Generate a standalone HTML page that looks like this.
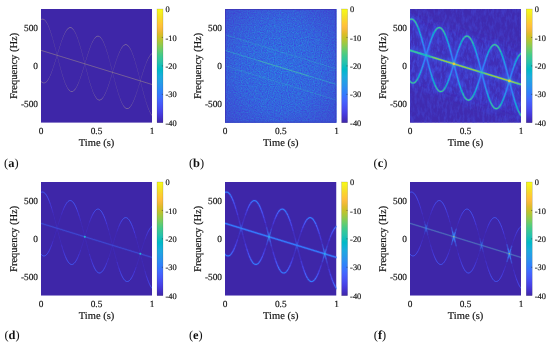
<!DOCTYPE html>
<html lang="en"><head><meta charset="utf-8"><title>Time-frequency representations</title>
<style>
html,body{margin:0;padding:0;background:#fff;}
body{width:550px;height:344px;overflow:hidden;}
svg{display:block;}
text{font-family:"Liberation Serif","Times New Roman",serif;fill:#141414;stroke:#141414;stroke-width:0.18px;text-rendering:geometricPrecision;}
.tk{font-size:9.3px;}
.cbt{font-size:8.4px;}
.ax{font-size:10.5px;}
.sub{font-size:12.4px;fill:#111;stroke:none;}
.sub tspan{font-weight:bold;}
</style></head><body>
<svg width="550" height="344" viewBox="0 0 550 344">
<defs>
<linearGradient id="cb" x1="0" y1="0" x2="0" y2="1"><stop offset="0.0000" stop-color="#f9fb15"/><stop offset="0.0312" stop-color="#f6ef20"/><stop offset="0.0625" stop-color="#f5e327"/><stop offset="0.0938" stop-color="#f9d62d"/><stop offset="0.1250" stop-color="#feca33"/><stop offset="0.1562" stop-color="#febe3c"/><stop offset="0.1875" stop-color="#f1ba37"/><stop offset="0.2188" stop-color="#debc2a"/><stop offset="0.2500" stop-color="#c8c129"/><stop offset="0.2812" stop-color="#afc637"/><stop offset="0.3125" stop-color="#94ca4a"/><stop offset="0.3438" stop-color="#77cc60"/><stop offset="0.3750" stop-color="#5ccc76"/><stop offset="0.4062" stop-color="#44ca8a"/><stop offset="0.4375" stop-color="#34c79c"/><stop offset="0.4688" stop-color="#28c2ab"/><stop offset="0.5000" stop-color="#12beb9"/><stop offset="0.5312" stop-color="#01b9c6"/><stop offset="0.5625" stop-color="#0cb3d3"/><stop offset="0.5938" stop-color="#1aacdd"/><stop offset="0.6250" stop-color="#21a3e3"/><stop offset="0.6562" stop-color="#269ae9"/><stop offset="0.6875" stop-color="#2c90f0"/><stop offset="0.7188" stop-color="#2e85f8"/><stop offset="0.7500" stop-color="#347afd"/><stop offset="0.7812" stop-color="#3f6efe"/><stop offset="0.8125" stop-color="#4562fc"/><stop offset="0.8438" stop-color="#4757f7"/><stop offset="0.8750" stop-color="#484cef"/><stop offset="0.9062" stop-color="#4741e5"/><stop offset="0.9375" stop-color="#4536d5"/><stop offset="0.9688" stop-color="#422ebf"/><stop offset="1.0000" stop-color="#3e26a8"/></linearGradient>
<filter id="b03" x="-20%" y="-20%" width="140%" height="140%"><feGaussianBlur stdDeviation="0.3"/></filter>
<filter id="b05" x="-20%" y="-20%" width="140%" height="140%"><feGaussianBlur stdDeviation="0.5"/></filter>
<filter id="b1" x="-20%" y="-20%" width="140%" height="140%"><feGaussianBlur stdDeviation="1"/></filter>
<filter id="b2" x="-20%" y="-20%" width="140%" height="140%"><feGaussianBlur stdDeviation="2"/></filter>
<filter id="b4" x="-30%" y="-30%" width="160%" height="160%"><feGaussianBlur stdDeviation="4"/></filter>
<filter id="nz" color-interpolation-filters="sRGB" x="0" y="0" width="100%" height="100%"><feTurbulence type="fractalNoise" baseFrequency="0.85" numOctaves="2" seed="3" result="n"/><feColorMatrix in="n" type="matrix" values="-0.10 0 0 0 0.24  0.42 0 0 0 0.22  0 0 0.1 0 0.83  0 0 0 0 1"/></filter>
<filter id="nz2" color-interpolation-filters="sRGB" x="0" y="0" width="100%" height="100%"><feTurbulence type="fractalNoise" baseFrequency="0.4 0.14" numOctaves="3" seed="11" result="n"/><feColorMatrix in="n" type="matrix" values="0 0 0 0 0.27  0 0 0 0 0.34  0 0 0 0 0.92  2.6 0 0 0 -1.0"/></filter>
<radialGradient id="rb" cx="0.5" cy="0.5" r="0.75"><stop offset="0" stop-color="#4438c8" stop-opacity="0"/><stop offset="0.5" stop-color="#4438c8" stop-opacity="0.17"/><stop offset="1" stop-color="#4438c8" stop-opacity="0.68"/></radialGradient>
<linearGradient id="lgc" gradientUnits="userSpaceOnUse" x1="0" y1="0" x2="111" y2="0"><stop offset="0" stop-color="#39c895"/><stop offset="0.08" stop-color="#39c895"/><stop offset="0.13" stop-color="#05b6ce"/><stop offset="0.17" stop-color="#12beb9"/><stop offset="0.22" stop-color="#88cb53"/><stop offset="0.36" stop-color="#9fc942"/><stop offset="0.4" stop-color="#eaba31"/><stop offset="0.44" stop-color="#9fc942"/><stop offset="0.6" stop-color="#94ca4a"/><stop offset="0.645" stop-color="#39c895"/><stop offset="0.69" stop-color="#94ca4a"/><stop offset="0.86" stop-color="#b4c533"/><stop offset="0.9" stop-color="#f8ba3d"/><stop offset="0.94" stop-color="#88cb53"/><stop offset="1" stop-color="#5ccc76"/></linearGradient>
<clipPath id="cp00"><rect x="0" y="0" width="111" height="113.8"/></clipPath>
<clipPath id="cp01"><rect x="0" y="0" width="111.5" height="113.8"/></clipPath>
<clipPath id="cp02"><rect x="0" y="0" width="111" height="113.8"/></clipPath>
<clipPath id="cp10"><rect x="0" y="0" width="111" height="113.7"/></clipPath>
<clipPath id="cp11"><rect x="0" y="0" width="111.5" height="113.7"/></clipPath>
<clipPath id="cp12"><rect x="0" y="0" width="111" height="113.7"/></clipPath>
</defs>
<rect width="550" height="344" fill="#fff"/>
<g transform="translate(41,9)" clip-path="url(#cp00)">
<rect width="111" height="113.8" fill="#3e26a8"/>
<path d="M-1.11,11.03 L-0.64,10.59 L-0.17,10.24 L0.31,9.97 L0.78,9.80 L1.25,9.71 L1.72,9.71 L2.19,9.81 L2.66,9.99 L3.14,10.27 L3.61,10.64 L4.08,11.09 L4.55,11.64 L5.02,12.27 L5.49,12.99 L5.97,13.79 L6.44,14.68 L6.91,15.65 L7.38,16.69 L7.85,17.81 L8.32,19.01 L8.80,20.27 L9.27,21.60 L9.74,23.00 L10.21,24.45 L10.68,25.96 L11.16,27.52 L11.63,29.14 L12.10,30.79 L12.57,32.49 L13.04,34.22 L13.51,35.98 L13.99,37.76 L14.46,39.57 L14.93,41.40 L15.40,43.23 L15.87,45.08 L16.34,46.93 L16.82,48.77 L17.29,50.61 L17.76,52.43 L18.23,54.24 L18.70,56.02 L19.18,57.78 L19.65,59.51 L20.12,61.20 L20.59,62.86 L21.06,64.46 L21.53,66.02 L22.01,67.53 L22.48,68.98 L22.95,70.37 L23.42,71.70 L23.89,72.96 L24.36,74.15 L24.84,75.27 L25.31,76.31 L25.78,77.27 L26.25,78.15 L26.72,78.95 L27.20,79.67 L27.67,80.29 L28.14,80.83 L28.61,81.28 L29.08,81.65 L29.55,81.92 L30.03,82.10 L30.50,82.18 L30.97,82.18 L31.44,82.09 L31.91,81.91 L32.38,81.64 L32.86,81.28 L33.33,80.84 L33.80,80.31 L34.27,79.70 L34.74,79.01 L35.21,78.24 L35.69,77.39 L36.16,76.48 L36.63,75.49 L37.10,74.44 L37.57,73.32 L38.05,72.15 L38.52,70.92 L38.99,69.64 L39.46,68.31 L39.93,66.94 L40.40,65.53 L40.88,64.08 L41.35,62.60 L41.82,61.10 L42.29,59.58 L42.76,58.04 L43.23,56.50 L43.71,54.94 L44.18,53.38 L44.65,51.83 L45.12,50.29 L45.59,48.75 L46.06,47.24 L46.54,45.75 L47.01,44.29 L47.48,42.85 L47.95,41.46 L48.42,40.10 L48.90,38.79 L49.37,37.53 L49.84,36.33 L50.31,35.17 L50.78,34.09 L51.25,33.06 L51.73,32.10 L52.20,31.21 L52.67,30.40 L53.14,29.66 L53.61,29.01 L54.08,28.43 L54.56,27.93 L55.03,27.53 L55.50,27.20 L55.97,26.97 L56.44,26.83 L56.92,26.77 L57.39,26.81 L57.86,26.93 L58.33,27.15 L58.80,27.46 L59.27,27.86 L59.75,28.34 L60.22,28.92 L60.69,29.58 L61.16,30.33 L61.63,31.16 L62.10,32.08 L62.58,33.08 L63.05,34.15 L63.52,35.30 L63.99,36.51 L64.46,37.80 L64.94,39.16 L65.41,40.57 L65.88,42.05 L66.35,43.58 L66.82,45.16 L67.29,46.78 L67.77,48.45 L68.24,50.16 L68.71,51.90 L69.18,53.67 L69.65,55.47 L70.12,57.28 L70.60,59.11 L71.07,60.95 L71.54,62.80 L72.01,64.65 L72.48,66.49 L72.95,68.32 L73.43,70.14 L73.90,71.94 L74.37,73.72 L74.84,75.47 L75.31,77.18 L75.79,78.86 L76.26,80.50 L76.73,82.09 L77.20,83.63 L77.67,85.12 L78.14,86.55 L78.62,87.92 L79.09,89.22 L79.56,90.46 L80.03,91.62 L80.50,92.71 L80.97,93.73 L81.45,94.66 L81.92,95.51 L82.39,96.28 L82.86,96.97 L83.33,97.56 L83.81,98.07 L84.28,98.49 L84.75,98.82 L85.22,99.06 L85.69,99.21 L86.16,99.26 L86.64,99.23 L87.11,99.11 L87.58,98.89 L88.05,98.59 L88.52,98.20 L88.99,97.73 L89.47,97.17 L89.94,96.53 L90.41,95.81 L90.88,95.02 L91.35,94.15 L91.82,93.21 L92.30,92.20 L92.77,91.12 L93.24,89.99 L93.71,88.79 L94.18,87.54 L94.66,86.24 L95.13,84.90 L95.60,83.51 L96.07,82.09 L96.54,80.63 L97.01,79.15 L97.49,77.64 L97.96,76.11 L98.43,74.57 L98.90,73.02 L99.37,71.46 L99.84,69.91 L100.32,68.35 L100.79,66.81 L101.26,65.29 L101.73,63.78 L102.20,62.30 L102.68,60.85 L103.15,59.43 L103.62,58.05 L104.09,56.71 L104.56,55.41 L105.03,54.17 L105.51,52.98 L105.98,51.85 L106.45,50.79 L106.92,49.78 L107.39,48.85 L107.86,47.99 L108.34,47.20 L108.81,46.49 L109.28,45.86 L109.75,45.31 L110.22,44.85 L110.69,44.47 L111.17,44.18 L111.64,43.98 L112.11,43.87 L112.11,44.57 L111.64,44.68 L111.17,44.88 L110.69,45.17 L110.22,45.55 L109.75,46.01 L109.28,46.56 L108.81,47.19 L108.34,47.90 L107.86,48.69 L107.39,49.55 L106.92,50.48 L106.45,51.49 L105.98,52.55 L105.51,53.68 L105.03,54.87 L104.56,56.11 L104.09,57.41 L103.62,58.75 L103.15,60.13 L102.68,61.55 L102.20,63.00 L101.73,64.48 L101.26,65.99 L100.79,67.51 L100.32,69.05 L99.84,70.61 L99.37,72.16 L98.90,73.72 L98.43,75.27 L97.96,76.81 L97.49,78.34 L97.01,79.85 L96.54,81.33 L96.07,82.79 L95.60,84.21 L95.13,85.60 L94.66,86.94 L94.18,88.24 L93.71,89.49 L93.24,90.69 L92.77,91.82 L92.30,92.90 L91.82,93.91 L91.35,94.85 L90.88,95.72 L90.41,96.51 L89.94,97.23 L89.47,97.87 L88.99,98.43 L88.52,98.90 L88.05,99.29 L87.58,99.59 L87.11,99.81 L86.64,99.93 L86.16,99.96 L85.69,99.91 L85.22,99.76 L84.75,99.52 L84.28,99.19 L83.81,98.77 L83.33,98.26 L82.86,97.67 L82.39,96.98 L81.92,96.21 L81.45,95.36 L80.97,94.43 L80.50,93.41 L80.03,92.32 L79.56,91.16 L79.09,89.92 L78.62,88.62 L78.14,87.25 L77.67,85.82 L77.20,84.33 L76.73,82.79 L76.26,81.20 L75.79,79.56 L75.31,77.88 L74.84,76.17 L74.37,74.42 L73.90,72.64 L73.43,70.84 L72.95,69.02 L72.48,67.19 L72.01,65.35 L71.54,63.50 L71.07,61.65 L70.60,59.81 L70.12,57.98 L69.65,56.17 L69.18,54.37 L68.71,52.60 L68.24,50.86 L67.77,49.15 L67.29,47.48 L66.82,45.86 L66.35,44.28 L65.88,42.75 L65.41,41.27 L64.94,39.86 L64.46,38.50 L63.99,37.21 L63.52,36.00 L63.05,34.85 L62.58,33.78 L62.10,32.78 L61.63,31.86 L61.16,31.03 L60.69,30.28 L60.22,29.62 L59.75,29.04 L59.27,28.56 L58.80,28.16 L58.33,27.85 L57.86,27.63 L57.39,27.51 L56.92,27.47 L56.44,27.53 L55.97,27.67 L55.50,27.90 L55.03,28.23 L54.56,28.63 L54.08,29.13 L53.61,29.71 L53.14,30.36 L52.67,31.10 L52.20,31.91 L51.73,32.80 L51.25,33.76 L50.78,34.79 L50.31,35.87 L49.84,37.03 L49.37,38.23 L48.90,39.49 L48.42,40.80 L47.95,42.16 L47.48,43.55 L47.01,44.99 L46.54,46.45 L46.06,47.94 L45.59,49.45 L45.12,50.99 L44.65,52.53 L44.18,54.08 L43.71,55.64 L43.23,57.20 L42.76,58.74 L42.29,60.28 L41.82,61.80 L41.35,63.30 L40.88,64.78 L40.40,66.23 L39.93,67.64 L39.46,69.01 L38.99,70.34 L38.52,71.62 L38.05,72.85 L37.57,74.02 L37.10,75.14 L36.63,76.19 L36.16,77.18 L35.69,78.09 L35.21,78.94 L34.74,79.71 L34.27,80.40 L33.80,81.01 L33.33,81.54 L32.86,81.98 L32.38,82.34 L31.91,82.61 L31.44,82.79 L30.97,82.88 L30.50,82.88 L30.03,82.80 L29.55,82.62 L29.08,82.35 L28.61,81.98 L28.14,81.53 L27.67,80.99 L27.20,80.37 L26.72,79.65 L26.25,78.85 L25.78,77.97 L25.31,77.01 L24.84,75.97 L24.36,74.85 L23.89,73.66 L23.42,72.40 L22.95,71.07 L22.48,69.68 L22.01,68.23 L21.53,66.72 L21.06,65.16 L20.59,63.56 L20.12,61.90 L19.65,60.21 L19.18,58.48 L18.70,56.72 L18.23,54.94 L17.76,53.13 L17.29,51.31 L16.82,49.47 L16.34,47.63 L15.87,45.78 L15.40,43.93 L14.93,42.10 L14.46,40.27 L13.99,38.46 L13.51,36.68 L13.04,34.92 L12.57,33.19 L12.10,31.49 L11.63,29.84 L11.16,28.22 L10.68,26.66 L10.21,25.15 L9.74,23.70 L9.27,22.30 L8.80,20.97 L8.32,19.71 L7.85,18.51 L7.38,17.39 L6.91,16.35 L6.44,15.38 L5.97,14.49 L5.49,13.69 L5.02,12.97 L4.55,12.34 L4.08,11.79 L3.61,11.34 L3.14,10.97 L2.66,10.69 L2.19,10.51 L1.72,10.41 L1.25,10.41 L0.78,10.50 L0.31,10.67 L-0.17,10.94 L-0.64,11.29 L-1.11,11.73Z" fill="#e8d890" fill-opacity="0.42"/>
<path d="M-1.11,70.28 L-0.64,71.01 L-0.17,71.65 L0.31,72.21 L0.78,72.68 L1.25,73.05 L1.72,73.34 L2.19,73.54 L2.66,73.64 L3.14,73.65 L3.61,73.58 L4.08,73.41 L4.55,73.16 L5.02,72.82 L5.49,72.39 L5.97,71.87 L6.44,71.28 L6.91,70.60 L7.38,69.84 L7.85,69.01 L8.32,68.11 L8.80,67.14 L9.27,66.09 L9.74,64.99 L10.21,63.83 L10.68,62.61 L11.16,61.33 L11.63,60.01 L12.10,58.65 L12.57,57.24 L13.04,55.80 L13.51,54.33 L13.99,52.83 L14.46,51.32 L14.93,49.78 L15.40,48.23 L15.87,46.68 L16.34,45.12 L16.82,43.57 L17.29,42.02 L17.76,40.49 L18.23,38.97 L18.70,37.48 L19.18,36.01 L19.65,34.57 L20.12,33.17 L20.59,31.80 L21.06,30.49 L21.53,29.22 L22.01,28.00 L22.48,26.84 L22.95,25.74 L23.42,24.70 L23.89,23.73 L24.36,22.83 L24.84,22.00 L25.31,21.25 L25.78,20.58 L26.25,19.99 L26.72,19.48 L27.20,19.06 L27.67,18.72 L28.14,18.47 L28.61,18.31 L29.08,18.24 L29.55,18.26 L30.03,18.37 L30.50,18.57 L30.97,18.86 L31.44,19.24 L31.91,19.72 L32.38,20.28 L32.86,20.92 L33.33,21.66 L33.80,22.48 L34.27,23.38 L34.74,24.36 L35.21,25.42 L35.69,26.55 L36.16,27.76 L36.63,29.04 L37.10,30.38 L37.57,31.78 L38.05,33.25 L38.52,34.77 L38.99,36.34 L39.46,37.96 L39.93,39.62 L40.40,41.32 L40.88,43.06 L41.35,44.82 L41.82,46.62 L42.29,48.43 L42.76,50.26 L43.23,52.09 L43.71,53.94 L44.18,55.79 L44.65,57.63 L45.12,59.46 L45.59,61.29 L46.06,63.09 L46.54,64.87 L47.01,66.63 L47.48,68.35 L47.95,70.03 L48.42,71.68 L48.90,73.28 L49.37,74.83 L49.84,76.33 L50.31,77.77 L50.78,79.15 L51.25,80.46 L51.73,81.71 L52.20,82.89 L52.67,83.99 L53.14,85.02 L53.61,85.97 L54.08,86.84 L54.56,87.62 L55.03,88.32 L55.50,88.93 L55.97,89.45 L56.44,89.89 L56.92,90.23 L57.39,90.49 L57.86,90.65 L58.33,90.73 L58.80,90.71 L59.27,90.60 L59.75,90.40 L60.22,90.12 L60.69,89.74 L61.16,89.29 L61.63,88.74 L62.10,88.12 L62.58,87.41 L63.05,86.63 L63.52,85.77 L63.99,84.84 L64.46,83.85 L64.94,82.78 L65.41,81.66 L65.88,80.47 L66.35,79.23 L66.82,77.94 L67.29,76.60 L67.77,75.23 L68.24,73.81 L68.71,72.36 L69.18,70.88 L69.65,69.37 L70.12,67.85 L70.60,66.31 L71.07,64.76 L71.54,63.20 L72.01,61.64 L72.48,60.09 L72.95,58.55 L73.43,57.02 L73.90,55.51 L74.37,54.02 L74.84,52.57 L75.31,51.14 L75.79,49.75 L76.26,48.40 L76.73,47.10 L77.20,45.85 L77.67,44.65 L78.14,43.51 L78.62,42.43 L79.09,41.42 L79.56,40.47 L80.03,39.60 L80.50,38.80 L80.97,38.08 L81.45,37.43 L81.92,36.87 L82.39,36.39 L82.86,36.00 L83.33,35.69 L83.81,35.47 L84.28,35.34 L84.75,35.31 L85.22,35.36 L85.69,35.50 L86.16,35.73 L86.64,36.06 L87.11,36.47 L87.58,36.97 L88.05,37.57 L88.52,38.24 L88.99,39.01 L89.47,39.86 L89.94,40.78 L90.41,41.79 L90.88,42.88 L91.35,44.04 L91.82,45.27 L92.30,46.57 L92.77,47.94 L93.24,49.36 L93.71,50.85 L94.18,52.39 L94.66,53.98 L95.13,55.61 L95.60,57.29 L96.07,59.00 L96.54,60.75 L97.01,62.52 L97.49,64.32 L97.96,66.14 L98.43,67.97 L98.90,69.82 L99.37,71.66 L99.84,73.51 L100.32,75.35 L100.79,77.18 L101.26,78.99 L101.73,80.79 L102.20,82.56 L102.68,84.31 L103.15,86.02 L103.62,87.69 L104.09,89.32 L104.56,90.90 L105.03,92.43 L105.51,93.91 L105.98,95.33 L106.45,96.69 L106.92,97.98 L107.39,99.21 L107.86,100.36 L108.34,101.43 L108.81,102.43 L109.28,103.35 L109.75,104.19 L110.22,104.95 L110.69,105.61 L111.17,106.20 L111.64,106.69 L112.11,107.09 L112.11,107.79 L111.64,107.39 L111.17,106.90 L110.69,106.31 L110.22,105.65 L109.75,104.89 L109.28,104.05 L108.81,103.13 L108.34,102.13 L107.86,101.06 L107.39,99.91 L106.92,98.68 L106.45,97.39 L105.98,96.03 L105.51,94.61 L105.03,93.13 L104.56,91.60 L104.09,90.02 L103.62,88.39 L103.15,86.72 L102.68,85.01 L102.20,83.26 L101.73,81.49 L101.26,79.69 L100.79,77.88 L100.32,76.05 L99.84,74.21 L99.37,72.36 L98.90,70.52 L98.43,68.67 L97.96,66.84 L97.49,65.02 L97.01,63.22 L96.54,61.45 L96.07,59.70 L95.60,57.99 L95.13,56.31 L94.66,54.68 L94.18,53.09 L93.71,51.55 L93.24,50.06 L92.77,48.64 L92.30,47.27 L91.82,45.97 L91.35,44.74 L90.88,43.58 L90.41,42.49 L89.94,41.48 L89.47,40.56 L88.99,39.71 L88.52,38.94 L88.05,38.27 L87.58,37.67 L87.11,37.17 L86.64,36.76 L86.16,36.43 L85.69,36.20 L85.22,36.06 L84.75,36.01 L84.28,36.04 L83.81,36.17 L83.33,36.39 L82.86,36.70 L82.39,37.09 L81.92,37.57 L81.45,38.13 L80.97,38.78 L80.50,39.50 L80.03,40.30 L79.56,41.17 L79.09,42.12 L78.62,43.13 L78.14,44.21 L77.67,45.35 L77.20,46.55 L76.73,47.80 L76.26,49.10 L75.79,50.45 L75.31,51.84 L74.84,53.27 L74.37,54.72 L73.90,56.21 L73.43,57.72 L72.95,59.25 L72.48,60.79 L72.01,62.34 L71.54,63.90 L71.07,65.46 L70.60,67.01 L70.12,68.55 L69.65,70.07 L69.18,71.58 L68.71,73.06 L68.24,74.51 L67.77,75.93 L67.29,77.30 L66.82,78.64 L66.35,79.93 L65.88,81.17 L65.41,82.36 L64.94,83.48 L64.46,84.55 L63.99,85.54 L63.52,86.47 L63.05,87.33 L62.58,88.11 L62.10,88.82 L61.63,89.44 L61.16,89.99 L60.69,90.44 L60.22,90.82 L59.75,91.10 L59.27,91.30 L58.80,91.41 L58.33,91.43 L57.86,91.35 L57.39,91.19 L56.92,90.93 L56.44,90.59 L55.97,90.15 L55.50,89.63 L55.03,89.02 L54.56,88.32 L54.08,87.54 L53.61,86.67 L53.14,85.72 L52.67,84.69 L52.20,83.59 L51.73,82.41 L51.25,81.16 L50.78,79.85 L50.31,78.47 L49.84,77.03 L49.37,75.53 L48.90,73.98 L48.42,72.38 L47.95,70.73 L47.48,69.05 L47.01,67.33 L46.54,65.57 L46.06,63.79 L45.59,61.99 L45.12,60.16 L44.65,58.33 L44.18,56.49 L43.71,54.64 L43.23,52.79 L42.76,50.96 L42.29,49.13 L41.82,47.32 L41.35,45.52 L40.88,43.76 L40.40,42.02 L39.93,40.32 L39.46,38.66 L38.99,37.04 L38.52,35.47 L38.05,33.95 L37.57,32.48 L37.10,31.08 L36.63,29.74 L36.16,28.46 L35.69,27.25 L35.21,26.12 L34.74,25.06 L34.27,24.08 L33.80,23.18 L33.33,22.36 L32.86,21.62 L32.38,20.98 L31.91,20.42 L31.44,19.94 L30.97,19.56 L30.50,19.27 L30.03,19.07 L29.55,18.96 L29.08,18.94 L28.61,19.01 L28.14,19.17 L27.67,19.42 L27.20,19.76 L26.72,20.18 L26.25,20.69 L25.78,21.28 L25.31,21.95 L24.84,22.70 L24.36,23.53 L23.89,24.43 L23.42,25.40 L22.95,26.44 L22.48,27.54 L22.01,28.70 L21.53,29.92 L21.06,31.19 L20.59,32.50 L20.12,33.87 L19.65,35.27 L19.18,36.71 L18.70,38.18 L18.23,39.67 L17.76,41.19 L17.29,42.72 L16.82,44.27 L16.34,45.82 L15.87,47.38 L15.40,48.93 L14.93,50.48 L14.46,52.02 L13.99,53.53 L13.51,55.03 L13.04,56.50 L12.57,57.94 L12.10,59.35 L11.63,60.71 L11.16,62.03 L10.68,63.31 L10.21,64.53 L9.74,65.69 L9.27,66.79 L8.80,67.84 L8.32,68.81 L7.85,69.71 L7.38,70.54 L6.91,71.30 L6.44,71.98 L5.97,72.57 L5.49,73.09 L5.02,73.52 L4.55,73.86 L4.08,74.11 L3.61,74.28 L3.14,74.35 L2.66,74.34 L2.19,74.24 L1.72,74.04 L1.25,73.75 L0.78,73.38 L0.31,72.91 L-0.17,72.35 L-0.64,71.71 L-1.11,70.98Z" fill="#e8d890" fill-opacity="0.42"/>
<path d="M-1.11,41.01 L-0.64,41.15 L-0.17,41.30 L0.31,41.44 L0.78,41.59 L1.25,41.73 L1.72,41.88 L2.19,42.02 L2.66,42.17 L3.14,42.31 L3.61,42.46 L4.08,42.60 L4.55,42.75 L5.02,42.89 L5.49,43.04 L5.97,43.18 L6.44,43.33 L6.91,43.47 L7.38,43.62 L7.85,43.76 L8.32,43.91 L8.80,44.05 L9.27,44.20 L9.74,44.34 L10.21,44.49 L10.68,44.63 L11.16,44.78 L11.63,44.92 L12.10,45.07 L12.57,45.21 L13.04,45.36 L13.51,45.50 L13.99,45.65 L14.46,45.79 L14.93,45.94 L15.40,46.08 L15.87,46.23 L16.34,46.37 L16.82,46.52 L17.29,46.66 L17.76,46.81 L18.23,46.95 L18.70,47.10 L19.18,47.25 L19.65,47.39 L20.12,47.54 L20.59,47.68 L21.06,47.83 L21.53,47.97 L22.01,48.12 L22.48,48.26 L22.95,48.41 L23.42,48.55 L23.89,48.70 L24.36,48.84 L24.84,48.99 L25.31,49.13 L25.78,49.28 L26.25,49.42 L26.72,49.57 L27.20,49.71 L27.67,49.86 L28.14,50.00 L28.61,50.15 L29.08,50.29 L29.55,50.44 L30.03,50.58 L30.50,50.73 L30.97,50.87 L31.44,51.02 L31.91,51.16 L32.38,51.31 L32.86,51.45 L33.33,51.60 L33.80,51.74 L34.27,51.89 L34.74,52.03 L35.21,52.18 L35.69,52.32 L36.16,52.47 L36.63,52.61 L37.10,52.76 L37.57,52.90 L38.05,53.05 L38.52,53.19 L38.99,53.34 L39.46,53.48 L39.93,53.63 L40.40,53.77 L40.88,53.92 L41.35,54.06 L41.82,54.21 L42.29,54.35 L42.76,54.50 L43.23,54.64 L43.71,54.79 L44.18,54.94 L44.65,55.08 L45.12,55.23 L45.59,55.37 L46.06,55.52 L46.54,55.66 L47.01,55.81 L47.48,55.95 L47.95,56.10 L48.42,56.24 L48.90,56.39 L49.37,56.53 L49.84,56.68 L50.31,56.82 L50.78,56.97 L51.25,57.11 L51.73,57.26 L52.20,57.40 L52.67,57.55 L53.14,57.69 L53.61,57.84 L54.08,57.98 L54.56,58.13 L55.03,58.27 L55.50,58.42 L55.97,58.56 L56.44,58.71 L56.92,58.85 L57.39,59.00 L57.86,59.14 L58.33,59.29 L58.80,59.43 L59.27,59.58 L59.75,59.72 L60.22,59.87 L60.69,60.01 L61.16,60.16 L61.63,60.30 L62.10,60.45 L62.58,60.59 L63.05,60.74 L63.52,60.88 L63.99,61.03 L64.46,61.17 L64.94,61.32 L65.41,61.46 L65.88,61.61 L66.35,61.75 L66.82,61.90 L67.29,62.04 L67.77,62.19 L68.24,62.33 L68.71,62.48 L69.18,62.63 L69.65,62.77 L70.12,62.92 L70.60,63.06 L71.07,63.21 L71.54,63.35 L72.01,63.50 L72.48,63.64 L72.95,63.79 L73.43,63.93 L73.90,64.08 L74.37,64.22 L74.84,64.37 L75.31,64.51 L75.79,64.66 L76.26,64.80 L76.73,64.95 L77.20,65.09 L77.67,65.24 L78.14,65.38 L78.62,65.53 L79.09,65.67 L79.56,65.82 L80.03,65.96 L80.50,66.11 L80.97,66.25 L81.45,66.40 L81.92,66.54 L82.39,66.69 L82.86,66.83 L83.33,66.98 L83.81,67.12 L84.28,67.27 L84.75,67.41 L85.22,67.56 L85.69,67.70 L86.16,67.85 L86.64,67.99 L87.11,68.14 L87.58,68.28 L88.05,68.43 L88.52,68.57 L88.99,68.72 L89.47,68.86 L89.94,69.01 L90.41,69.15 L90.88,69.30 L91.35,69.44 L91.82,69.59 L92.30,69.73 L92.77,69.88 L93.24,70.02 L93.71,70.17 L94.18,70.32 L94.66,70.46 L95.13,70.61 L95.60,70.75 L96.07,70.90 L96.54,71.04 L97.01,71.19 L97.49,71.33 L97.96,71.48 L98.43,71.62 L98.90,71.77 L99.37,71.91 L99.84,72.06 L100.32,72.20 L100.79,72.35 L101.26,72.49 L101.73,72.64 L102.20,72.78 L102.68,72.93 L103.15,73.07 L103.62,73.22 L104.09,73.36 L104.56,73.51 L105.03,73.65 L105.51,73.80 L105.98,73.94 L106.45,74.09 L106.92,74.23 L107.39,74.38 L107.86,74.52 L108.34,74.67 L108.81,74.81 L109.28,74.96 L109.75,75.10 L110.22,75.25 L110.69,75.39 L111.17,75.54 L111.64,75.68 L112.11,75.83" fill="none" stroke="#d8c880" stroke-opacity="0.56" stroke-width="0.7"/>
</g>
<rect x="157" y="9" width="6" height="113.8" fill="url(#cb)" stroke="#333" stroke-opacity="0.45" stroke-width="0.35"/>
<path d="M163,37.45 h-1.2" stroke="#333" stroke-width="0.5"/>
<path d="M163,65.90 h-1.2" stroke="#333" stroke-width="0.5"/>
<path d="M163,94.35 h-1.2" stroke="#333" stroke-width="0.5"/>
<text class="cbt" x="165.5" y="12.10">0</text>
<text class="cbt" x="165.5" y="40.55">-10</text>
<text class="cbt" x="165.5" y="69.00">-20</text>
<text class="cbt" x="165.5" y="97.45">-30</text>
<text class="cbt" x="165.5" y="125.90">-40</text>
<text class="tk" text-anchor="end" x="38" y="31.37">500</text>
<text class="tk" text-anchor="end" x="38" y="69.30">0</text>
<text class="tk" text-anchor="end" x="38" y="107.23">-500</text>
<text class="tk" text-anchor="middle" x="41.00" y="134.30">0</text>
<text class="tk" text-anchor="middle" x="96.50" y="134.30">0.5</text>
<text class="tk" text-anchor="middle" x="152.00" y="134.30">1</text>
<text class="ax" text-anchor="middle" x="96.50" y="146.00">Time (s)</text>
<text class="ax" text-anchor="middle" transform="translate(16.80,65.90) rotate(-90)">Frequency (Hz)</text>
<text class="sub" x="4.1" y="166.6">(<tspan>a</tspan>)</text>
<g transform="translate(225,9)" clip-path="url(#cp01)">
<rect width="111.5" height="113.8" fill="#2f74e4"/>
<rect width="111.5" height="113.8" filter="url(#nz)"/>
<rect width="111.5" height="113.8" fill="url(#rb)"/>
<path d="M-1.11,41.01 L27.32,49.71 L55.75,58.42 L84.18,67.12 L112.61,75.83" fill="none" stroke="#34c0c8" stroke-opacity="0.6" stroke-width="0.8"/>
<path d="M-1.11,25.45 L27.32,34.16 L55.75,42.86 L84.18,51.57 L112.61,60.28" fill="none" stroke="#34c0c8" stroke-opacity="0.36" stroke-width="0.8"/>
<path d="M-1.11,56.56 L27.32,65.26 L55.75,73.97 L84.18,82.68 L112.61,91.38" fill="none" stroke="#34c0c8" stroke-opacity="0.36" stroke-width="0.8"/>
<path d="M33.45,51.59 L45.99,55.43 L58.54,59.27 L71.08,63.11 L83.62,66.95" fill="none" stroke="#68d088" stroke-opacity="0.38" stroke-width="0.8"/>
<rect x="0.5" y="0.5" width="110.5" height="112.8" fill="none" stroke="#3e26a8" stroke-width="1" stroke-opacity="0.55"/>
</g>
<rect x="341.6" y="9" width="6" height="113.8" fill="url(#cb)" stroke="#333" stroke-opacity="0.45" stroke-width="0.35"/>
<path d="M347.6,37.45 h-1.2" stroke="#333" stroke-width="0.5"/>
<path d="M347.6,65.90 h-1.2" stroke="#333" stroke-width="0.5"/>
<path d="M347.6,94.35 h-1.2" stroke="#333" stroke-width="0.5"/>
<text class="cbt" x="350.1" y="12.10">0</text>
<text class="cbt" x="350.1" y="40.55">-10</text>
<text class="cbt" x="350.1" y="69.00">-20</text>
<text class="cbt" x="350.1" y="97.45">-30</text>
<text class="cbt" x="350.1" y="125.90">-40</text>
<text class="tk" text-anchor="end" x="222" y="31.37">500</text>
<text class="tk" text-anchor="end" x="222" y="69.30">0</text>
<text class="tk" text-anchor="end" x="222" y="107.23">-500</text>
<text class="tk" text-anchor="middle" x="225.00" y="134.30">0</text>
<text class="tk" text-anchor="middle" x="280.75" y="134.30">0.5</text>
<text class="tk" text-anchor="middle" x="336.50" y="134.30">1</text>
<text class="ax" text-anchor="middle" x="280.75" y="146.00">Time (s)</text>
<text class="ax" text-anchor="middle" transform="translate(200.80,65.90) rotate(-90)">Frequency (Hz)</text>
<text class="sub" x="188.9" y="166.6">(<tspan>b</tspan>)</text>
<g transform="translate(410,9)" clip-path="url(#cp02)">
<rect width="111" height="113.8" fill="#402eb6"/>
<rect width="111" height="113.8" filter="url(#nz2)" opacity="0.6"/>
<path d="M-11.10,2.28 L122.10,43.24 L122.10,-20 L-11.10,-20Z" fill="#3e26a8" fill-opacity="0.4" filter="url(#b4)"/>
<path d="M-11.10,73.59 L122.10,114.56 L122.10,133.80 L-11.10,133.80 Z" fill="#3e26a8" fill-opacity="0.4" filter="url(#b4)"/>
<path d="M-1.11,11.38 L-0.64,10.94 L-0.17,10.59 L0.31,10.32 L0.78,10.15 L1.25,10.06 L1.72,10.06 L2.19,10.16 L2.66,10.34 L3.14,10.62 L3.61,10.99 L4.08,11.44 L4.55,11.99 L5.02,12.62 L5.49,13.34 L5.97,14.14 L6.44,15.03 L6.91,16.00 L7.38,17.04 L7.85,18.16 L8.32,19.36 L8.80,20.62 L9.27,21.95 L9.74,23.35 L10.21,24.80 L10.68,26.31 L11.16,27.87 L11.63,29.49 L12.10,31.14 L12.57,32.84 L13.04,34.57 L13.51,36.33 L13.99,38.11 L14.46,39.92 L14.93,41.75 L15.40,43.58 L15.87,45.43 L16.34,47.28 L16.82,49.12 L17.29,50.96 L17.76,52.78 L18.23,54.59 L18.70,56.37 L19.18,58.13 L19.65,59.86 L20.12,61.55 L20.59,63.21 L21.06,64.81 L21.53,66.37 L22.01,67.88 L22.48,69.33 L22.95,70.72 L23.42,72.05 L23.89,73.31 L24.36,74.50 L24.84,75.62 L25.31,76.66 L25.78,77.62 L26.25,78.50 L26.72,79.30 L27.20,80.02 L27.67,80.64 L28.14,81.18 L28.61,81.63 L29.08,82.00 L29.55,82.27 L30.03,82.45 L30.50,82.53 L30.97,82.53 L31.44,82.44 L31.91,82.26 L32.38,81.99 L32.86,81.63 L33.33,81.19 L33.80,80.66 L34.27,80.05 L34.74,79.36 L35.21,78.59 L35.69,77.74 L36.16,76.83 L36.63,75.84 L37.10,74.79 L37.57,73.67 L38.05,72.50 L38.52,71.27 L38.99,69.99 L39.46,68.66 L39.93,67.29 L40.40,65.88 L40.88,64.43 L41.35,62.95 L41.82,61.45 L42.29,59.93 L42.76,58.39 L43.23,56.85 L43.71,55.29 L44.18,53.73 L44.65,52.18 L45.12,50.64 L45.59,49.10 L46.06,47.59 L46.54,46.10 L47.01,44.64 L47.48,43.20 L47.95,41.81 L48.42,40.45 L48.90,39.14 L49.37,37.88 L49.84,36.68 L50.31,35.52 L50.78,34.44 L51.25,33.41 L51.73,32.45 L52.20,31.56 L52.67,30.75 L53.14,30.01 L53.61,29.36 L54.08,28.78 L54.56,28.28 L55.03,27.88 L55.50,27.55 L55.97,27.32 L56.44,27.18 L56.92,27.12 L57.39,27.16 L57.86,27.28 L58.33,27.50 L58.80,27.81 L59.27,28.21 L59.75,28.69 L60.22,29.27 L60.69,29.93 L61.16,30.68 L61.63,31.51 L62.10,32.43 L62.58,33.43 L63.05,34.50 L63.52,35.65 L63.99,36.86 L64.46,38.15 L64.94,39.51 L65.41,40.92 L65.88,42.40 L66.35,43.93 L66.82,45.51 L67.29,47.13 L67.77,48.80 L68.24,50.51 L68.71,52.25 L69.18,54.02 L69.65,55.82 L70.12,57.63 L70.60,59.46 L71.07,61.30 L71.54,63.15 L72.01,65.00 L72.48,66.84 L72.95,68.67 L73.43,70.49 L73.90,72.29 L74.37,74.07 L74.84,75.82 L75.31,77.53 L75.79,79.21 L76.26,80.85 L76.73,82.44 L77.20,83.98 L77.67,85.47 L78.14,86.90 L78.62,88.27 L79.09,89.57 L79.56,90.81 L80.03,91.97 L80.50,93.06 L80.97,94.08 L81.45,95.01 L81.92,95.86 L82.39,96.63 L82.86,97.32 L83.33,97.91 L83.81,98.42 L84.28,98.84 L84.75,99.17 L85.22,99.41 L85.69,99.56 L86.16,99.61 L86.64,99.58 L87.11,99.46 L87.58,99.24 L88.05,98.94 L88.52,98.55 L88.99,98.08 L89.47,97.52 L89.94,96.88 L90.41,96.16 L90.88,95.37 L91.35,94.50 L91.82,93.56 L92.30,92.55 L92.77,91.47 L93.24,90.34 L93.71,89.14 L94.18,87.89 L94.66,86.59 L95.13,85.25 L95.60,83.86 L96.07,82.44 L96.54,80.98 L97.01,79.50 L97.49,77.99 L97.96,76.46 L98.43,74.92 L98.90,73.37 L99.37,71.81 L99.84,70.26 L100.32,68.70 L100.79,67.16 L101.26,65.64 L101.73,64.13 L102.20,62.65 L102.68,61.20 L103.15,59.78 L103.62,58.40 L104.09,57.06 L104.56,55.76 L105.03,54.52 L105.51,53.33 L105.98,52.20 L106.45,51.14 L106.92,50.13 L107.39,49.20 L107.86,48.34 L108.34,47.55 L108.81,46.84 L109.28,46.21 L109.75,45.66 L110.22,45.20 L110.69,44.82 L111.17,44.53 L111.64,44.33 L112.11,44.22" fill="none" stroke="#3c58ec" stroke-opacity="0.33" stroke-width="6" filter="url(#b2)"/>
<path d="M-1.11,70.63 L-0.64,71.36 L-0.17,72.00 L0.31,72.56 L0.78,73.03 L1.25,73.40 L1.72,73.69 L2.19,73.89 L2.66,73.99 L3.14,74.00 L3.61,73.93 L4.08,73.76 L4.55,73.51 L5.02,73.17 L5.49,72.74 L5.97,72.22 L6.44,71.63 L6.91,70.95 L7.38,70.19 L7.85,69.36 L8.32,68.46 L8.80,67.49 L9.27,66.44 L9.74,65.34 L10.21,64.18 L10.68,62.96 L11.16,61.68 L11.63,60.36 L12.10,59.00 L12.57,57.59 L13.04,56.15 L13.51,54.68 L13.99,53.18 L14.46,51.67 L14.93,50.13 L15.40,48.58 L15.87,47.03 L16.34,45.47 L16.82,43.92 L17.29,42.37 L17.76,40.84 L18.23,39.32 L18.70,37.83 L19.18,36.36 L19.65,34.92 L20.12,33.52 L20.59,32.15 L21.06,30.84 L21.53,29.57 L22.01,28.35 L22.48,27.19 L22.95,26.09 L23.42,25.05 L23.89,24.08 L24.36,23.18 L24.84,22.35 L25.31,21.60 L25.78,20.93 L26.25,20.34 L26.72,19.83 L27.20,19.41 L27.67,19.07 L28.14,18.82 L28.61,18.66 L29.08,18.59 L29.55,18.61 L30.03,18.72 L30.50,18.92 L30.97,19.21 L31.44,19.59 L31.91,20.07 L32.38,20.63 L32.86,21.27 L33.33,22.01 L33.80,22.83 L34.27,23.73 L34.74,24.71 L35.21,25.77 L35.69,26.90 L36.16,28.11 L36.63,29.39 L37.10,30.73 L37.57,32.13 L38.05,33.60 L38.52,35.12 L38.99,36.69 L39.46,38.31 L39.93,39.97 L40.40,41.67 L40.88,43.41 L41.35,45.17 L41.82,46.97 L42.29,48.78 L42.76,50.61 L43.23,52.44 L43.71,54.29 L44.18,56.14 L44.65,57.98 L45.12,59.81 L45.59,61.64 L46.06,63.44 L46.54,65.22 L47.01,66.98 L47.48,68.70 L47.95,70.38 L48.42,72.03 L48.90,73.63 L49.37,75.18 L49.84,76.68 L50.31,78.12 L50.78,79.50 L51.25,80.81 L51.73,82.06 L52.20,83.24 L52.67,84.34 L53.14,85.37 L53.61,86.32 L54.08,87.19 L54.56,87.97 L55.03,88.67 L55.50,89.28 L55.97,89.80 L56.44,90.24 L56.92,90.58 L57.39,90.84 L57.86,91.00 L58.33,91.08 L58.80,91.06 L59.27,90.95 L59.75,90.75 L60.22,90.47 L60.69,90.09 L61.16,89.64 L61.63,89.09 L62.10,88.47 L62.58,87.76 L63.05,86.98 L63.52,86.12 L63.99,85.19 L64.46,84.20 L64.94,83.13 L65.41,82.01 L65.88,80.82 L66.35,79.58 L66.82,78.29 L67.29,76.95 L67.77,75.58 L68.24,74.16 L68.71,72.71 L69.18,71.23 L69.65,69.72 L70.12,68.20 L70.60,66.66 L71.07,65.11 L71.54,63.55 L72.01,61.99 L72.48,60.44 L72.95,58.90 L73.43,57.37 L73.90,55.86 L74.37,54.37 L74.84,52.92 L75.31,51.49 L75.79,50.10 L76.26,48.75 L76.73,47.45 L77.20,46.20 L77.67,45.00 L78.14,43.86 L78.62,42.78 L79.09,41.77 L79.56,40.82 L80.03,39.95 L80.50,39.15 L80.97,38.43 L81.45,37.78 L81.92,37.22 L82.39,36.74 L82.86,36.35 L83.33,36.04 L83.81,35.82 L84.28,35.69 L84.75,35.66 L85.22,35.71 L85.69,35.85 L86.16,36.08 L86.64,36.41 L87.11,36.82 L87.58,37.32 L88.05,37.92 L88.52,38.59 L88.99,39.36 L89.47,40.21 L89.94,41.13 L90.41,42.14 L90.88,43.23 L91.35,44.39 L91.82,45.62 L92.30,46.92 L92.77,48.29 L93.24,49.71 L93.71,51.20 L94.18,52.74 L94.66,54.33 L95.13,55.96 L95.60,57.64 L96.07,59.35 L96.54,61.10 L97.01,62.87 L97.49,64.67 L97.96,66.49 L98.43,68.32 L98.90,70.17 L99.37,72.01 L99.84,73.86 L100.32,75.70 L100.79,77.53 L101.26,79.34 L101.73,81.14 L102.20,82.91 L102.68,84.66 L103.15,86.37 L103.62,88.04 L104.09,89.67 L104.56,91.25 L105.03,92.78 L105.51,94.26 L105.98,95.68 L106.45,97.04 L106.92,98.33 L107.39,99.56 L107.86,100.71 L108.34,101.78 L108.81,102.78 L109.28,103.70 L109.75,104.54 L110.22,105.30 L110.69,105.96 L111.17,106.55 L111.64,107.04 L112.11,107.44" fill="none" stroke="#3c58ec" stroke-opacity="0.33" stroke-width="6" filter="url(#b2)"/>
<path d="M-1.11,41.01 L-0.64,41.15 L-0.17,41.30 L0.31,41.44 L0.78,41.59 L1.25,41.73 L1.72,41.88 L2.19,42.02 L2.66,42.17 L3.14,42.31 L3.61,42.46 L4.08,42.60 L4.55,42.75 L5.02,42.89 L5.49,43.04 L5.97,43.18 L6.44,43.33 L6.91,43.47 L7.38,43.62 L7.85,43.76 L8.32,43.91 L8.80,44.05 L9.27,44.20 L9.74,44.34 L10.21,44.49 L10.68,44.63 L11.16,44.78 L11.63,44.92 L12.10,45.07 L12.57,45.21 L13.04,45.36 L13.51,45.50 L13.99,45.65 L14.46,45.79 L14.93,45.94 L15.40,46.08 L15.87,46.23 L16.34,46.37 L16.82,46.52 L17.29,46.66 L17.76,46.81 L18.23,46.95 L18.70,47.10 L19.18,47.25 L19.65,47.39 L20.12,47.54 L20.59,47.68 L21.06,47.83 L21.53,47.97 L22.01,48.12 L22.48,48.26 L22.95,48.41 L23.42,48.55 L23.89,48.70 L24.36,48.84 L24.84,48.99 L25.31,49.13 L25.78,49.28 L26.25,49.42 L26.72,49.57 L27.20,49.71 L27.67,49.86 L28.14,50.00 L28.61,50.15 L29.08,50.29 L29.55,50.44 L30.03,50.58 L30.50,50.73 L30.97,50.87 L31.44,51.02 L31.91,51.16 L32.38,51.31 L32.86,51.45 L33.33,51.60 L33.80,51.74 L34.27,51.89 L34.74,52.03 L35.21,52.18 L35.69,52.32 L36.16,52.47 L36.63,52.61 L37.10,52.76 L37.57,52.90 L38.05,53.05 L38.52,53.19 L38.99,53.34 L39.46,53.48 L39.93,53.63 L40.40,53.77 L40.88,53.92 L41.35,54.06 L41.82,54.21 L42.29,54.35 L42.76,54.50 L43.23,54.64 L43.71,54.79 L44.18,54.94 L44.65,55.08 L45.12,55.23 L45.59,55.37 L46.06,55.52 L46.54,55.66 L47.01,55.81 L47.48,55.95 L47.95,56.10 L48.42,56.24 L48.90,56.39 L49.37,56.53 L49.84,56.68 L50.31,56.82 L50.78,56.97 L51.25,57.11 L51.73,57.26 L52.20,57.40 L52.67,57.55 L53.14,57.69 L53.61,57.84 L54.08,57.98 L54.56,58.13 L55.03,58.27 L55.50,58.42 L55.97,58.56 L56.44,58.71 L56.92,58.85 L57.39,59.00 L57.86,59.14 L58.33,59.29 L58.80,59.43 L59.27,59.58 L59.75,59.72 L60.22,59.87 L60.69,60.01 L61.16,60.16 L61.63,60.30 L62.10,60.45 L62.58,60.59 L63.05,60.74 L63.52,60.88 L63.99,61.03 L64.46,61.17 L64.94,61.32 L65.41,61.46 L65.88,61.61 L66.35,61.75 L66.82,61.90 L67.29,62.04 L67.77,62.19 L68.24,62.33 L68.71,62.48 L69.18,62.63 L69.65,62.77 L70.12,62.92 L70.60,63.06 L71.07,63.21 L71.54,63.35 L72.01,63.50 L72.48,63.64 L72.95,63.79 L73.43,63.93 L73.90,64.08 L74.37,64.22 L74.84,64.37 L75.31,64.51 L75.79,64.66 L76.26,64.80 L76.73,64.95 L77.20,65.09 L77.67,65.24 L78.14,65.38 L78.62,65.53 L79.09,65.67 L79.56,65.82 L80.03,65.96 L80.50,66.11 L80.97,66.25 L81.45,66.40 L81.92,66.54 L82.39,66.69 L82.86,66.83 L83.33,66.98 L83.81,67.12 L84.28,67.27 L84.75,67.41 L85.22,67.56 L85.69,67.70 L86.16,67.85 L86.64,67.99 L87.11,68.14 L87.58,68.28 L88.05,68.43 L88.52,68.57 L88.99,68.72 L89.47,68.86 L89.94,69.01 L90.41,69.15 L90.88,69.30 L91.35,69.44 L91.82,69.59 L92.30,69.73 L92.77,69.88 L93.24,70.02 L93.71,70.17 L94.18,70.32 L94.66,70.46 L95.13,70.61 L95.60,70.75 L96.07,70.90 L96.54,71.04 L97.01,71.19 L97.49,71.33 L97.96,71.48 L98.43,71.62 L98.90,71.77 L99.37,71.91 L99.84,72.06 L100.32,72.20 L100.79,72.35 L101.26,72.49 L101.73,72.64 L102.20,72.78 L102.68,72.93 L103.15,73.07 L103.62,73.22 L104.09,73.36 L104.56,73.51 L105.03,73.65 L105.51,73.80 L105.98,73.94 L106.45,74.09 L106.92,74.23 L107.39,74.38 L107.86,74.52 L108.34,74.67 L108.81,74.81 L109.28,74.96 L109.75,75.10 L110.22,75.25 L110.69,75.39 L111.17,75.54 L111.64,75.68 L112.11,75.83" fill="none" stroke="#3c64f0" stroke-opacity="0.4" stroke-width="6" filter="url(#b2)"/>
<path d="M13.75,37.22 L14.10,38.56 L14.46,39.92 L14.81,41.29 L15.17,42.66 L15.52,44.04 L15.87,45.43 L16.23,46.81 L16.58,48.20 L16.93,49.58 L17.29,50.96 L17.64,52.33 L18.00,53.69 L18.35,55.04 L18.70,56.37 M41.70,61.83 L42.06,60.69 L42.41,59.55 L42.76,58.39 L43.12,57.23 L43.47,56.07 L43.82,54.90 L44.18,53.73 L44.53,52.57 L44.89,51.41 L45.24,50.25 L45.59,49.10 L45.95,47.97 L46.30,46.84 M69.30,54.47 L69.65,55.82 L70.01,57.18 L70.36,58.55 L70.71,59.92 L71.07,61.30 L71.42,62.69 L71.78,64.07 L72.13,65.46 L72.48,66.84 L72.84,68.21 L73.19,69.58 L73.54,70.94 L73.90,72.29 L74.25,73.63 M97.25,78.75 L97.60,77.61 L97.96,76.46 L98.31,75.31 L98.67,74.14 L99.02,72.98 L99.37,71.81 L99.73,70.64 L100.08,69.48 L100.43,68.32 L100.79,67.16 L101.14,66.02 L101.50,64.88 L101.85,63.76" fill="none" stroke="#4562fc" stroke-width="2.4" stroke-opacity="0.5" filter="url(#b05)"/>
<path d="M12.33,31.98 L12.69,33.26 L13.04,34.57 L13.40,35.88 L13.75,37.22 M18.70,56.37 L19.06,57.70 L19.41,59.00 L19.76,60.29 L20.12,61.55 M39.93,67.29 L40.29,66.23 L40.64,65.16 L40.99,64.06 L41.35,62.95 L41.70,61.83 M46.30,46.84 L46.65,45.73 L47.01,44.64 L47.36,43.56 L47.72,42.50 L48.07,41.47 M67.88,49.23 L68.24,50.51 L68.59,51.82 L68.94,53.14 L69.30,54.47 M74.25,73.63 L74.61,74.95 L74.96,76.25 L75.31,77.53 L75.67,78.80 M95.48,84.21 L95.83,83.16 L96.19,82.08 L96.54,80.98 L96.90,79.87 L97.25,78.75 M101.85,63.76 L102.20,62.65 L102.56,61.56 L102.91,60.48 L103.26,59.43 L103.62,58.40" fill="none" stroke="#4269fe" stroke-width="2.4" stroke-opacity="0.5" filter="url(#b05)"/>
<path d="M10.92,27.09 L11.27,28.27 L11.63,29.49 L11.98,30.72 L12.33,31.98 M20.12,61.55 L20.47,62.80 L20.83,64.02 L21.18,65.21 L21.53,66.37 M38.52,71.27 L38.87,70.31 L39.22,69.33 L39.58,68.32 L39.93,67.29 M48.07,41.47 L48.42,40.45 L48.78,39.47 L49.13,38.51 L49.49,37.58 M66.47,44.32 L66.82,45.51 L67.18,46.72 L67.53,47.96 L67.88,49.23 M75.67,78.80 L76.02,80.04 L76.37,81.25 L76.73,82.44 L77.08,83.60 M94.07,88.21 L94.42,87.25 L94.77,86.26 L95.13,85.25 L95.48,84.21 M103.62,58.40 L103.97,57.39 L104.33,56.40 L104.68,55.45 L105.03,54.52" fill="none" stroke="#3c72ff" stroke-width="2.4" stroke-opacity="0.5" filter="url(#b05)"/>
<path d="M9.50,22.64 L9.86,23.70 L10.21,24.80 L10.57,25.93 L10.92,27.09 M21.53,66.37 L21.89,67.51 L22.24,68.61 L22.60,69.69 L22.95,70.72 M37.46,73.96 L37.81,73.09 L38.16,72.20 L38.52,71.27 M49.49,37.58 L49.84,36.68 L50.19,35.81 L50.55,34.97 L50.90,34.17 M65.05,39.86 L65.41,40.92 L65.76,42.02 L66.11,43.16 L66.47,44.32 M77.08,83.60 L77.44,84.73 L77.79,85.83 L78.14,86.90 L78.50,87.93 M92.65,91.75 L93.00,90.91 L93.36,90.04 L93.71,89.14 L94.07,88.21 M105.03,54.52 L105.39,53.62 L105.74,52.76 L106.10,51.93" fill="none" stroke="#347afd" stroke-width="2.4" stroke-opacity="0.5" filter="url(#b05)"/>
<path d="M8.09,18.75 L8.44,19.67 L8.80,20.62 L9.15,21.61 L9.50,22.64 M22.95,70.72 L23.30,71.73 L23.66,72.69 L24.01,73.62 L24.36,74.50 M35.69,77.74 L36.04,77.06 L36.39,76.34 L36.75,75.58 L37.10,74.79 L37.46,73.96 M50.90,34.17 L51.25,33.41 L51.61,32.68 L51.96,32.00 L52.32,31.35 M63.64,35.94 L63.99,36.86 L64.35,37.82 L64.70,38.82 L65.05,39.86 M78.50,87.93 L78.85,88.93 L79.21,89.89 L79.56,90.81 L79.91,91.69 M91.24,94.72 L91.59,94.04 L91.94,93.31 L92.30,92.55 L92.65,91.75 M106.10,51.93 L106.45,51.14 L106.80,50.38 L107.16,49.66 L107.51,48.98 L107.86,48.34" fill="none" stroke="#2f82fa" stroke-width="2.4" stroke-opacity="0.5" filter="url(#b05)"/>
<path d="M6.32,14.80 L6.67,15.50 L7.03,16.25 L7.38,17.04 L7.74,17.87 L8.09,18.75 M24.36,74.50 L24.72,75.35 L25.07,76.15 L25.43,76.91 L25.78,77.62 L26.13,78.29 M33.92,80.51 L34.27,80.05 L34.63,79.54 L34.98,78.98 L35.33,78.38 L35.69,77.74 M52.32,31.35 L52.67,30.75 L53.02,30.19 L53.38,29.67 L53.73,29.20 L54.08,28.78 M61.87,31.96 L62.22,32.67 L62.58,33.43 L62.93,34.22 L63.28,35.06 L63.64,35.94 M79.91,91.69 L80.27,92.53 L80.62,93.33 L80.97,94.08 L81.33,94.79 L81.68,95.45 M89.47,97.52 L89.82,97.05 L90.17,96.53 L90.53,95.97 L90.88,95.37 L91.24,94.72 M107.86,48.34 L108.22,47.74 L108.57,47.19 L108.93,46.68 L109.28,46.21 L109.63,45.79" fill="none" stroke="#2d89f5" stroke-width="2.4" stroke-opacity="0.5" filter="url(#b05)"/>
<path d="M-1.11,11.38 L-0.76,11.04 L-0.40,10.75 L-0.05,10.51 L0.31,10.32 L0.66,10.18 L1.01,10.09 L1.37,10.05 L1.72,10.06 L2.07,10.13 L2.43,10.24 L2.78,10.40 L3.14,10.62 L3.49,10.89 L3.84,11.20 L4.20,11.57 L4.55,11.99 L4.90,12.45 L5.26,12.97 L5.61,13.53 L5.97,14.14 L6.32,14.80 M26.13,78.29 L26.49,78.91 L26.84,79.49 L27.20,80.02 L27.55,80.49 L27.90,80.92 L28.26,81.30 L28.61,81.63 L28.96,81.91 L29.32,82.14 L29.67,82.32 L30.03,82.45 L30.38,82.52 L30.73,82.55 L31.09,82.52 L31.44,82.44 L31.79,82.31 L32.15,82.14 L32.50,81.91 L32.86,81.63 L33.21,81.31 L33.56,80.93 L33.92,80.51 M54.08,28.78 L54.44,28.40 L54.79,28.07 L55.15,27.79 L55.50,27.55 L55.85,27.37 L56.21,27.24 L56.56,27.15 L56.92,27.12 L57.27,27.14 L57.62,27.21 L57.98,27.33 L58.33,27.50 L58.68,27.72 L59.04,28.00 L59.39,28.32 L59.75,28.69 L60.10,29.12 L60.45,29.59 L60.81,30.11 L61.16,30.68 L61.51,31.30 L61.87,31.96 M81.68,95.45 L82.04,96.07 L82.39,96.63 L82.74,97.15 L83.10,97.63 L83.45,98.05 L83.81,98.42 L84.16,98.75 L84.51,99.02 L84.87,99.24 L85.22,99.41 L85.57,99.53 L85.93,99.60 L86.28,99.61 L86.64,99.58 L86.99,99.50 L87.34,99.36 L87.70,99.18 L88.05,98.94 L88.40,98.66 L88.76,98.33 L89.11,97.95 L89.47,97.52 M109.63,45.79 L109.99,45.42 L110.34,45.10 L110.69,44.82 L111.05,44.60 L111.40,44.42 L111.76,44.29 L112.11,44.22" fill="none" stroke="#2b90ef" stroke-width="2.4" stroke-opacity="0.5" filter="url(#b05)"/>
<path d="M13.04,34.57 L13.40,35.88 L13.75,37.22 L14.10,38.56 L14.46,39.92 L14.81,41.29 L15.17,42.66 L15.52,44.04 L15.87,45.43 L16.23,46.81 L16.58,48.20 L16.93,49.58 L17.29,50.96 L17.64,52.33 L18.00,53.69 L18.35,55.04 L18.70,56.37 L19.06,57.70 L19.41,59.00 M40.99,64.06 L41.35,62.95 L41.70,61.83 L42.06,60.69 L42.41,59.55 L42.76,58.39 L43.12,57.23 L43.47,56.07 L43.82,54.90 L44.18,53.73 L44.53,52.57 L44.89,51.41 L45.24,50.25 L45.59,49.10 L45.95,47.97 L46.30,46.84 L46.65,45.73 L47.01,44.64 M68.59,51.82 L68.94,53.14 L69.30,54.47 L69.65,55.82 L70.01,57.18 L70.36,58.55 L70.71,59.92 L71.07,61.30 L71.42,62.69 L71.78,64.07 L72.13,65.46 L72.48,66.84 L72.84,68.21 L73.19,69.58 L73.54,70.94 L73.90,72.29 L74.25,73.63 L74.61,74.95 L74.96,76.25 M96.54,80.98 L96.90,79.87 L97.25,78.75 L97.60,77.61 L97.96,76.46 L98.31,75.31 L98.67,74.14 L99.02,72.98 L99.37,71.81 L99.73,70.64 L100.08,69.48 L100.43,68.32 L100.79,67.16 L101.14,66.02 L101.50,64.88 L101.85,63.76 L102.20,62.65 L102.56,61.56" fill="none" stroke="#2d87f6" stroke-width="1.15"/>
<path d="M11.63,29.49 L11.98,30.72 L12.33,31.98 L12.69,33.26 L13.04,34.57 M19.41,59.00 L19.76,60.29 L20.12,61.55 L20.47,62.80 L20.83,64.02 M39.58,68.32 L39.93,67.29 L40.29,66.23 L40.64,65.16 L40.99,64.06 M47.01,44.64 L47.36,43.56 L47.72,42.50 L48.07,41.47 L48.42,40.45 L48.78,39.47 M67.18,46.72 L67.53,47.96 L67.88,49.23 L68.24,50.51 L68.59,51.82 M74.96,76.25 L75.31,77.53 L75.67,78.80 L76.02,80.04 L76.37,81.25 M94.77,86.26 L95.13,85.25 L95.48,84.21 L95.83,83.16 L96.19,82.08 L96.54,80.98 M102.56,61.56 L102.91,60.48 L103.26,59.43 L103.62,58.40 L103.97,57.39" fill="none" stroke="#2798ea" stroke-width="1.15"/>
<path d="M10.21,24.80 L10.57,25.93 L10.92,27.09 L11.27,28.27 L11.63,29.49 M20.83,64.02 L21.18,65.21 L21.53,66.37 L21.89,67.51 L22.24,68.61 M38.16,72.20 L38.52,71.27 L38.87,70.31 L39.22,69.33 L39.58,68.32 M48.78,39.47 L49.13,38.51 L49.49,37.58 L49.84,36.68 M65.76,42.02 L66.11,43.16 L66.47,44.32 L66.82,45.51 L67.18,46.72 M76.37,81.25 L76.73,82.44 L77.08,83.60 L77.44,84.73 L77.79,85.83 M93.71,89.14 L94.07,88.21 L94.42,87.25 L94.77,86.26 M103.97,57.39 L104.33,56.40 L104.68,55.45 L105.03,54.52 L105.39,53.62" fill="none" stroke="#1ea7e1" stroke-width="1.15"/>
<path d="M9.15,21.61 L9.50,22.64 L9.86,23.70 L10.21,24.80 M22.24,68.61 L22.60,69.69 L22.95,70.72 L23.30,71.73 L23.66,72.69 M36.75,75.58 L37.10,74.79 L37.46,73.96 L37.81,73.09 L38.16,72.20 M49.84,36.68 L50.19,35.81 L50.55,34.97 L50.90,34.17 L51.25,33.41 M64.35,37.82 L64.70,38.82 L65.05,39.86 L65.41,40.92 L65.76,42.02 M77.79,85.83 L78.14,86.90 L78.50,87.93 L78.85,88.93 L79.21,89.89 M92.30,92.55 L92.65,91.75 L93.00,90.91 L93.36,90.04 L93.71,89.14 M105.39,53.62 L105.74,52.76 L106.10,51.93 L106.45,51.14 L106.80,50.38" fill="none" stroke="#0cb3d3" stroke-width="1.15"/>
<path d="M7.74,17.87 L8.09,18.75 L8.44,19.67 L8.80,20.62 L9.15,21.61 M23.66,72.69 L24.01,73.62 L24.36,74.50 L24.72,75.35 L25.07,76.15 M35.33,78.38 L35.69,77.74 L36.04,77.06 L36.39,76.34 L36.75,75.58 M51.25,33.41 L51.61,32.68 L51.96,32.00 L52.32,31.35 L52.67,30.75 M63.28,35.06 L63.64,35.94 L63.99,36.86 L64.35,37.82 M79.21,89.89 L79.56,90.81 L79.91,91.69 L80.27,92.53 M90.88,95.37 L91.24,94.72 L91.59,94.04 L91.94,93.31 L92.30,92.55 M106.80,50.38 L107.16,49.66 L107.51,48.98 L107.86,48.34 L108.22,47.74" fill="none" stroke="#08bcbe" stroke-width="1.15"/>
<path d="M5.97,14.14 L6.32,14.80 L6.67,15.50 L7.03,16.25 L7.38,17.04 L7.74,17.87 M25.07,76.15 L25.43,76.91 L25.78,77.62 L26.13,78.29 L26.49,78.91 M33.92,80.51 L34.27,80.05 L34.63,79.54 L34.98,78.98 L35.33,78.38 M52.67,30.75 L53.02,30.19 L53.38,29.67 L53.73,29.20 L54.08,28.78 L54.44,28.40 M61.51,31.30 L61.87,31.96 L62.22,32.67 L62.58,33.43 L62.93,34.22 L63.28,35.06 M80.27,92.53 L80.62,93.33 L80.97,94.08 L81.33,94.79 L81.68,95.45 L82.04,96.07 M89.11,97.95 L89.47,97.52 L89.82,97.05 L90.17,96.53 L90.53,95.97 L90.88,95.37 M108.22,47.74 L108.57,47.19 L108.93,46.68 L109.28,46.21 L109.63,45.79" fill="none" stroke="#2bc3a8" stroke-width="1.15"/>
<path d="M-1.11,11.38 L-0.76,11.04 L-0.40,10.75 L-0.05,10.51 L0.31,10.32 L0.66,10.18 L1.01,10.09 L1.37,10.05 L1.72,10.06 L2.07,10.13 L2.43,10.24 L2.78,10.40 L3.14,10.62 L3.49,10.89 L3.84,11.20 L4.20,11.57 L4.55,11.99 L4.90,12.45 L5.26,12.97 L5.61,13.53 L5.97,14.14 M26.49,78.91 L26.84,79.49 L27.20,80.02 L27.55,80.49 L27.90,80.92 L28.26,81.30 L28.61,81.63 L28.96,81.91 L29.32,82.14 L29.67,82.32 L30.03,82.45 L30.38,82.52 L30.73,82.55 L31.09,82.52 L31.44,82.44 L31.79,82.31 L32.15,82.14 L32.50,81.91 L32.86,81.63 L33.21,81.31 L33.56,80.93 L33.92,80.51 M54.44,28.40 L54.79,28.07 L55.15,27.79 L55.50,27.55 L55.85,27.37 L56.21,27.24 L56.56,27.15 L56.92,27.12 L57.27,27.14 L57.62,27.21 L57.98,27.33 L58.33,27.50 L58.68,27.72 L59.04,28.00 L59.39,28.32 L59.75,28.69 L60.10,29.12 L60.45,29.59 L60.81,30.11 L61.16,30.68 L61.51,31.30 M82.04,96.07 L82.39,96.63 L82.74,97.15 L83.10,97.63 L83.45,98.05 L83.81,98.42 L84.16,98.75 L84.51,99.02 L84.87,99.24 L85.22,99.41 L85.57,99.53 L85.93,99.60 L86.28,99.61 L86.64,99.58 L86.99,99.50 L87.34,99.36 L87.70,99.18 L88.05,98.94 L88.40,98.66 L88.76,98.33 L89.11,97.95 M109.63,45.79 L109.99,45.42 L110.34,45.10 L110.69,44.82 L111.05,44.60 L111.40,44.42 L111.76,44.29 L112.11,44.22" fill="none" stroke="#3fca8e" stroke-width="1.15"/>
<path d="M13.75,53.94 L14.10,52.81 L14.46,51.67 L14.81,50.52 L15.17,49.36 L15.52,48.20 L15.87,47.03 L16.23,45.86 L16.58,44.70 L16.93,43.53 L17.29,42.37 L17.64,41.22 L18.00,40.08 L18.35,38.95 L18.70,37.83 M41.70,46.52 L42.06,47.87 L42.41,49.23 L42.76,50.61 L43.12,51.98 L43.47,53.37 L43.82,54.75 L44.18,56.14 L44.53,57.52 L44.89,58.90 L45.24,60.27 L45.59,61.64 L45.95,62.99 L46.30,64.33 M69.30,70.85 L69.65,69.72 L70.01,68.58 L70.36,67.43 L70.71,66.27 L71.07,65.11 L71.42,63.94 L71.78,62.77 L72.13,61.61 L72.48,60.44 L72.84,59.28 L73.19,58.13 L73.54,56.99 L73.90,55.86 L74.25,54.74 M97.25,63.77 L97.60,65.13 L97.96,66.49 L98.31,67.86 L98.67,69.24 L99.02,70.63 L99.37,72.01 L99.73,73.40 L100.08,74.78 L100.43,76.16 L100.79,77.53 L101.14,78.89 L101.50,80.25 L101.85,81.59" fill="none" stroke="#4562fc" stroke-width="2.4" stroke-opacity="0.5" filter="url(#b05)"/>
<path d="M12.33,58.30 L12.69,57.24 L13.04,56.15 L13.40,55.05 L13.75,53.94 M18.70,37.83 L19.06,36.72 L19.41,35.63 L19.76,34.57 L20.12,33.52 M39.93,39.97 L40.29,41.24 L40.64,42.54 L40.99,43.85 L41.35,45.17 L41.70,46.52 M46.30,64.33 L46.65,65.66 L47.01,66.98 L47.36,68.27 L47.72,69.54 L48.07,70.80 M67.88,75.22 L68.24,74.16 L68.59,73.07 L68.94,71.97 L69.30,70.85 M74.25,54.74 L74.61,53.64 L74.96,52.56 L75.31,51.49 L75.67,50.44 M95.48,57.22 L95.83,58.49 L96.19,59.79 L96.54,61.10 L96.90,62.43 L97.25,63.77 M101.85,81.59 L102.20,82.91 L102.56,84.22 L102.91,85.52 L103.26,86.79 L103.62,88.04" fill="none" stroke="#4269fe" stroke-width="2.4" stroke-opacity="0.5" filter="url(#b05)"/>
<path d="M10.92,62.33 L11.27,61.36 L11.63,60.36 L11.98,59.34 L12.33,58.30 M20.12,33.52 L20.47,32.49 L20.83,31.49 L21.18,30.51 L21.53,29.57 M38.52,35.12 L38.87,36.29 L39.22,37.49 L39.58,38.72 L39.93,39.97 M48.07,70.80 L48.42,72.03 L48.78,73.23 L49.13,74.41 L49.49,75.56 M66.47,79.26 L66.82,78.29 L67.18,77.29 L67.53,76.27 L67.88,75.22 M75.67,50.44 L76.02,49.42 L76.37,48.42 L76.73,47.45 L77.08,46.51 M94.07,52.35 L94.42,53.53 L94.77,54.73 L95.13,55.96 L95.48,57.22 M103.62,88.04 L103.97,89.27 L104.33,90.47 L104.68,91.64 L105.03,92.78" fill="none" stroke="#3c72ff" stroke-width="2.4" stroke-opacity="0.5" filter="url(#b05)"/>
<path d="M9.50,65.90 L9.86,65.05 L10.21,64.18 L10.57,63.27 L10.92,62.33 M21.53,29.57 L21.89,28.65 L22.24,27.76 L22.60,26.91 L22.95,26.09 M37.46,31.78 L37.81,32.86 L38.16,33.97 L38.52,35.12 M49.49,75.56 L49.84,76.68 L50.19,77.76 L50.55,78.82 L50.90,79.83 M65.05,82.86 L65.41,82.01 L65.76,81.12 L66.11,80.21 L66.47,79.26 M77.08,46.51 L77.44,45.60 L77.79,44.71 L78.14,43.86 L78.50,43.05 M92.65,47.94 L93.00,48.99 L93.36,50.08 L93.71,51.20 L94.07,52.35 M105.03,92.78 L105.39,93.90 L105.74,94.98 L106.10,96.03" fill="none" stroke="#347afd" stroke-width="2.4" stroke-opacity="0.5" filter="url(#b05)"/>
<path d="M8.09,68.92 L8.44,68.22 L8.80,67.49 L9.15,66.71 L9.50,65.90 M22.95,26.09 L23.30,25.30 L23.66,24.56 L24.01,23.85 L24.36,23.18 M35.69,26.90 L36.04,27.80 L36.39,28.74 L36.75,29.72 L37.10,30.73 L37.46,31.78 M50.90,79.83 L51.25,80.81 L51.61,81.76 L51.96,82.66 L52.32,83.52 M63.64,85.90 L63.99,85.19 L64.35,84.45 L64.70,83.67 L65.05,82.86 M78.50,43.05 L78.85,42.27 L79.21,41.53 L79.56,40.82 L79.91,40.16 M91.24,44.09 L91.59,45.00 L91.94,45.94 L92.30,46.92 L92.65,47.94 M106.10,96.03 L106.45,97.04 L106.80,98.02 L107.16,98.95 L107.51,99.85 L107.86,100.71" fill="none" stroke="#2f82fa" stroke-width="2.4" stroke-opacity="0.5" filter="url(#b05)"/>
<path d="M6.32,71.78 L6.67,71.30 L7.03,70.77 L7.38,70.19 L7.74,69.58 L8.09,68.92 M24.36,23.18 L24.72,22.55 L25.07,21.97 L25.43,21.43 L25.78,20.93 L26.13,20.48 M33.92,23.04 L34.27,23.73 L34.63,24.46 L34.98,25.23 L35.33,26.04 L35.69,26.90 M52.32,83.52 L52.67,84.34 L53.02,85.12 L53.38,85.85 L53.73,86.54 L54.08,87.19 M61.87,88.79 L62.22,88.30 L62.58,87.76 L62.93,87.18 L63.28,86.56 L63.64,85.90 M79.91,40.16 L80.27,39.54 L80.62,38.96 L80.97,38.43 L81.33,37.94 L81.68,37.49 M89.47,40.21 L89.82,40.90 L90.17,41.63 L90.53,42.41 L90.88,43.23 L91.24,44.09 M107.86,100.71 L108.22,101.52 L108.57,102.29 L108.93,103.02 L109.28,103.70 L109.63,104.34" fill="none" stroke="#2d89f5" stroke-width="2.4" stroke-opacity="0.5" filter="url(#b05)"/>
<path d="M-1.11,70.63 L-0.76,71.19 L-0.40,71.69 L-0.05,72.15 L0.31,72.56 L0.66,72.92 L1.01,73.23 L1.37,73.48 L1.72,73.69 L2.07,73.84 L2.43,73.95 L2.78,74.00 L3.14,74.00 L3.49,73.96 L3.84,73.86 L4.20,73.71 L4.55,73.51 L4.90,73.26 L5.26,72.96 L5.61,72.62 L5.97,72.22 L6.32,71.78 M26.13,20.48 L26.49,20.07 L26.84,19.72 L27.20,19.41 L27.55,19.15 L27.90,18.93 L28.26,18.77 L28.61,18.66 L28.96,18.60 L29.32,18.59 L29.67,18.63 L30.03,18.72 L30.38,18.86 L30.73,19.05 L31.09,19.30 L31.44,19.59 L31.79,19.94 L32.15,20.34 L32.50,20.78 L32.86,21.27 L33.21,21.82 L33.56,22.41 L33.92,23.04 M54.08,87.19 L54.44,87.78 L54.79,88.33 L55.15,88.83 L55.50,89.28 L55.85,89.68 L56.21,90.03 L56.56,90.33 L56.92,90.58 L57.27,90.78 L57.62,90.93 L57.98,91.03 L58.33,91.08 L58.68,91.07 L59.04,91.02 L59.39,90.91 L59.75,90.75 L60.10,90.55 L60.45,90.29 L60.81,89.99 L61.16,89.64 L61.51,89.24 L61.87,88.79 M81.68,37.49 L82.04,37.09 L82.39,36.74 L82.74,36.44 L83.10,36.18 L83.45,35.98 L83.81,35.82 L84.16,35.72 L84.51,35.66 L84.87,35.66 L85.22,35.71 L85.57,35.81 L85.93,35.95 L86.28,36.16 L86.64,36.41 L86.99,36.71 L87.34,37.06 L87.70,37.46 L88.05,37.92 L88.40,38.42 L88.76,38.97 L89.11,39.56 L89.47,40.21 M109.63,104.34 L109.99,104.93 L110.34,105.47 L110.69,105.96 L111.05,106.41 L111.40,106.80 L111.76,107.15 L112.11,107.44" fill="none" stroke="#2b90ef" stroke-width="2.4" stroke-opacity="0.5" filter="url(#b05)"/>
<path d="M13.04,56.15 L13.40,55.05 L13.75,53.94 L14.10,52.81 L14.46,51.67 L14.81,50.52 L15.17,49.36 L15.52,48.20 L15.87,47.03 L16.23,45.86 L16.58,44.70 L16.93,43.53 L17.29,42.37 L17.64,41.22 L18.00,40.08 L18.35,38.95 L18.70,37.83 L19.06,36.72 L19.41,35.63 M40.99,43.85 L41.35,45.17 L41.70,46.52 L42.06,47.87 L42.41,49.23 L42.76,50.61 L43.12,51.98 L43.47,53.37 L43.82,54.75 L44.18,56.14 L44.53,57.52 L44.89,58.90 L45.24,60.27 L45.59,61.64 L45.95,62.99 L46.30,64.33 L46.65,65.66 L47.01,66.98 M68.59,73.07 L68.94,71.97 L69.30,70.85 L69.65,69.72 L70.01,68.58 L70.36,67.43 L70.71,66.27 L71.07,65.11 L71.42,63.94 L71.78,62.77 L72.13,61.61 L72.48,60.44 L72.84,59.28 L73.19,58.13 L73.54,56.99 L73.90,55.86 L74.25,54.74 L74.61,53.64 L74.96,52.56 M96.54,61.10 L96.90,62.43 L97.25,63.77 L97.60,65.13 L97.96,66.49 L98.31,67.86 L98.67,69.24 L99.02,70.63 L99.37,72.01 L99.73,73.40 L100.08,74.78 L100.43,76.16 L100.79,77.53 L101.14,78.89 L101.50,80.25 L101.85,81.59 L102.20,82.91 L102.56,84.22" fill="none" stroke="#2d87f6" stroke-width="1.15"/>
<path d="M11.63,60.36 L11.98,59.34 L12.33,58.30 L12.69,57.24 L13.04,56.15 M19.41,35.63 L19.76,34.57 L20.12,33.52 L20.47,32.49 L20.83,31.49 M39.58,38.72 L39.93,39.97 L40.29,41.24 L40.64,42.54 L40.99,43.85 M47.01,66.98 L47.36,68.27 L47.72,69.54 L48.07,70.80 L48.42,72.03 L48.78,73.23 M67.18,77.29 L67.53,76.27 L67.88,75.22 L68.24,74.16 L68.59,73.07 M74.96,52.56 L75.31,51.49 L75.67,50.44 L76.02,49.42 L76.37,48.42 M94.77,54.73 L95.13,55.96 L95.48,57.22 L95.83,58.49 L96.19,59.79 L96.54,61.10 M102.56,84.22 L102.91,85.52 L103.26,86.79 L103.62,88.04 L103.97,89.27" fill="none" stroke="#2798ea" stroke-width="1.15"/>
<path d="M10.21,64.18 L10.57,63.27 L10.92,62.33 L11.27,61.36 L11.63,60.36 M20.83,31.49 L21.18,30.51 L21.53,29.57 L21.89,28.65 L22.24,27.76 M38.16,33.97 L38.52,35.12 L38.87,36.29 L39.22,37.49 L39.58,38.72 M48.78,73.23 L49.13,74.41 L49.49,75.56 L49.84,76.68 M65.76,81.12 L66.11,80.21 L66.47,79.26 L66.82,78.29 L67.18,77.29 M76.37,48.42 L76.73,47.45 L77.08,46.51 L77.44,45.60 L77.79,44.71 M93.71,51.20 L94.07,52.35 L94.42,53.53 L94.77,54.73 M103.97,89.27 L104.33,90.47 L104.68,91.64 L105.03,92.78 L105.39,93.90" fill="none" stroke="#1ea7e1" stroke-width="1.15"/>
<path d="M9.15,66.71 L9.50,65.90 L9.86,65.05 L10.21,64.18 M22.24,27.76 L22.60,26.91 L22.95,26.09 L23.30,25.30 L23.66,24.56 M36.75,29.72 L37.10,30.73 L37.46,31.78 L37.81,32.86 L38.16,33.97 M49.84,76.68 L50.19,77.76 L50.55,78.82 L50.90,79.83 L51.25,80.81 M64.35,84.45 L64.70,83.67 L65.05,82.86 L65.41,82.01 L65.76,81.12 M77.79,44.71 L78.14,43.86 L78.50,43.05 L78.85,42.27 L79.21,41.53 M92.30,46.92 L92.65,47.94 L93.00,48.99 L93.36,50.08 L93.71,51.20 M105.39,93.90 L105.74,94.98 L106.10,96.03 L106.45,97.04 L106.80,98.02" fill="none" stroke="#0cb3d3" stroke-width="1.15"/>
<path d="M7.74,69.58 L8.09,68.92 L8.44,68.22 L8.80,67.49 L9.15,66.71 M23.66,24.56 L24.01,23.85 L24.36,23.18 L24.72,22.55 L25.07,21.97 M35.33,26.04 L35.69,26.90 L36.04,27.80 L36.39,28.74 L36.75,29.72 M51.25,80.81 L51.61,81.76 L51.96,82.66 L52.32,83.52 L52.67,84.34 M63.28,86.56 L63.64,85.90 L63.99,85.19 L64.35,84.45 M79.21,41.53 L79.56,40.82 L79.91,40.16 L80.27,39.54 M90.88,43.23 L91.24,44.09 L91.59,45.00 L91.94,45.94 L92.30,46.92 M106.80,98.02 L107.16,98.95 L107.51,99.85 L107.86,100.71 L108.22,101.52" fill="none" stroke="#08bcbe" stroke-width="1.15"/>
<path d="M5.97,72.22 L6.32,71.78 L6.67,71.30 L7.03,70.77 L7.38,70.19 L7.74,69.58 M25.07,21.97 L25.43,21.43 L25.78,20.93 L26.13,20.48 L26.49,20.07 M33.92,23.04 L34.27,23.73 L34.63,24.46 L34.98,25.23 L35.33,26.04 M52.67,84.34 L53.02,85.12 L53.38,85.85 L53.73,86.54 L54.08,87.19 L54.44,87.78 M61.51,89.24 L61.87,88.79 L62.22,88.30 L62.58,87.76 L62.93,87.18 L63.28,86.56 M80.27,39.54 L80.62,38.96 L80.97,38.43 L81.33,37.94 L81.68,37.49 L82.04,37.09 M89.11,39.56 L89.47,40.21 L89.82,40.90 L90.17,41.63 L90.53,42.41 L90.88,43.23 M108.22,101.52 L108.57,102.29 L108.93,103.02 L109.28,103.70 L109.63,104.34" fill="none" stroke="#2bc3a8" stroke-width="1.15"/>
<path d="M-1.11,70.63 L-0.76,71.19 L-0.40,71.69 L-0.05,72.15 L0.31,72.56 L0.66,72.92 L1.01,73.23 L1.37,73.48 L1.72,73.69 L2.07,73.84 L2.43,73.95 L2.78,74.00 L3.14,74.00 L3.49,73.96 L3.84,73.86 L4.20,73.71 L4.55,73.51 L4.90,73.26 L5.26,72.96 L5.61,72.62 L5.97,72.22 M26.49,20.07 L26.84,19.72 L27.20,19.41 L27.55,19.15 L27.90,18.93 L28.26,18.77 L28.61,18.66 L28.96,18.60 L29.32,18.59 L29.67,18.63 L30.03,18.72 L30.38,18.86 L30.73,19.05 L31.09,19.30 L31.44,19.59 L31.79,19.94 L32.15,20.34 L32.50,20.78 L32.86,21.27 L33.21,21.82 L33.56,22.41 L33.92,23.04 M54.44,87.78 L54.79,88.33 L55.15,88.83 L55.50,89.28 L55.85,89.68 L56.21,90.03 L56.56,90.33 L56.92,90.58 L57.27,90.78 L57.62,90.93 L57.98,91.03 L58.33,91.08 L58.68,91.07 L59.04,91.02 L59.39,90.91 L59.75,90.75 L60.10,90.55 L60.45,90.29 L60.81,89.99 L61.16,89.64 L61.51,89.24 M82.04,37.09 L82.39,36.74 L82.74,36.44 L83.10,36.18 L83.45,35.98 L83.81,35.82 L84.16,35.72 L84.51,35.66 L84.87,35.66 L85.22,35.71 L85.57,35.81 L85.93,35.95 L86.28,36.16 L86.64,36.41 L86.99,36.71 L87.34,37.06 L87.70,37.46 L88.05,37.92 L88.40,38.42 L88.76,38.97 L89.11,39.56 M109.63,104.34 L109.99,104.93 L110.34,105.47 L110.69,105.96 L111.05,106.41 L111.40,106.80 L111.76,107.15 L112.11,107.44" fill="none" stroke="#3fca8e" stroke-width="1.15"/>
<path d="M-1.11,41.01 L-0.64,41.15 L-0.17,41.30 L0.31,41.44 L0.78,41.59 L1.25,41.73 L1.72,41.88 L2.19,42.02 L2.66,42.17 L3.14,42.31 L3.61,42.46 L4.08,42.60 L4.55,42.75 L5.02,42.89 L5.49,43.04 L5.97,43.18 L6.44,43.33 L6.91,43.47 L7.38,43.62 L7.85,43.76 L8.32,43.91 L8.80,44.05 L9.27,44.20 L9.74,44.34 L10.21,44.49 L10.68,44.63 L11.16,44.78 L11.63,44.92 L12.10,45.07 L12.57,45.21 L13.04,45.36 L13.51,45.50 L13.99,45.65 L14.46,45.79 L14.93,45.94 L15.40,46.08 L15.87,46.23 L16.34,46.37 L16.82,46.52 L17.29,46.66 L17.76,46.81 L18.23,46.95 L18.70,47.10 L19.18,47.25 L19.65,47.39 L20.12,47.54 L20.59,47.68 L21.06,47.83 L21.53,47.97 L22.01,48.12 L22.48,48.26 L22.95,48.41 L23.42,48.55 L23.89,48.70 L24.36,48.84 L24.84,48.99 L25.31,49.13 L25.78,49.28 L26.25,49.42 L26.72,49.57 L27.20,49.71 L27.67,49.86 L28.14,50.00 L28.61,50.15 L29.08,50.29 L29.55,50.44 L30.03,50.58 L30.50,50.73 L30.97,50.87 L31.44,51.02 L31.91,51.16 L32.38,51.31 L32.86,51.45 L33.33,51.60 L33.80,51.74 L34.27,51.89 L34.74,52.03 L35.21,52.18 L35.69,52.32 L36.16,52.47 L36.63,52.61 L37.10,52.76 L37.57,52.90 L38.05,53.05 L38.52,53.19 L38.99,53.34 L39.46,53.48 L39.93,53.63 L40.40,53.77 L40.88,53.92 L41.35,54.06 L41.82,54.21 L42.29,54.35 L42.76,54.50 L43.23,54.64 L43.71,54.79 L44.18,54.94 L44.65,55.08 L45.12,55.23 L45.59,55.37 L46.06,55.52 L46.54,55.66 L47.01,55.81 L47.48,55.95 L47.95,56.10 L48.42,56.24 L48.90,56.39 L49.37,56.53 L49.84,56.68 L50.31,56.82 L50.78,56.97 L51.25,57.11 L51.73,57.26 L52.20,57.40 L52.67,57.55 L53.14,57.69 L53.61,57.84 L54.08,57.98 L54.56,58.13 L55.03,58.27 L55.50,58.42 L55.97,58.56 L56.44,58.71 L56.92,58.85 L57.39,59.00 L57.86,59.14 L58.33,59.29 L58.80,59.43 L59.27,59.58 L59.75,59.72 L60.22,59.87 L60.69,60.01 L61.16,60.16 L61.63,60.30 L62.10,60.45 L62.58,60.59 L63.05,60.74 L63.52,60.88 L63.99,61.03 L64.46,61.17 L64.94,61.32 L65.41,61.46 L65.88,61.61 L66.35,61.75 L66.82,61.90 L67.29,62.04 L67.77,62.19 L68.24,62.33 L68.71,62.48 L69.18,62.63 L69.65,62.77 L70.12,62.92 L70.60,63.06 L71.07,63.21 L71.54,63.35 L72.01,63.50 L72.48,63.64 L72.95,63.79 L73.43,63.93 L73.90,64.08 L74.37,64.22 L74.84,64.37 L75.31,64.51 L75.79,64.66 L76.26,64.80 L76.73,64.95 L77.20,65.09 L77.67,65.24 L78.14,65.38 L78.62,65.53 L79.09,65.67 L79.56,65.82 L80.03,65.96 L80.50,66.11 L80.97,66.25 L81.45,66.40 L81.92,66.54 L82.39,66.69 L82.86,66.83 L83.33,66.98 L83.81,67.12 L84.28,67.27 L84.75,67.41 L85.22,67.56 L85.69,67.70 L86.16,67.85 L86.64,67.99 L87.11,68.14 L87.58,68.28 L88.05,68.43 L88.52,68.57 L88.99,68.72 L89.47,68.86 L89.94,69.01 L90.41,69.15 L90.88,69.30 L91.35,69.44 L91.82,69.59 L92.30,69.73 L92.77,69.88 L93.24,70.02 L93.71,70.17 L94.18,70.32 L94.66,70.46 L95.13,70.61 L95.60,70.75 L96.07,70.90 L96.54,71.04 L97.01,71.19 L97.49,71.33 L97.96,71.48 L98.43,71.62 L98.90,71.77 L99.37,71.91 L99.84,72.06 L100.32,72.20 L100.79,72.35 L101.26,72.49 L101.73,72.64 L102.20,72.78 L102.68,72.93 L103.15,73.07 L103.62,73.22 L104.09,73.36 L104.56,73.51 L105.03,73.65 L105.51,73.80 L105.98,73.94 L106.45,74.09 L106.92,74.23 L107.39,74.38 L107.86,74.52 L108.34,74.67 L108.81,74.81 L109.28,74.96 L109.75,75.10 L110.22,75.25 L110.69,75.39 L111.17,75.54 L111.64,75.68 L112.11,75.83" fill="none" stroke="#28b0d0" stroke-opacity="0.7" stroke-width="2.4" filter="url(#b05)"/>
<path d="M-1.11,41.01 L-0.64,41.15 L-0.17,41.30 L0.31,41.44 L0.78,41.59 L1.25,41.73 L1.72,41.88 L2.19,42.02 L2.66,42.17 L3.14,42.31 L3.61,42.46 L4.08,42.60 L4.55,42.75 L5.02,42.89 L5.49,43.04 L5.97,43.18 L6.44,43.33 L6.91,43.47 L7.38,43.62 L7.85,43.76 L8.32,43.91 L8.80,44.05 L9.27,44.20 L9.74,44.34 L10.21,44.49 L10.68,44.63 L11.16,44.78 L11.63,44.92 L12.10,45.07 L12.57,45.21 L13.04,45.36 L13.51,45.50 L13.99,45.65 L14.46,45.79 L14.93,45.94 L15.40,46.08 L15.87,46.23 L16.34,46.37 L16.82,46.52 L17.29,46.66 L17.76,46.81 L18.23,46.95 L18.70,47.10 L19.18,47.25 L19.65,47.39 L20.12,47.54 L20.59,47.68 L21.06,47.83 L21.53,47.97 L22.01,48.12 L22.48,48.26 L22.95,48.41 L23.42,48.55 L23.89,48.70 L24.36,48.84 L24.84,48.99 L25.31,49.13 L25.78,49.28 L26.25,49.42 L26.72,49.57 L27.20,49.71 L27.67,49.86 L28.14,50.00 L28.61,50.15 L29.08,50.29 L29.55,50.44 L30.03,50.58 L30.50,50.73 L30.97,50.87 L31.44,51.02 L31.91,51.16 L32.38,51.31 L32.86,51.45 L33.33,51.60 L33.80,51.74 L34.27,51.89 L34.74,52.03 L35.21,52.18 L35.69,52.32 L36.16,52.47 L36.63,52.61 L37.10,52.76 L37.57,52.90 L38.05,53.05 L38.52,53.19 L38.99,53.34 L39.46,53.48 L39.93,53.63 L40.40,53.77 L40.88,53.92 L41.35,54.06 L41.82,54.21 L42.29,54.35 L42.76,54.50 L43.23,54.64 L43.71,54.79 L44.18,54.94 L44.65,55.08 L45.12,55.23 L45.59,55.37 L46.06,55.52 L46.54,55.66 L47.01,55.81 L47.48,55.95 L47.95,56.10 L48.42,56.24 L48.90,56.39 L49.37,56.53 L49.84,56.68 L50.31,56.82 L50.78,56.97 L51.25,57.11 L51.73,57.26 L52.20,57.40 L52.67,57.55 L53.14,57.69 L53.61,57.84 L54.08,57.98 L54.56,58.13 L55.03,58.27 L55.50,58.42 L55.97,58.56 L56.44,58.71 L56.92,58.85 L57.39,59.00 L57.86,59.14 L58.33,59.29 L58.80,59.43 L59.27,59.58 L59.75,59.72 L60.22,59.87 L60.69,60.01 L61.16,60.16 L61.63,60.30 L62.10,60.45 L62.58,60.59 L63.05,60.74 L63.52,60.88 L63.99,61.03 L64.46,61.17 L64.94,61.32 L65.41,61.46 L65.88,61.61 L66.35,61.75 L66.82,61.90 L67.29,62.04 L67.77,62.19 L68.24,62.33 L68.71,62.48 L69.18,62.63 L69.65,62.77 L70.12,62.92 L70.60,63.06 L71.07,63.21 L71.54,63.35 L72.01,63.50 L72.48,63.64 L72.95,63.79 L73.43,63.93 L73.90,64.08 L74.37,64.22 L74.84,64.37 L75.31,64.51 L75.79,64.66 L76.26,64.80 L76.73,64.95 L77.20,65.09 L77.67,65.24 L78.14,65.38 L78.62,65.53 L79.09,65.67 L79.56,65.82 L80.03,65.96 L80.50,66.11 L80.97,66.25 L81.45,66.40 L81.92,66.54 L82.39,66.69 L82.86,66.83 L83.33,66.98 L83.81,67.12 L84.28,67.27 L84.75,67.41 L85.22,67.56 L85.69,67.70 L86.16,67.85 L86.64,67.99 L87.11,68.14 L87.58,68.28 L88.05,68.43 L88.52,68.57 L88.99,68.72 L89.47,68.86 L89.94,69.01 L90.41,69.15 L90.88,69.30 L91.35,69.44 L91.82,69.59 L92.30,69.73 L92.77,69.88 L93.24,70.02 L93.71,70.17 L94.18,70.32 L94.66,70.46 L95.13,70.61 L95.60,70.75 L96.07,70.90 L96.54,71.04 L97.01,71.19 L97.49,71.33 L97.96,71.48 L98.43,71.62 L98.90,71.77 L99.37,71.91 L99.84,72.06 L100.32,72.20 L100.79,72.35 L101.26,72.49 L101.73,72.64 L102.20,72.78 L102.68,72.93 L103.15,73.07 L103.62,73.22 L104.09,73.36 L104.56,73.51 L105.03,73.65 L105.51,73.80 L105.98,73.94 L106.45,74.09 L106.92,74.23 L107.39,74.38 L107.86,74.52 L108.34,74.67 L108.81,74.81 L109.28,74.96 L109.75,75.10 L110.22,75.25 L110.69,75.39 L111.17,75.54 L111.64,75.68 L112.11,75.83" fill="none" stroke="url(#lgc)" stroke-width="1.3"/>
<circle cx="16.09" cy="46.30" r="2" fill="#30a8d8" filter="url(#b1)" opacity="0.4"/>
<circle cx="16.09" cy="46.30" r="0.8" fill="#60cc80" filter="url(#b05)" opacity="0.5"/>
<circle cx="43.84" cy="54.83" r="2.6" fill="#40c8a0" filter="url(#b1)" opacity="0.55"/>
<circle cx="43.84" cy="54.83" r="1.35" fill="#f2c838" filter="url(#b05)" opacity="0.95"/>
<circle cx="71.59" cy="63.37" r="2" fill="#30a8d8" filter="url(#b1)" opacity="0.4"/>
<circle cx="71.59" cy="63.37" r="0.8" fill="#60cc80" filter="url(#b05)" opacity="0.5"/>
<circle cx="99.34" cy="71.90" r="2.6" fill="#40c8a0" filter="url(#b1)" opacity="0.55"/>
<circle cx="99.34" cy="71.90" r="1.35" fill="#f2c838" filter="url(#b05)" opacity="0.95"/>
</g>
<rect x="526.2" y="9" width="6" height="113.8" fill="url(#cb)" stroke="#333" stroke-opacity="0.45" stroke-width="0.35"/>
<path d="M532.2,37.45 h-1.2" stroke="#333" stroke-width="0.5"/>
<path d="M532.2,65.90 h-1.2" stroke="#333" stroke-width="0.5"/>
<path d="M532.2,94.35 h-1.2" stroke="#333" stroke-width="0.5"/>
<text class="cbt" x="534.7" y="12.10">0</text>
<text class="cbt" x="534.7" y="40.55">-10</text>
<text class="cbt" x="534.7" y="69.00">-20</text>
<text class="cbt" x="534.7" y="97.45">-30</text>
<text class="cbt" x="534.7" y="125.90">-40</text>
<text class="tk" text-anchor="end" x="407" y="31.37">500</text>
<text class="tk" text-anchor="end" x="407" y="69.30">0</text>
<text class="tk" text-anchor="end" x="407" y="107.23">-500</text>
<text class="tk" text-anchor="middle" x="410.00" y="134.30">0</text>
<text class="tk" text-anchor="middle" x="465.50" y="134.30">0.5</text>
<text class="tk" text-anchor="middle" x="521.00" y="134.30">1</text>
<text class="ax" text-anchor="middle" x="465.50" y="146.00">Time (s)</text>
<text class="ax" text-anchor="middle" transform="translate(385.80,65.90) rotate(-90)">Frequency (Hz)</text>
<text class="sub" x="373.5" y="166.6">(<tspan>c</tspan>)</text>
<g transform="translate(41,182)" clip-path="url(#cp10)">
<rect width="111" height="113.7" fill="#3e26a8"/>
<path d="M11.98,30.70 L12.33,31.95 L12.69,33.24 L13.04,34.53 L13.40,35.85 L13.75,37.18 L14.10,38.53 L14.46,39.89 L14.81,41.25 L15.17,42.63 L15.52,44.01 L15.87,45.39 L16.23,46.77 L16.58,48.16 L16.93,49.54 L17.29,50.91 L17.64,52.28 L18.00,53.64 L18.35,54.99 L18.70,56.32 L19.06,57.64 L19.41,58.95 L19.76,60.23 L20.12,61.50 L20.47,62.74 M39.58,68.26 L39.93,67.23 L40.29,66.17 L40.64,65.10 L40.99,64.01 L41.35,62.90 L41.70,61.78 L42.06,60.64 L42.41,59.50 L42.76,58.34 L43.12,57.18 L43.47,56.02 L43.82,54.85 L44.18,53.69 L44.53,52.52 L44.89,51.36 L45.24,50.21 L45.59,49.06 L45.95,47.93 L46.30,46.80 L46.65,45.69 L47.01,44.60 L47.36,43.52 L47.72,42.46 L48.07,41.43 L48.42,40.42 M67.53,47.92 L67.88,49.18 L68.24,50.47 L68.59,51.77 L68.94,53.09 L69.30,54.42 L69.65,55.77 L70.01,57.13 L70.36,58.50 L70.71,59.87 L71.07,61.25 L71.42,62.63 L71.78,64.02 L72.13,65.40 L72.48,66.78 L72.84,68.15 L73.19,69.52 L73.54,70.88 L73.90,72.23 L74.25,73.56 L74.61,74.88 L74.96,76.18 L75.31,77.46 L75.67,78.73 L76.02,79.97 M95.13,85.17 L95.48,84.14 L95.83,83.08 L96.19,82.01 L96.54,80.91 L96.90,79.80 L97.25,78.68 L97.60,77.54 L97.96,76.39 L98.31,75.24 L98.67,74.08 L99.02,72.91 L99.37,71.75 L99.73,70.58 L100.08,69.42 L100.43,68.26 L100.79,67.11 L101.14,65.96 L101.50,64.83 L101.85,63.70 L102.20,62.59 L102.56,61.50 L102.91,60.43 L103.26,59.38 L103.62,58.34 L103.97,57.34" fill="none" stroke="#402bb7" stroke-width="1"/>
<path d="M10.57,25.91 L10.92,27.06 L11.27,28.25 L11.63,29.46 L11.98,30.70 M20.47,62.74 L20.83,63.96 L21.18,65.15 L21.53,66.32 L21.89,67.45 L22.24,68.55 M38.16,72.13 L38.52,71.21 L38.87,70.25 L39.22,69.27 L39.58,68.26 M48.42,40.42 L48.78,39.43 L49.13,38.47 L49.49,37.54 L49.84,36.64 M65.76,41.99 L66.11,43.12 L66.47,44.28 L66.82,45.47 L67.18,46.68 L67.53,47.92 M76.02,79.97 L76.37,81.18 L76.73,82.37 L77.08,83.53 L77.44,84.66 L77.79,85.76 M93.71,89.06 L94.07,88.13 L94.42,87.17 L94.77,86.19 L95.13,85.17 M103.97,57.34 L104.33,56.35 L104.68,55.40 L105.03,54.47 L105.39,53.58" fill="none" stroke="#4432cb" stroke-width="1"/>
<path d="M9.15,21.59 L9.50,22.62 L9.86,23.68 L10.21,24.78 L10.57,25.91 M22.24,68.55 L22.60,69.63 L22.95,70.66 L23.30,71.66 M36.75,75.52 L37.10,74.72 L37.46,73.89 L37.81,73.03 L38.16,72.13 M49.84,36.64 L50.19,35.78 L50.55,34.94 L50.90,34.14 L51.25,33.38 M64.70,38.79 L65.05,39.82 L65.41,40.89 L65.76,41.99 M77.79,85.76 L78.14,86.82 L78.50,87.86 L78.85,88.85 M92.30,92.47 L92.65,91.67 L93.00,90.83 L93.36,89.96 L93.71,89.06 M105.39,53.58 L105.74,52.71 L106.10,51.88 L106.45,51.09 L106.80,50.33" fill="none" stroke="#463adc" stroke-width="1"/>
<path d="M8.09,18.73 L8.44,19.65 L8.80,20.60 L9.15,21.59 M23.30,71.66 L23.66,72.63 L24.01,73.55 L24.36,74.44 L24.72,75.28 M35.69,77.68 L36.04,77.00 L36.39,76.28 L36.75,75.52 M51.25,33.38 L51.61,32.66 L51.96,31.97 L52.32,31.33 M63.64,35.91 L63.99,36.83 L64.35,37.79 L64.70,38.79 M78.85,88.85 L79.21,89.81 L79.56,90.73 L79.91,91.61 M91.24,94.64 L91.59,93.95 L91.94,93.23 L92.30,92.47 M106.80,50.33 L107.16,49.61 L107.51,48.94 L107.86,48.30" fill="none" stroke="#4744e8" stroke-width="1"/>
<path d="M6.67,15.49 L7.03,16.23 L7.38,17.03 L7.74,17.86 L8.09,18.73 M24.72,75.28 L25.07,76.08 L25.43,76.84 L25.78,77.55 M34.63,79.47 L34.98,78.91 L35.33,78.32 L35.69,77.68 M52.32,31.33 L52.67,30.72 L53.02,30.16 L53.38,29.65 M62.22,32.64 L62.58,33.40 L62.93,34.19 L63.28,35.03 L63.64,35.91 M79.91,91.61 L80.27,92.45 L80.62,93.24 L80.97,94.00 L81.33,94.70 M90.17,96.45 L90.53,95.89 L90.88,95.29 L91.24,94.64 M107.86,48.30 L108.22,47.70 L108.57,47.15 L108.93,46.64" fill="none" stroke="#484ef1" stroke-width="1"/>
<path d="M-1.11,11.37 L-0.76,11.03 M5.26,12.96 L5.61,13.52 L5.97,14.13 L6.32,14.79 L6.67,15.49 M25.78,77.55 L26.13,78.22 L26.49,78.84 L26.84,79.42 L27.20,79.95 M33.21,81.23 L33.56,80.86 L33.92,80.44 L34.27,79.98 L34.63,79.47 M53.38,29.65 L53.73,29.18 L54.08,28.75 L54.44,28.38 L54.79,28.05 M60.81,30.09 L61.16,30.65 L61.51,31.27 L61.87,31.93 L62.22,32.64 M81.33,94.70 L81.68,95.37 L82.04,95.98 L82.39,96.55 L82.74,97.07 M88.76,98.24 L89.11,97.86 L89.47,97.44 L89.82,96.97 L90.17,96.45 M108.93,46.64 L109.28,46.17 L109.63,45.75 L109.99,45.38 L110.34,45.06" fill="none" stroke="#4758f8" stroke-width="1"/>
<path d="M-0.76,11.03 L-0.40,10.74 L-0.05,10.50 L0.31,10.31 L0.66,10.17 L1.01,10.08 L1.37,10.04 L1.72,10.05 L2.07,10.12 L2.43,10.23 L2.78,10.39 L3.14,10.61 L3.49,10.88 L3.84,11.19 L4.20,11.56 L4.55,11.98 L4.90,12.44 L5.26,12.96 M27.20,79.95 L27.55,80.42 L27.90,80.85 L28.26,81.23 L28.61,81.56 L28.96,81.84 L29.32,82.07 L29.67,82.25 L30.03,82.37 L30.38,82.45 L30.73,82.47 L31.09,82.45 L31.44,82.37 L31.79,82.24 L32.15,82.06 L32.50,81.84 L32.86,81.56 L33.21,81.23 M54.79,28.05 L55.15,27.76 L55.50,27.53 L55.85,27.35 L56.21,27.21 L56.56,27.13 L56.92,27.10 L57.27,27.12 L57.62,27.18 L57.98,27.30 L58.33,27.48 L58.68,27.70 L59.04,27.97 L59.39,28.29 L59.75,28.67 L60.10,29.09 L60.45,29.56 L60.81,30.09 M82.74,97.07 L83.10,97.54 L83.45,97.96 L83.81,98.34 L84.16,98.66 L84.51,98.93 L84.87,99.15 L85.22,99.32 L85.57,99.44 L85.93,99.51 L86.28,99.53 L86.64,99.49 L86.99,99.41 L87.34,99.27 L87.70,99.09 L88.05,98.86 L88.40,98.57 L88.76,98.24 M110.34,45.06 L110.69,44.78 L111.05,44.56 L111.40,44.38 L111.76,44.25 L112.11,44.18" fill="none" stroke="#4562fc" stroke-width="1"/>
<path d="M11.98,59.29 L12.33,58.25 L12.69,57.19 L13.04,56.10 L13.40,55.00 L13.75,53.89 L14.10,52.76 L14.46,51.62 L14.81,50.47 L15.17,49.32 L15.52,48.15 L15.87,46.99 L16.23,45.82 L16.58,44.66 L16.93,43.49 L17.29,42.34 L17.64,41.18 L18.00,40.04 L18.35,38.91 L18.70,37.79 L19.06,36.69 L19.41,35.60 L19.76,34.53 L20.12,33.49 L20.47,32.46 M39.58,38.69 L39.93,39.94 L40.29,41.21 L40.64,42.50 L40.99,43.81 L41.35,45.14 L41.70,46.48 L42.06,47.83 L42.41,49.19 L42.76,50.56 L43.12,51.94 L43.47,53.32 L43.82,54.70 L44.18,56.09 L44.53,57.47 L44.89,58.85 L45.24,60.22 L45.59,61.58 L45.95,62.94 L46.30,64.28 L46.65,65.60 L47.01,66.92 L47.36,68.21 L47.72,69.48 L48.07,70.74 L48.42,71.96 M67.53,76.20 L67.88,75.16 L68.24,74.09 L68.59,73.01 L68.94,71.91 L69.30,70.79 L69.65,69.66 L70.01,68.52 L70.36,67.37 L70.71,66.21 L71.07,65.05 L71.42,63.88 L71.78,62.72 L72.13,61.55 L72.48,60.39 L72.84,59.23 L73.19,58.08 L73.54,56.94 L73.90,55.81 L74.25,54.70 L74.61,53.59 L74.96,52.51 L75.31,51.44 L75.67,50.40 L76.02,49.38 M95.13,55.91 L95.48,57.16 L95.83,58.44 L96.19,59.73 L96.54,61.05 L96.90,62.37 L97.25,63.72 L97.60,65.07 L97.96,66.43 L98.31,67.80 L98.67,69.18 L99.02,70.56 L99.37,71.95 L99.73,73.33 L100.08,74.71 L100.43,76.09 L100.79,77.46 L101.14,78.82 L101.50,80.18 L101.85,81.52 L102.20,82.84 L102.56,84.15 L102.91,85.44 L103.26,86.71 L103.62,87.96 L103.97,89.19" fill="none" stroke="#402bb7" stroke-width="1"/>
<path d="M10.57,63.21 L10.92,62.27 L11.27,61.30 L11.63,60.31 L11.98,59.29 M20.47,32.46 L20.83,31.46 L21.18,30.49 L21.53,29.54 L21.89,28.62 L22.24,27.74 M38.16,33.94 L38.52,35.09 L38.87,36.26 L39.22,37.46 L39.58,38.69 M48.42,71.96 L48.78,73.17 L49.13,74.34 L49.49,75.49 L49.84,76.61 M65.76,81.05 L66.11,80.14 L66.47,79.19 L66.82,78.22 L67.18,77.23 L67.53,76.20 M76.02,49.38 L76.37,48.38 L76.73,47.41 L77.08,46.47 L77.44,45.55 L77.79,44.67 M93.71,51.15 L94.07,52.30 L94.42,53.48 L94.77,54.68 L95.13,55.91 M103.97,89.19 L104.33,90.39 L104.68,91.56 L105.03,92.70 L105.39,93.82" fill="none" stroke="#4432cb" stroke-width="1"/>
<path d="M9.15,66.65 L9.50,65.84 L9.86,65.00 L10.21,64.12 L10.57,63.21 M22.24,27.74 L22.60,26.88 L22.95,26.06 L23.30,25.28 M36.75,29.69 L37.10,30.70 L37.46,31.75 L37.81,32.83 L38.16,33.94 M49.84,76.61 L50.19,77.69 L50.55,78.75 L50.90,79.76 L51.25,80.74 M64.70,83.60 L65.05,82.78 L65.41,81.93 L65.76,81.05 M77.79,44.67 L78.14,43.82 L78.50,43.01 L78.85,42.23 M92.30,46.88 L92.65,47.90 L93.00,48.95 L93.36,50.04 L93.71,51.15 M105.39,93.82 L105.74,94.90 L106.10,95.94 L106.45,96.95 L106.80,97.93" fill="none" stroke="#463adc" stroke-width="1"/>
<path d="M8.09,68.86 L8.44,68.16 L8.80,67.43 L9.15,66.65 M23.30,25.28 L23.66,24.54 L24.01,23.83 L24.36,23.16 L24.72,22.53 M35.69,26.88 L36.04,27.78 L36.39,28.71 L36.75,29.69 M51.25,80.74 L51.61,81.68 L51.96,82.59 L52.32,83.45 M63.64,85.82 L63.99,85.12 L64.35,84.38 L64.70,83.60 M78.85,42.23 L79.21,41.49 L79.56,40.79 L79.91,40.13 M91.24,44.05 L91.59,44.96 L91.94,45.90 L92.30,46.88 M106.80,97.93 L107.16,98.87 L107.51,99.76 L107.86,100.62" fill="none" stroke="#4744e8" stroke-width="1"/>
<path d="M6.67,71.24 L7.03,70.71 L7.38,70.13 L7.74,69.52 L8.09,68.86 M24.72,22.53 L25.07,21.95 L25.43,21.41 L25.78,20.91 M34.63,24.43 L34.98,25.21 L35.33,26.02 L35.69,26.88 M52.32,83.45 L52.67,84.27 L53.02,85.05 L53.38,85.78 M62.22,88.22 L62.58,87.69 L62.93,87.11 L63.28,86.48 L63.64,85.82 M79.91,40.13 L80.27,39.51 L80.62,38.93 L80.97,38.39 L81.33,37.90 M90.17,41.59 L90.53,42.37 L90.88,43.19 L91.24,44.05 M107.86,100.62 L108.22,101.43 L108.57,102.20 L108.93,102.93" fill="none" stroke="#484ef1" stroke-width="1"/>
<path d="M-1.11,70.57 L-0.76,71.12 M5.26,72.90 L5.61,72.55 L5.97,72.16 L6.32,71.72 L6.67,71.24 M25.78,20.91 L26.13,20.46 L26.49,20.06 L26.84,19.70 L27.20,19.39 M33.21,21.80 L33.56,22.39 L33.92,23.02 L34.27,23.71 L34.63,24.43 M53.38,85.78 L53.73,86.47 L54.08,87.11 L54.44,87.70 L54.79,88.25 M60.81,89.91 L61.16,89.56 L61.51,89.16 L61.87,88.71 L62.22,88.22 M81.33,37.90 L81.68,37.46 L82.04,37.06 L82.39,36.71 L82.74,36.41 M88.76,38.93 L89.11,39.53 L89.47,40.17 L89.82,40.86 L90.17,41.59 M108.93,102.93 L109.28,103.61 L109.63,104.25 L109.99,104.84 L110.34,105.38" fill="none" stroke="#4758f8" stroke-width="1"/>
<path d="M-0.76,71.12 L-0.40,71.63 L-0.05,72.09 L0.31,72.50 L0.66,72.85 L1.01,73.16 L1.37,73.42 L1.72,73.62 L2.07,73.78 L2.43,73.88 L2.78,73.94 L3.14,73.94 L3.49,73.89 L3.84,73.79 L4.20,73.64 L4.55,73.44 L4.90,73.19 L5.26,72.90 M27.20,19.39 L27.55,19.13 L27.90,18.92 L28.26,18.76 L28.61,18.64 L28.96,18.58 L29.32,18.57 L29.67,18.61 L30.03,18.70 L30.38,18.84 L30.73,19.04 L31.09,19.28 L31.44,19.58 L31.79,19.92 L32.15,20.32 L32.50,20.76 L32.86,21.26 L33.21,21.80 M54.79,88.25 L55.15,88.75 L55.50,89.20 L55.85,89.60 L56.21,89.95 L56.56,90.25 L56.92,90.50 L57.27,90.70 L57.62,90.85 L57.98,90.95 L58.33,91.00 L58.68,90.99 L59.04,90.94 L59.39,90.83 L59.75,90.67 L60.10,90.47 L60.45,90.21 L60.81,89.91 M82.74,36.41 L83.10,36.15 L83.45,35.95 L83.81,35.79 L84.16,35.69 L84.51,35.63 L84.87,35.63 L85.22,35.68 L85.57,35.77 L85.93,35.92 L86.28,36.12 L86.64,36.37 L86.99,36.68 L87.34,37.03 L87.70,37.43 L88.05,37.88 L88.40,38.38 L88.76,38.93 M110.34,105.38 L110.69,105.87 L111.05,106.31 L111.40,106.71 L111.76,107.05 L112.11,107.35" fill="none" stroke="#4562fc" stroke-width="1"/>
<path d="M-1.11,40.97 L-0.64,41.11 L-0.17,41.26 L0.31,41.40 L0.78,41.55 L1.25,41.69 L1.72,41.84 L2.19,41.98 L2.66,42.13 L3.14,42.27 L3.61,42.42 L4.08,42.56 L4.55,42.71 L5.02,42.85 L5.49,43.00 L5.97,43.14 L6.44,43.29 L6.91,43.43 L7.38,43.58 L7.85,43.72 L8.32,43.87 L8.80,44.01 L9.27,44.16 L9.74,44.30 L10.21,44.45 L10.68,44.59 L11.16,44.74 L11.63,44.88 L12.10,45.03 L12.57,45.17 L13.04,45.32 L13.51,45.46 L13.99,45.61 L14.46,45.75 L14.93,45.90 L15.40,46.04 L15.87,46.19 L16.34,46.33 L16.82,46.48 L17.29,46.62 L17.76,46.77 L18.23,46.91 L18.70,47.06 L19.18,47.20 L19.65,47.35 L20.12,47.49 L20.59,47.64 L21.06,47.78 L21.53,47.93 L22.01,48.07 L22.48,48.22 L22.95,48.36 L23.42,48.51 L23.89,48.65 L24.36,48.80 L24.84,48.94 L25.31,49.09 L25.78,49.23 L26.25,49.38 L26.72,49.52 L27.20,49.67 L27.67,49.81 L28.14,49.96 L28.61,50.10 L29.08,50.25 L29.55,50.39 L30.03,50.54 L30.50,50.68 L30.97,50.83 L31.44,50.97 L31.91,51.12 L32.38,51.26 L32.86,51.41 L33.33,51.55 L33.80,51.70 L34.27,51.84 L34.74,51.99 L35.21,52.13 L35.69,52.28 L36.16,52.42 L36.63,52.57 L37.10,52.71 L37.57,52.86 L38.05,53.00 L38.52,53.15 L38.99,53.29 L39.46,53.44 L39.93,53.58 L40.40,53.73 L40.88,53.87 L41.35,54.02 L41.82,54.16 L42.29,54.31 L42.76,54.45 L43.23,54.60 L43.71,54.74 L44.18,54.89 L44.65,55.03 L45.12,55.18 L45.59,55.32 L46.06,55.47 L46.54,55.61 L47.01,55.76 L47.48,55.90 L47.95,56.05 L48.42,56.19 L48.90,56.34 L49.37,56.48 L49.84,56.63 L50.31,56.77 L50.78,56.92 L51.25,57.06 L51.73,57.21 L52.20,57.35 L52.67,57.50 L53.14,57.64 L53.61,57.79 L54.08,57.93 L54.56,58.08 L55.03,58.22 L55.50,58.37 L55.97,58.51 L56.44,58.66 L56.92,58.80 L57.39,58.95 L57.86,59.09 L58.33,59.24 L58.80,59.38 L59.27,59.53 L59.75,59.67 L60.22,59.82 L60.69,59.96 L61.16,60.11 L61.63,60.25 L62.10,60.40 L62.58,60.54 L63.05,60.69 L63.52,60.83 L63.99,60.98 L64.46,61.12 L64.94,61.27 L65.41,61.41 L65.88,61.56 L66.35,61.70 L66.82,61.85 L67.29,61.99 L67.77,62.14 L68.24,62.28 L68.71,62.43 L69.18,62.57 L69.65,62.72 L70.12,62.86 L70.60,63.00 L71.07,63.15 L71.54,63.29 L72.01,63.44 L72.48,63.58 L72.95,63.73 L73.43,63.87 L73.90,64.02 L74.37,64.16 L74.84,64.31 L75.31,64.45 L75.79,64.60 L76.26,64.74 L76.73,64.89 L77.20,65.03 L77.67,65.18 L78.14,65.32 L78.62,65.47 L79.09,65.61 L79.56,65.76 L80.03,65.90 L80.50,66.05 L80.97,66.19 L81.45,66.34 L81.92,66.48 L82.39,66.63 L82.86,66.77 L83.33,66.92 L83.81,67.06 L84.28,67.21 L84.75,67.35 L85.22,67.50 L85.69,67.64 L86.16,67.79 L86.64,67.93 L87.11,68.08 L87.58,68.22 L88.05,68.37 L88.52,68.51 L88.99,68.66 L89.47,68.80 L89.94,68.95 L90.41,69.09 L90.88,69.24 L91.35,69.38 L91.82,69.53 L92.30,69.67 L92.77,69.82 L93.24,69.96 L93.71,70.11 L94.18,70.25 L94.66,70.40 L95.13,70.54 L95.60,70.69 L96.07,70.83 L96.54,70.98 L97.01,71.12 L97.49,71.27 L97.96,71.41 L98.43,71.56 L98.90,71.70 L99.37,71.85 L99.84,71.99 L100.32,72.14 L100.79,72.28 L101.26,72.43 L101.73,72.57 L102.20,72.72 L102.68,72.86 L103.15,73.01 L103.62,73.15 L104.09,73.30 L104.56,73.44 L105.03,73.59 L105.51,73.73 L105.98,73.88 L106.45,74.02 L106.92,74.17 L107.39,74.31 L107.86,74.46 L108.34,74.60 L108.81,74.75 L109.28,74.89 L109.75,75.04 L110.22,75.18 L110.69,75.33 L111.17,75.47 L111.64,75.62 L112.11,75.76" fill="none" stroke="#3c68ec" stroke-opacity="0.16" stroke-width="2.2" filter="url(#b05)"/>
<path d="M-1.11,40.97 L-0.64,41.11 L-0.17,41.26 L0.31,41.40 L0.78,41.55 L1.25,41.69 L1.72,41.84 L2.19,41.98 L2.66,42.13 L3.14,42.27 L3.61,42.42 L4.08,42.56 L4.55,42.71 L5.02,42.85 L5.49,43.00 L5.97,43.14 L6.44,43.29 L6.91,43.43 L7.38,43.58 L7.85,43.72 L8.32,43.87 L8.80,44.01 L9.27,44.16 L9.74,44.30 L10.21,44.45 L10.68,44.59 L11.16,44.74 L11.63,44.88 L12.10,45.03 L12.57,45.17 L13.04,45.32 L13.51,45.46 L13.99,45.61 L14.46,45.75 L14.93,45.90 L15.40,46.04 L15.87,46.19 L16.34,46.33 L16.82,46.48 L17.29,46.62 L17.76,46.77 L18.23,46.91 L18.70,47.06 L19.18,47.20 L19.65,47.35 L20.12,47.49 L20.59,47.64 L21.06,47.78 L21.53,47.93 L22.01,48.07 L22.48,48.22 L22.95,48.36 L23.42,48.51 L23.89,48.65 L24.36,48.80 L24.84,48.94 L25.31,49.09 L25.78,49.23 L26.25,49.38 L26.72,49.52 L27.20,49.67 L27.67,49.81 L28.14,49.96 L28.61,50.10 L29.08,50.25 L29.55,50.39 L30.03,50.54 L30.50,50.68 L30.97,50.83 L31.44,50.97 L31.91,51.12 L32.38,51.26 L32.86,51.41 L33.33,51.55 L33.80,51.70 L34.27,51.84 L34.74,51.99 L35.21,52.13 L35.69,52.28 L36.16,52.42 L36.63,52.57 L37.10,52.71 L37.57,52.86 L38.05,53.00 L38.52,53.15 L38.99,53.29 L39.46,53.44 L39.93,53.58 L40.40,53.73 L40.88,53.87 L41.35,54.02 L41.82,54.16 L42.29,54.31 L42.76,54.45 L43.23,54.60 L43.71,54.74 L44.18,54.89 L44.65,55.03 L45.12,55.18 L45.59,55.32 L46.06,55.47 L46.54,55.61 L47.01,55.76 L47.48,55.90 L47.95,56.05 L48.42,56.19 L48.90,56.34 L49.37,56.48 L49.84,56.63 L50.31,56.77 L50.78,56.92 L51.25,57.06 L51.73,57.21 L52.20,57.35 L52.67,57.50 L53.14,57.64 L53.61,57.79 L54.08,57.93 L54.56,58.08 L55.03,58.22 L55.50,58.37 L55.97,58.51 L56.44,58.66 L56.92,58.80 L57.39,58.95 L57.86,59.09 L58.33,59.24 L58.80,59.38 L59.27,59.53 L59.75,59.67 L60.22,59.82 L60.69,59.96 L61.16,60.11 L61.63,60.25 L62.10,60.40 L62.58,60.54 L63.05,60.69 L63.52,60.83 L63.99,60.98 L64.46,61.12 L64.94,61.27 L65.41,61.41 L65.88,61.56 L66.35,61.70 L66.82,61.85 L67.29,61.99 L67.77,62.14 L68.24,62.28 L68.71,62.43 L69.18,62.57 L69.65,62.72 L70.12,62.86 L70.60,63.00 L71.07,63.15 L71.54,63.29 L72.01,63.44 L72.48,63.58 L72.95,63.73 L73.43,63.87 L73.90,64.02 L74.37,64.16 L74.84,64.31 L75.31,64.45 L75.79,64.60 L76.26,64.74 L76.73,64.89 L77.20,65.03 L77.67,65.18 L78.14,65.32 L78.62,65.47 L79.09,65.61 L79.56,65.76 L80.03,65.90 L80.50,66.05 L80.97,66.19 L81.45,66.34 L81.92,66.48 L82.39,66.63 L82.86,66.77 L83.33,66.92 L83.81,67.06 L84.28,67.21 L84.75,67.35 L85.22,67.50 L85.69,67.64 L86.16,67.79 L86.64,67.93 L87.11,68.08 L87.58,68.22 L88.05,68.37 L88.52,68.51 L88.99,68.66 L89.47,68.80 L89.94,68.95 L90.41,69.09 L90.88,69.24 L91.35,69.38 L91.82,69.53 L92.30,69.67 L92.77,69.82 L93.24,69.96 L93.71,70.11 L94.18,70.25 L94.66,70.40 L95.13,70.54 L95.60,70.69 L96.07,70.83 L96.54,70.98 L97.01,71.12 L97.49,71.27 L97.96,71.41 L98.43,71.56 L98.90,71.70 L99.37,71.85 L99.84,71.99 L100.32,72.14 L100.79,72.28 L101.26,72.43 L101.73,72.57 L102.20,72.72 L102.68,72.86 L103.15,73.01 L103.62,73.15 L104.09,73.30 L104.56,73.44 L105.03,73.59 L105.51,73.73 L105.98,73.88 L106.45,74.02 L106.92,74.17 L107.39,74.31 L107.86,74.46 L108.34,74.60 L108.81,74.75 L109.28,74.89 L109.75,75.04 L110.22,75.18 L110.69,75.33 L111.17,75.47 L111.64,75.62 L112.11,75.76" fill="none" stroke="#4367fd" stroke-opacity="0.62" stroke-width="0.8"/>
<circle cx="43.84" cy="54.78" r="1" fill="#24b8d0" filter="url(#b03)"/>
<circle cx="99.34" cy="71.84" r="1" fill="#24b8d0" filter="url(#b03)"/>
</g>
<rect x="157" y="182" width="6" height="113.7" fill="url(#cb)" stroke="#333" stroke-opacity="0.45" stroke-width="0.35"/>
<path d="M163,210.43 h-1.2" stroke="#333" stroke-width="0.5"/>
<path d="M163,238.85 h-1.2" stroke="#333" stroke-width="0.5"/>
<path d="M163,267.27 h-1.2" stroke="#333" stroke-width="0.5"/>
<text class="cbt" x="165.5" y="185.10">0</text>
<text class="cbt" x="165.5" y="213.53">-10</text>
<text class="cbt" x="165.5" y="241.95">-20</text>
<text class="cbt" x="165.5" y="270.38">-30</text>
<text class="cbt" x="165.5" y="298.80">-40</text>
<text class="tk" text-anchor="end" x="38" y="204.35">500</text>
<text class="tk" text-anchor="end" x="38" y="242.25">0</text>
<text class="tk" text-anchor="end" x="38" y="280.15">-500</text>
<text class="tk" text-anchor="middle" x="41.00" y="307.20">0</text>
<text class="tk" text-anchor="middle" x="96.50" y="307.20">0.5</text>
<text class="tk" text-anchor="middle" x="152.00" y="307.20">1</text>
<text class="ax" text-anchor="middle" x="96.50" y="318.90">Time (s)</text>
<text class="ax" text-anchor="middle" transform="translate(16.80,238.85) rotate(-90)">Frequency (Hz)</text>
<text class="sub" x="4.4" y="339.4">(<tspan>d</tspan>)</text>
<g transform="translate(225,182)" clip-path="url(#cp11)">
<rect width="111.5" height="113.7" fill="#3e26a8"/>
<path d="M12.75,33.24 L13.10,34.53 L13.46,35.85 L13.81,37.18 L14.17,38.53 L14.52,39.89 L14.88,41.25 L15.23,42.63 L15.59,44.01 L15.94,45.39 L16.30,46.77 L16.66,48.16 L17.01,49.54 L17.37,50.91 L17.72,52.28 L18.08,53.64 L18.43,54.99 L18.79,56.32 L19.14,57.64 L19.50,58.95 L19.85,60.23 L20.21,61.50 M40.47,66.17 L40.82,65.10 L41.18,64.01 L41.53,62.90 L41.89,61.78 L42.24,60.64 L42.60,59.50 L42.96,58.34 L43.31,57.18 L43.67,56.02 L44.02,54.85 L44.38,53.69 L44.73,52.52 L45.09,51.36 L45.44,50.21 L45.80,49.06 L46.15,47.93 L46.51,46.80 L46.86,45.69 L47.22,44.60 L47.58,43.52 L47.93,42.46 M68.19,49.18 L68.54,50.47 L68.90,51.77 L69.26,53.09 L69.61,54.42 L69.97,55.77 L70.32,57.13 L70.68,58.50 L71.03,59.87 L71.39,61.25 L71.74,62.63 L72.10,64.02 L72.45,65.40 L72.81,66.78 L73.16,68.15 L73.52,69.52 L73.88,70.88 L74.23,72.23 L74.59,73.56 L74.94,74.88 L75.30,76.18 L75.65,77.46 L76.01,78.73 M96.27,83.08 L96.62,82.01 L96.98,80.91 L97.33,79.80 L97.69,78.68 L98.04,77.54 L98.40,76.39 L98.75,75.24 L99.11,74.08 L99.46,72.91 L99.82,71.75 L100.18,70.58 L100.53,69.42 L100.89,68.26 L101.24,67.11 L101.60,65.96 L101.95,64.83 L102.31,63.70 L102.66,62.59 L103.02,61.50 L103.37,60.43 L103.73,59.38" fill="none" stroke="#412cb9" stroke-width="2.88" stroke-opacity="0.16" filter="url(#b05)"/>
<path d="M10.97,27.06 L11.32,28.25 L11.68,29.46 L12.04,30.70 L12.39,31.95 L12.75,33.24 M20.21,61.50 L20.56,62.74 L20.92,63.96 L21.28,65.15 L21.63,66.32 M39.05,70.25 L39.40,69.27 L39.76,68.26 L40.11,67.23 L40.47,66.17 M47.93,42.46 L48.29,41.43 L48.64,40.42 L49.00,39.43 L49.35,38.47 L49.71,37.54 M66.77,44.28 L67.12,45.47 L67.48,46.68 L67.83,47.92 L68.19,49.18 M76.01,78.73 L76.36,79.97 L76.72,81.18 L77.07,82.37 L77.43,83.53 M94.49,88.13 L94.84,87.17 L95.20,86.19 L95.56,85.17 L95.91,84.14 L96.27,83.08 M103.73,59.38 L104.09,58.34 L104.44,57.34 L104.80,56.35 L105.15,55.40" fill="none" stroke="#4331c7" stroke-width="2.88" stroke-opacity="0.16" filter="url(#b05)"/>
<path d="M9.55,22.62 L9.90,23.68 L10.26,24.78 L10.61,25.91 L10.97,27.06 M21.63,66.32 L21.99,67.45 L22.34,68.55 L22.70,69.63 L23.05,70.66 M37.62,73.89 L37.98,73.03 L38.34,72.13 L38.69,71.21 L39.05,70.25 M49.71,37.54 L50.06,36.64 L50.42,35.78 L50.77,34.94 M65.35,39.82 L65.70,40.89 L66.06,41.99 L66.41,43.12 L66.77,44.28 M77.43,83.53 L77.79,84.66 L78.14,85.76 L78.50,86.82 L78.85,87.86 M93.42,90.83 L93.78,89.96 L94.13,89.06 L94.49,88.13 M105.15,55.40 L105.51,54.47 L105.86,53.58 L106.22,52.71 L106.57,51.88" fill="none" stroke="#4536d4" stroke-width="2.88" stroke-opacity="0.16" filter="url(#b05)"/>
<path d="M8.48,19.65 L8.84,20.60 L9.19,21.59 L9.55,22.62 M23.05,70.66 L23.41,71.66 L23.76,72.63 L24.12,73.55 M36.20,77.00 L36.56,76.28 L36.91,75.52 L37.27,74.72 L37.62,73.89 M50.77,34.94 L51.13,34.14 L51.49,33.38 L51.84,32.66 L52.20,31.97 M64.28,36.83 L64.64,37.79 L64.99,38.79 L65.35,39.82 M78.85,87.86 L79.21,88.85 L79.56,89.81 L79.92,90.73 M92.00,93.95 L92.36,93.23 L92.71,92.47 L93.07,91.67 L93.42,90.83 M106.57,51.88 L106.93,51.09 L107.28,50.33 L107.64,49.61 L107.99,48.94" fill="none" stroke="#463cdf" stroke-width="2.88" stroke-opacity="0.16" filter="url(#b05)"/>
<path d="M7.06,16.23 L7.41,17.03 L7.77,17.86 L8.13,18.73 L8.48,19.65 M24.12,73.55 L24.47,74.44 L24.83,75.28 L25.19,76.08 L25.54,76.84 M35.14,78.91 L35.49,78.32 L35.85,77.68 L36.20,77.00 M52.20,31.97 L52.55,31.33 L52.91,30.72 L53.26,30.16 M62.86,33.40 L63.21,34.19 L63.57,35.03 L63.92,35.91 L64.28,36.83 M79.92,90.73 L80.27,91.61 L80.63,92.45 L80.98,93.24 L81.34,94.00 M90.94,95.89 L91.29,95.29 L91.65,94.64 L92.00,93.95 M107.99,48.94 L108.35,48.30 L108.71,47.70 L109.06,47.15" fill="none" stroke="#4743e7" stroke-width="2.88" stroke-opacity="0.16" filter="url(#b05)"/>
<path d="M-1.11,11.37 L-0.76,11.03 M5.64,13.52 L5.99,14.13 L6.35,14.79 L6.70,15.49 L7.06,16.23 M25.54,76.84 L25.90,77.55 L26.25,78.22 L26.61,78.84 L26.96,79.42 M33.71,80.86 L34.07,80.44 L34.43,79.98 L34.78,79.47 L35.14,78.91 M53.26,30.16 L53.62,29.65 L53.97,29.18 L54.33,28.75 L54.68,28.38 L55.04,28.05 M61.44,30.65 L61.79,31.27 L62.15,31.93 L62.50,32.64 L62.86,33.40 M81.34,94.00 L81.69,94.70 L82.05,95.37 L82.41,95.98 L82.76,96.55 M89.16,98.24 L89.51,97.86 L89.87,97.44 L90.22,96.97 L90.58,96.45 L90.94,95.89 M109.06,47.15 L109.42,46.64 L109.77,46.17 L110.13,45.75 L110.48,45.38" fill="none" stroke="#484aee" stroke-width="2.88" stroke-opacity="0.16" filter="url(#b05)"/>
<path d="M-0.76,11.03 L-0.40,10.74 L-0.05,10.50 L0.31,10.31 L0.66,10.17 L1.02,10.08 L1.37,10.04 L1.73,10.05 L2.08,10.12 L2.44,10.23 L2.79,10.39 L3.15,10.61 L3.51,10.88 L3.86,11.19 L4.22,11.56 L4.57,11.98 L4.93,12.44 L5.28,12.96 L5.64,13.52 M26.96,79.42 L27.32,79.95 L27.67,80.42 L28.03,80.85 L28.38,81.23 L28.74,81.56 L29.09,81.84 L29.45,82.07 L29.81,82.25 L30.16,82.37 L30.52,82.45 L30.87,82.47 L31.23,82.45 L31.58,82.37 L31.94,82.24 L32.29,82.06 L32.65,81.84 L33.00,81.56 L33.36,81.23 L33.71,80.86 M55.04,28.05 L55.39,27.76 L55.75,27.53 L56.11,27.35 L56.46,27.21 L56.82,27.13 L57.17,27.10 L57.53,27.12 L57.88,27.18 L58.24,27.30 L58.59,27.48 L58.95,27.70 L59.30,27.97 L59.66,28.29 L60.01,28.67 L60.37,29.09 L60.73,29.56 L61.08,30.09 L61.44,30.65 M82.76,96.55 L83.12,97.07 L83.47,97.54 L83.83,97.96 L84.18,98.34 L84.54,98.66 L84.89,98.93 L85.25,99.15 L85.60,99.32 L85.96,99.44 L86.31,99.51 L86.67,99.53 L87.03,99.49 L87.38,99.41 L87.74,99.27 L88.09,99.09 L88.45,98.86 L88.80,98.57 L89.16,98.24 M110.48,45.38 L110.84,45.06 L111.19,44.78 L111.55,44.56 L111.90,44.38 L112.26,44.25 L112.61,44.18" fill="none" stroke="#4851f4" stroke-width="2.88" stroke-opacity="0.16" filter="url(#b05)"/>
<path d="M12.75,33.24 L13.10,34.53 L13.46,35.85 L13.81,37.18 L14.17,38.53 L14.52,39.89 L14.88,41.25 L15.23,42.63 L15.59,44.01 L15.94,45.39 L16.30,46.77 L16.66,48.16 L17.01,49.54 L17.37,50.91 L17.72,52.28 L18.08,53.64 L18.43,54.99 L18.79,56.32 L19.14,57.64 L19.50,58.95 L19.85,60.23 L20.21,61.50 M40.47,66.17 L40.82,65.10 L41.18,64.01 L41.53,62.90 L41.89,61.78 L42.24,60.64 L42.60,59.50 L42.96,58.34 L43.31,57.18 L43.67,56.02 L44.02,54.85 L44.38,53.69 L44.73,52.52 L45.09,51.36 L45.44,50.21 L45.80,49.06 L46.15,47.93 L46.51,46.80 L46.86,45.69 L47.22,44.60 L47.58,43.52 L47.93,42.46 M68.19,49.18 L68.54,50.47 L68.90,51.77 L69.26,53.09 L69.61,54.42 L69.97,55.77 L70.32,57.13 L70.68,58.50 L71.03,59.87 L71.39,61.25 L71.74,62.63 L72.10,64.02 L72.45,65.40 L72.81,66.78 L73.16,68.15 L73.52,69.52 L73.88,70.88 L74.23,72.23 L74.59,73.56 L74.94,74.88 L75.30,76.18 L75.65,77.46 L76.01,78.73 M96.27,83.08 L96.62,82.01 L96.98,80.91 L97.33,79.80 L97.69,78.68 L98.04,77.54 L98.40,76.39 L98.75,75.24 L99.11,74.08 L99.46,72.91 L99.82,71.75 L100.18,70.58 L100.53,69.42 L100.89,68.26 L101.24,67.11 L101.60,65.96 L101.95,64.83 L102.31,63.70 L102.66,62.59 L103.02,61.50 L103.37,60.43 L103.73,59.38" fill="none" stroke="#422fc1" stroke-width="1.2"/>
<path d="M10.97,27.06 L11.32,28.25 L11.68,29.46 L12.04,30.70 L12.39,31.95 L12.75,33.24 M20.21,61.50 L20.56,62.74 L20.92,63.96 L21.28,65.15 L21.63,66.32 M39.05,70.25 L39.40,69.27 L39.76,68.26 L40.11,67.23 L40.47,66.17 M47.93,42.46 L48.29,41.43 L48.64,40.42 L49.00,39.43 L49.35,38.47 L49.71,37.54 M66.77,44.28 L67.12,45.47 L67.48,46.68 L67.83,47.92 L68.19,49.18 M76.01,78.73 L76.36,79.97 L76.72,81.18 L77.07,82.37 L77.43,83.53 M94.49,88.13 L94.84,87.17 L95.20,86.19 L95.56,85.17 L95.91,84.14 L96.27,83.08 M103.73,59.38 L104.09,58.34 L104.44,57.34 L104.80,56.35 L105.15,55.40" fill="none" stroke="#4539d9" stroke-width="1.2"/>
<path d="M9.55,22.62 L9.90,23.68 L10.26,24.78 L10.61,25.91 L10.97,27.06 M21.63,66.32 L21.99,67.45 L22.34,68.55 L22.70,69.63 L23.05,70.66 M37.62,73.89 L37.98,73.03 L38.34,72.13 L38.69,71.21 L39.05,70.25 M49.71,37.54 L50.06,36.64 L50.42,35.78 L50.77,34.94 M65.35,39.82 L65.70,40.89 L66.06,41.99 L66.41,43.12 L66.77,44.28 M77.43,83.53 L77.79,84.66 L78.14,85.76 L78.50,86.82 L78.85,87.86 M93.42,90.83 L93.78,89.96 L94.13,89.06 L94.49,88.13 M105.15,55.40 L105.51,54.47 L105.86,53.58 L106.22,52.71 L106.57,51.88" fill="none" stroke="#4745e9" stroke-width="1.2"/>
<path d="M8.48,19.65 L8.84,20.60 L9.19,21.59 L9.55,22.62 M23.05,70.66 L23.41,71.66 L23.76,72.63 L24.12,73.55 M36.20,77.00 L36.56,76.28 L36.91,75.52 L37.27,74.72 L37.62,73.89 M50.77,34.94 L51.13,34.14 L51.49,33.38 L51.84,32.66 L52.20,31.97 M64.28,36.83 L64.64,37.79 L64.99,38.79 L65.35,39.82 M78.85,87.86 L79.21,88.85 L79.56,89.81 L79.92,90.73 M92.00,93.95 L92.36,93.23 L92.71,92.47 L93.07,91.67 L93.42,90.83 M106.57,51.88 L106.93,51.09 L107.28,50.33 L107.64,49.61 L107.99,48.94" fill="none" stroke="#4852f4" stroke-width="1.2"/>
<path d="M7.06,16.23 L7.41,17.03 L7.77,17.86 L8.13,18.73 L8.48,19.65 M24.12,73.55 L24.47,74.44 L24.83,75.28 L25.19,76.08 L25.54,76.84 M35.14,78.91 L35.49,78.32 L35.85,77.68 L36.20,77.00 M52.20,31.97 L52.55,31.33 L52.91,30.72 L53.26,30.16 M62.86,33.40 L63.21,34.19 L63.57,35.03 L63.92,35.91 L64.28,36.83 M79.92,90.73 L80.27,91.61 L80.63,92.45 L80.98,93.24 L81.34,94.00 M90.94,95.89 L91.29,95.29 L91.65,94.64 L92.00,93.95 M107.99,48.94 L108.35,48.30 L108.71,47.70 L109.06,47.15" fill="none" stroke="#465ffb" stroke-width="1.2"/>
<path d="M-1.11,11.37 L-0.76,11.03 M5.64,13.52 L5.99,14.13 L6.35,14.79 L6.70,15.49 L7.06,16.23 M25.54,76.84 L25.90,77.55 L26.25,78.22 L26.61,78.84 L26.96,79.42 M33.71,80.86 L34.07,80.44 L34.43,79.98 L34.78,79.47 L35.14,78.91 M53.26,30.16 L53.62,29.65 L53.97,29.18 L54.33,28.75 L54.68,28.38 L55.04,28.05 M61.44,30.65 L61.79,31.27 L62.15,31.93 L62.50,32.64 L62.86,33.40 M81.34,94.00 L81.69,94.70 L82.05,95.37 L82.41,95.98 L82.76,96.55 M89.16,98.24 L89.51,97.86 L89.87,97.44 L90.22,96.97 L90.58,96.45 L90.94,95.89 M109.06,47.15 L109.42,46.64 L109.77,46.17 L110.13,45.75 L110.48,45.38" fill="none" stroke="#406dfe" stroke-width="1.2"/>
<path d="M-0.76,11.03 L-0.40,10.74 L-0.05,10.50 L0.31,10.31 L0.66,10.17 L1.02,10.08 L1.37,10.04 L1.73,10.05 L2.08,10.12 L2.44,10.23 L2.79,10.39 L3.15,10.61 L3.51,10.88 L3.86,11.19 L4.22,11.56 L4.57,11.98 L4.93,12.44 L5.28,12.96 L5.64,13.52 M26.96,79.42 L27.32,79.95 L27.67,80.42 L28.03,80.85 L28.38,81.23 L28.74,81.56 L29.09,81.84 L29.45,82.07 L29.81,82.25 L30.16,82.37 L30.52,82.45 L30.87,82.47 L31.23,82.45 L31.58,82.37 L31.94,82.24 L32.29,82.06 L32.65,81.84 L33.00,81.56 L33.36,81.23 L33.71,80.86 M55.04,28.05 L55.39,27.76 L55.75,27.53 L56.11,27.35 L56.46,27.21 L56.82,27.13 L57.17,27.10 L57.53,27.12 L57.88,27.18 L58.24,27.30 L58.59,27.48 L58.95,27.70 L59.30,27.97 L59.66,28.29 L60.01,28.67 L60.37,29.09 L60.73,29.56 L61.08,30.09 L61.44,30.65 M82.76,96.55 L83.12,97.07 L83.47,97.54 L83.83,97.96 L84.18,98.34 L84.54,98.66 L84.89,98.93 L85.25,99.15 L85.60,99.32 L85.96,99.44 L86.31,99.51 L86.67,99.53 L87.03,99.49 L87.38,99.41 L87.74,99.27 L88.09,99.09 L88.45,98.86 L88.80,98.57 L89.16,98.24 M110.48,45.38 L110.84,45.06 L111.19,44.78 L111.55,44.56 L111.90,44.38 L112.26,44.25 L112.61,44.18" fill="none" stroke="#337bfd" stroke-width="1.2"/>
<path d="M12.75,57.19 L13.10,56.10 L13.46,55.00 L13.81,53.89 L14.17,52.76 L14.52,51.62 L14.88,50.47 L15.23,49.32 L15.59,48.15 L15.94,46.99 L16.30,45.82 L16.66,44.66 L17.01,43.49 L17.37,42.34 L17.72,41.18 L18.08,40.04 L18.43,38.91 L18.79,37.79 L19.14,36.69 L19.50,35.60 L19.85,34.53 L20.21,33.49 M40.47,41.21 L40.82,42.50 L41.18,43.81 L41.53,45.14 L41.89,46.48 L42.24,47.83 L42.60,49.19 L42.96,50.56 L43.31,51.94 L43.67,53.32 L44.02,54.70 L44.38,56.09 L44.73,57.47 L45.09,58.85 L45.44,60.22 L45.80,61.58 L46.15,62.94 L46.51,64.28 L46.86,65.60 L47.22,66.92 L47.58,68.21 L47.93,69.48 M68.19,75.16 L68.54,74.09 L68.90,73.01 L69.26,71.91 L69.61,70.79 L69.97,69.66 L70.32,68.52 L70.68,67.37 L71.03,66.21 L71.39,65.05 L71.74,63.88 L72.10,62.72 L72.45,61.55 L72.81,60.39 L73.16,59.23 L73.52,58.08 L73.88,56.94 L74.23,55.81 L74.59,54.70 L74.94,53.59 L75.30,52.51 L75.65,51.44 L76.01,50.40 M96.27,58.44 L96.62,59.73 L96.98,61.05 L97.33,62.37 L97.69,63.72 L98.04,65.07 L98.40,66.43 L98.75,67.80 L99.11,69.18 L99.46,70.56 L99.82,71.95 L100.18,73.33 L100.53,74.71 L100.89,76.09 L101.24,77.46 L101.60,78.82 L101.95,80.18 L102.31,81.52 L102.66,82.84 L103.02,84.15 L103.37,85.44 L103.73,86.71" fill="none" stroke="#412cb9" stroke-width="2.88" stroke-opacity="0.16" filter="url(#b05)"/>
<path d="M10.97,62.27 L11.32,61.30 L11.68,60.31 L12.04,59.29 L12.39,58.25 L12.75,57.19 M20.21,33.49 L20.56,32.46 L20.92,31.46 L21.28,30.49 L21.63,29.54 M39.05,36.26 L39.40,37.46 L39.76,38.69 L40.11,39.94 L40.47,41.21 M47.93,69.48 L48.29,70.74 L48.64,71.96 L49.00,73.17 L49.35,74.34 L49.71,75.49 M66.77,79.19 L67.12,78.22 L67.48,77.23 L67.83,76.20 L68.19,75.16 M76.01,50.40 L76.36,49.38 L76.72,48.38 L77.07,47.41 L77.43,46.47 M94.49,52.30 L94.84,53.48 L95.20,54.68 L95.56,55.91 L95.91,57.16 L96.27,58.44 M103.73,86.71 L104.09,87.96 L104.44,89.19 L104.80,90.39 L105.15,91.56" fill="none" stroke="#4331c7" stroke-width="2.88" stroke-opacity="0.16" filter="url(#b05)"/>
<path d="M9.55,65.84 L9.90,65.00 L10.26,64.12 L10.61,63.21 L10.97,62.27 M21.63,29.54 L21.99,28.62 L22.34,27.74 L22.70,26.88 L23.05,26.06 M37.62,31.75 L37.98,32.83 L38.34,33.94 L38.69,35.09 L39.05,36.26 M49.71,75.49 L50.06,76.61 L50.42,77.69 L50.77,78.75 M65.35,82.78 L65.70,81.93 L66.06,81.05 L66.41,80.14 L66.77,79.19 M77.43,46.47 L77.79,45.55 L78.14,44.67 L78.50,43.82 L78.85,43.01 M93.42,48.95 L93.78,50.04 L94.13,51.15 L94.49,52.30 M105.15,91.56 L105.51,92.70 L105.86,93.82 L106.22,94.90 L106.57,95.94" fill="none" stroke="#4536d4" stroke-width="2.88" stroke-opacity="0.16" filter="url(#b05)"/>
<path d="M8.48,68.16 L8.84,67.43 L9.19,66.65 L9.55,65.84 M23.05,26.06 L23.41,25.28 L23.76,24.54 L24.12,23.83 M36.20,27.78 L36.56,28.71 L36.91,29.69 L37.27,30.70 L37.62,31.75 M50.77,78.75 L51.13,79.76 L51.49,80.74 L51.84,81.68 L52.20,82.59 M64.28,85.12 L64.64,84.38 L64.99,83.60 L65.35,82.78 M78.85,43.01 L79.21,42.23 L79.56,41.49 L79.92,40.79 M92.00,44.96 L92.36,45.90 L92.71,46.88 L93.07,47.90 L93.42,48.95 M106.57,95.94 L106.93,96.95 L107.28,97.93 L107.64,98.87 L107.99,99.76" fill="none" stroke="#463cdf" stroke-width="2.88" stroke-opacity="0.16" filter="url(#b05)"/>
<path d="M7.06,70.71 L7.41,70.13 L7.77,69.52 L8.13,68.86 L8.48,68.16 M24.12,23.83 L24.47,23.16 L24.83,22.53 L25.19,21.95 L25.54,21.41 M35.14,25.21 L35.49,26.02 L35.85,26.88 L36.20,27.78 M52.20,82.59 L52.55,83.45 L52.91,84.27 L53.26,85.05 M62.86,87.69 L63.21,87.11 L63.57,86.48 L63.92,85.82 L64.28,85.12 M79.92,40.79 L80.27,40.13 L80.63,39.51 L80.98,38.93 L81.34,38.39 M90.94,42.37 L91.29,43.19 L91.65,44.05 L92.00,44.96 M107.99,99.76 L108.35,100.62 L108.71,101.43 L109.06,102.20" fill="none" stroke="#4743e7" stroke-width="2.88" stroke-opacity="0.16" filter="url(#b05)"/>
<path d="M-1.11,70.57 L-0.76,71.12 M5.64,72.55 L5.99,72.16 L6.35,71.72 L6.70,71.24 L7.06,70.71 M25.54,21.41 L25.90,20.91 L26.25,20.46 L26.61,20.06 L26.96,19.70 M33.71,22.39 L34.07,23.02 L34.43,23.71 L34.78,24.43 L35.14,25.21 M53.26,85.05 L53.62,85.78 L53.97,86.47 L54.33,87.11 L54.68,87.70 L55.04,88.25 M61.44,89.56 L61.79,89.16 L62.15,88.71 L62.50,88.22 L62.86,87.69 M81.34,38.39 L81.69,37.90 L82.05,37.46 L82.41,37.06 L82.76,36.71 M89.16,38.93 L89.51,39.53 L89.87,40.17 L90.22,40.86 L90.58,41.59 L90.94,42.37 M109.06,102.20 L109.42,102.93 L109.77,103.61 L110.13,104.25 L110.48,104.84" fill="none" stroke="#484aee" stroke-width="2.88" stroke-opacity="0.16" filter="url(#b05)"/>
<path d="M-0.76,71.12 L-0.40,71.63 L-0.05,72.09 L0.31,72.50 L0.66,72.85 L1.02,73.16 L1.37,73.42 L1.73,73.62 L2.08,73.78 L2.44,73.88 L2.79,73.94 L3.15,73.94 L3.51,73.89 L3.86,73.79 L4.22,73.64 L4.57,73.44 L4.93,73.19 L5.28,72.90 L5.64,72.55 M26.96,19.70 L27.32,19.39 L27.67,19.13 L28.03,18.92 L28.38,18.76 L28.74,18.64 L29.09,18.58 L29.45,18.57 L29.81,18.61 L30.16,18.70 L30.52,18.84 L30.87,19.04 L31.23,19.28 L31.58,19.58 L31.94,19.92 L32.29,20.32 L32.65,20.76 L33.00,21.26 L33.36,21.80 L33.71,22.39 M55.04,88.25 L55.39,88.75 L55.75,89.20 L56.11,89.60 L56.46,89.95 L56.82,90.25 L57.17,90.50 L57.53,90.70 L57.88,90.85 L58.24,90.95 L58.59,91.00 L58.95,90.99 L59.30,90.94 L59.66,90.83 L60.01,90.67 L60.37,90.47 L60.73,90.21 L61.08,89.91 L61.44,89.56 M82.76,36.71 L83.12,36.41 L83.47,36.15 L83.83,35.95 L84.18,35.79 L84.54,35.69 L84.89,35.63 L85.25,35.63 L85.60,35.68 L85.96,35.77 L86.31,35.92 L86.67,36.12 L87.03,36.37 L87.38,36.68 L87.74,37.03 L88.09,37.43 L88.45,37.88 L88.80,38.38 L89.16,38.93 M110.48,104.84 L110.84,105.38 L111.19,105.87 L111.55,106.31 L111.90,106.71 L112.26,107.05 L112.61,107.35" fill="none" stroke="#4851f4" stroke-width="2.88" stroke-opacity="0.16" filter="url(#b05)"/>
<path d="M12.75,57.19 L13.10,56.10 L13.46,55.00 L13.81,53.89 L14.17,52.76 L14.52,51.62 L14.88,50.47 L15.23,49.32 L15.59,48.15 L15.94,46.99 L16.30,45.82 L16.66,44.66 L17.01,43.49 L17.37,42.34 L17.72,41.18 L18.08,40.04 L18.43,38.91 L18.79,37.79 L19.14,36.69 L19.50,35.60 L19.85,34.53 L20.21,33.49 M40.47,41.21 L40.82,42.50 L41.18,43.81 L41.53,45.14 L41.89,46.48 L42.24,47.83 L42.60,49.19 L42.96,50.56 L43.31,51.94 L43.67,53.32 L44.02,54.70 L44.38,56.09 L44.73,57.47 L45.09,58.85 L45.44,60.22 L45.80,61.58 L46.15,62.94 L46.51,64.28 L46.86,65.60 L47.22,66.92 L47.58,68.21 L47.93,69.48 M68.19,75.16 L68.54,74.09 L68.90,73.01 L69.26,71.91 L69.61,70.79 L69.97,69.66 L70.32,68.52 L70.68,67.37 L71.03,66.21 L71.39,65.05 L71.74,63.88 L72.10,62.72 L72.45,61.55 L72.81,60.39 L73.16,59.23 L73.52,58.08 L73.88,56.94 L74.23,55.81 L74.59,54.70 L74.94,53.59 L75.30,52.51 L75.65,51.44 L76.01,50.40 M96.27,58.44 L96.62,59.73 L96.98,61.05 L97.33,62.37 L97.69,63.72 L98.04,65.07 L98.40,66.43 L98.75,67.80 L99.11,69.18 L99.46,70.56 L99.82,71.95 L100.18,73.33 L100.53,74.71 L100.89,76.09 L101.24,77.46 L101.60,78.82 L101.95,80.18 L102.31,81.52 L102.66,82.84 L103.02,84.15 L103.37,85.44 L103.73,86.71" fill="none" stroke="#422fc1" stroke-width="1.2"/>
<path d="M10.97,62.27 L11.32,61.30 L11.68,60.31 L12.04,59.29 L12.39,58.25 L12.75,57.19 M20.21,33.49 L20.56,32.46 L20.92,31.46 L21.28,30.49 L21.63,29.54 M39.05,36.26 L39.40,37.46 L39.76,38.69 L40.11,39.94 L40.47,41.21 M47.93,69.48 L48.29,70.74 L48.64,71.96 L49.00,73.17 L49.35,74.34 L49.71,75.49 M66.77,79.19 L67.12,78.22 L67.48,77.23 L67.83,76.20 L68.19,75.16 M76.01,50.40 L76.36,49.38 L76.72,48.38 L77.07,47.41 L77.43,46.47 M94.49,52.30 L94.84,53.48 L95.20,54.68 L95.56,55.91 L95.91,57.16 L96.27,58.44 M103.73,86.71 L104.09,87.96 L104.44,89.19 L104.80,90.39 L105.15,91.56" fill="none" stroke="#4539d9" stroke-width="1.2"/>
<path d="M9.55,65.84 L9.90,65.00 L10.26,64.12 L10.61,63.21 L10.97,62.27 M21.63,29.54 L21.99,28.62 L22.34,27.74 L22.70,26.88 L23.05,26.06 M37.62,31.75 L37.98,32.83 L38.34,33.94 L38.69,35.09 L39.05,36.26 M49.71,75.49 L50.06,76.61 L50.42,77.69 L50.77,78.75 M65.35,82.78 L65.70,81.93 L66.06,81.05 L66.41,80.14 L66.77,79.19 M77.43,46.47 L77.79,45.55 L78.14,44.67 L78.50,43.82 L78.85,43.01 M93.42,48.95 L93.78,50.04 L94.13,51.15 L94.49,52.30 M105.15,91.56 L105.51,92.70 L105.86,93.82 L106.22,94.90 L106.57,95.94" fill="none" stroke="#4745e9" stroke-width="1.2"/>
<path d="M8.48,68.16 L8.84,67.43 L9.19,66.65 L9.55,65.84 M23.05,26.06 L23.41,25.28 L23.76,24.54 L24.12,23.83 M36.20,27.78 L36.56,28.71 L36.91,29.69 L37.27,30.70 L37.62,31.75 M50.77,78.75 L51.13,79.76 L51.49,80.74 L51.84,81.68 L52.20,82.59 M64.28,85.12 L64.64,84.38 L64.99,83.60 L65.35,82.78 M78.85,43.01 L79.21,42.23 L79.56,41.49 L79.92,40.79 M92.00,44.96 L92.36,45.90 L92.71,46.88 L93.07,47.90 L93.42,48.95 M106.57,95.94 L106.93,96.95 L107.28,97.93 L107.64,98.87 L107.99,99.76" fill="none" stroke="#4852f4" stroke-width="1.2"/>
<path d="M7.06,70.71 L7.41,70.13 L7.77,69.52 L8.13,68.86 L8.48,68.16 M24.12,23.83 L24.47,23.16 L24.83,22.53 L25.19,21.95 L25.54,21.41 M35.14,25.21 L35.49,26.02 L35.85,26.88 L36.20,27.78 M52.20,82.59 L52.55,83.45 L52.91,84.27 L53.26,85.05 M62.86,87.69 L63.21,87.11 L63.57,86.48 L63.92,85.82 L64.28,85.12 M79.92,40.79 L80.27,40.13 L80.63,39.51 L80.98,38.93 L81.34,38.39 M90.94,42.37 L91.29,43.19 L91.65,44.05 L92.00,44.96 M107.99,99.76 L108.35,100.62 L108.71,101.43 L109.06,102.20" fill="none" stroke="#465ffb" stroke-width="1.2"/>
<path d="M-1.11,70.57 L-0.76,71.12 M5.64,72.55 L5.99,72.16 L6.35,71.72 L6.70,71.24 L7.06,70.71 M25.54,21.41 L25.90,20.91 L26.25,20.46 L26.61,20.06 L26.96,19.70 M33.71,22.39 L34.07,23.02 L34.43,23.71 L34.78,24.43 L35.14,25.21 M53.26,85.05 L53.62,85.78 L53.97,86.47 L54.33,87.11 L54.68,87.70 L55.04,88.25 M61.44,89.56 L61.79,89.16 L62.15,88.71 L62.50,88.22 L62.86,87.69 M81.34,38.39 L81.69,37.90 L82.05,37.46 L82.41,37.06 L82.76,36.71 M89.16,38.93 L89.51,39.53 L89.87,40.17 L90.22,40.86 L90.58,41.59 L90.94,42.37 M109.06,102.20 L109.42,102.93 L109.77,103.61 L110.13,104.25 L110.48,104.84" fill="none" stroke="#406dfe" stroke-width="1.2"/>
<path d="M-0.76,71.12 L-0.40,71.63 L-0.05,72.09 L0.31,72.50 L0.66,72.85 L1.02,73.16 L1.37,73.42 L1.73,73.62 L2.08,73.78 L2.44,73.88 L2.79,73.94 L3.15,73.94 L3.51,73.89 L3.86,73.79 L4.22,73.64 L4.57,73.44 L4.93,73.19 L5.28,72.90 L5.64,72.55 M26.96,19.70 L27.32,19.39 L27.67,19.13 L28.03,18.92 L28.38,18.76 L28.74,18.64 L29.09,18.58 L29.45,18.57 L29.81,18.61 L30.16,18.70 L30.52,18.84 L30.87,19.04 L31.23,19.28 L31.58,19.58 L31.94,19.92 L32.29,20.32 L32.65,20.76 L33.00,21.26 L33.36,21.80 L33.71,22.39 M55.04,88.25 L55.39,88.75 L55.75,89.20 L56.11,89.60 L56.46,89.95 L56.82,90.25 L57.17,90.50 L57.53,90.70 L57.88,90.85 L58.24,90.95 L58.59,91.00 L58.95,90.99 L59.30,90.94 L59.66,90.83 L60.01,90.67 L60.37,90.47 L60.73,90.21 L61.08,89.91 L61.44,89.56 M82.76,36.71 L83.12,36.41 L83.47,36.15 L83.83,35.95 L84.18,35.79 L84.54,35.69 L84.89,35.63 L85.25,35.63 L85.60,35.68 L85.96,35.77 L86.31,35.92 L86.67,36.12 L87.03,36.37 L87.38,36.68 L87.74,37.03 L88.09,37.43 L88.45,37.88 L88.80,38.38 L89.16,38.93 M110.48,104.84 L110.84,105.38 L111.19,105.87 L111.55,106.31 L111.90,106.71 L112.26,107.05 L112.61,107.35" fill="none" stroke="#337bfd" stroke-width="1.2"/>
<path d="M-1.11,40.97 L-0.64,41.11 L-0.17,41.26 L0.31,41.40 L0.78,41.55 L1.25,41.69 L1.73,41.84 L2.20,41.98 L2.68,42.13 L3.15,42.27 L3.62,42.42 L4.10,42.56 L4.57,42.71 L5.05,42.85 L5.52,43.00 L5.99,43.14 L6.47,43.29 L6.94,43.43 L7.41,43.58 L7.89,43.72 L8.36,43.87 L8.84,44.01 L9.31,44.16 L9.78,44.30 L10.26,44.45 L10.73,44.59 L11.21,44.74 L11.68,44.88 L12.15,45.03 L12.63,45.17 L13.10,45.32 L13.58,45.46 L14.05,45.61 L14.52,45.75 L15.00,45.90 L15.47,46.04 L15.94,46.19 L16.42,46.33 L16.89,46.48 L17.37,46.62 L17.84,46.77 L18.31,46.91 L18.79,47.06 L19.26,47.20 L19.74,47.35 L20.21,47.49 L20.68,47.64 L21.16,47.78 L21.63,47.93 L22.10,48.07 L22.58,48.22 L23.05,48.36 L23.53,48.51 L24.00,48.65 L24.47,48.80 L24.95,48.94 L25.42,49.09 L25.90,49.23 L26.37,49.38 L26.84,49.52 L27.32,49.67 L27.79,49.81 L28.27,49.96 L28.74,50.10 L29.21,50.25 L29.69,50.39 L30.16,50.54 L30.63,50.68 L31.11,50.83 L31.58,50.97 L32.06,51.12 L32.53,51.26 L33.00,51.41 L33.48,51.55 L33.95,51.70 L34.43,51.84 L34.90,51.99 L35.37,52.13 L35.85,52.28 L36.32,52.42 L36.79,52.57 L37.27,52.71 L37.74,52.86 L38.22,53.00 L38.69,53.15 L39.16,53.29 L39.64,53.44 L40.11,53.58 L40.59,53.73 L41.06,53.87 L41.53,54.02 L42.01,54.16 L42.48,54.31 L42.96,54.45 L43.43,54.60 L43.90,54.74 L44.38,54.89 L44.85,55.03 L45.32,55.18 L45.80,55.32 L46.27,55.47 L46.75,55.61 L47.22,55.76 L47.69,55.90 L48.17,56.05 L48.64,56.19 L49.12,56.34 L49.59,56.48 L50.06,56.63 L50.54,56.77 L51.01,56.92 L51.49,57.06 L51.96,57.21 L52.43,57.35 L52.91,57.50 L53.38,57.64 L53.85,57.79 L54.33,57.93 L54.80,58.08 L55.28,58.22 L55.75,58.37 L56.22,58.51 L56.70,58.66 L57.17,58.80 L57.65,58.95 L58.12,59.09 L58.59,59.24 L59.07,59.38 L59.54,59.53 L60.01,59.67 L60.49,59.82 L60.96,59.96 L61.44,60.11 L61.91,60.25 L62.38,60.40 L62.86,60.54 L63.33,60.69 L63.81,60.83 L64.28,60.98 L64.75,61.12 L65.23,61.27 L65.70,61.41 L66.18,61.56 L66.65,61.70 L67.12,61.85 L67.60,61.99 L68.07,62.14 L68.54,62.28 L69.02,62.43 L69.49,62.57 L69.97,62.72 L70.44,62.86 L70.91,63.00 L71.39,63.15 L71.86,63.29 L72.34,63.44 L72.81,63.58 L73.28,63.73 L73.76,63.87 L74.23,64.02 L74.70,64.16 L75.18,64.31 L75.65,64.45 L76.13,64.60 L76.60,64.74 L77.07,64.89 L77.55,65.03 L78.02,65.18 L78.50,65.32 L78.97,65.47 L79.44,65.61 L79.92,65.76 L80.39,65.90 L80.87,66.05 L81.34,66.19 L81.81,66.34 L82.29,66.48 L82.76,66.63 L83.23,66.77 L83.71,66.92 L84.18,67.06 L84.66,67.21 L85.13,67.35 L85.60,67.50 L86.08,67.64 L86.55,67.79 L87.03,67.93 L87.50,68.08 L87.97,68.22 L88.45,68.37 L88.92,68.51 L89.40,68.66 L89.87,68.80 L90.34,68.95 L90.82,69.09 L91.29,69.24 L91.76,69.38 L92.24,69.53 L92.71,69.67 L93.19,69.82 L93.66,69.96 L94.13,70.11 L94.61,70.25 L95.08,70.40 L95.56,70.54 L96.03,70.69 L96.50,70.83 L96.98,70.98 L97.45,71.12 L97.92,71.27 L98.40,71.41 L98.87,71.56 L99.35,71.70 L99.82,71.85 L100.29,71.99 L100.77,72.14 L101.24,72.28 L101.72,72.43 L102.19,72.57 L102.66,72.72 L103.14,72.86 L103.61,73.01 L104.09,73.15 L104.56,73.30 L105.03,73.44 L105.51,73.59 L105.98,73.73 L106.45,73.88 L106.93,74.02 L107.40,74.17 L107.88,74.31 L108.35,74.46 L108.82,74.60 L109.30,74.75 L109.77,74.89 L110.25,75.04 L110.72,75.18 L111.19,75.33 L111.67,75.47 L112.14,75.62 L112.61,75.76" fill="none" stroke="#3c68f0" stroke-opacity="0.35" stroke-width="2.6" filter="url(#b05)"/>
<path d="M-1.11,40.97 L-0.64,41.11 L-0.17,41.26 L0.31,41.40 L0.78,41.55 L1.25,41.69 L1.73,41.84 L2.20,41.98 L2.68,42.13 L3.15,42.27 L3.62,42.42 L4.10,42.56 L4.57,42.71 L5.05,42.85 L5.52,43.00 L5.99,43.14 L6.47,43.29 L6.94,43.43 L7.41,43.58 L7.89,43.72 L8.36,43.87 L8.84,44.01 L9.31,44.16 L9.78,44.30 L10.26,44.45 L10.73,44.59 L11.21,44.74 L11.68,44.88 L12.15,45.03 L12.63,45.17 L13.10,45.32 L13.58,45.46 L14.05,45.61 L14.52,45.75 L15.00,45.90 L15.47,46.04 L15.94,46.19 L16.42,46.33 L16.89,46.48 L17.37,46.62 L17.84,46.77 L18.31,46.91 L18.79,47.06 L19.26,47.20 L19.74,47.35 L20.21,47.49 L20.68,47.64 L21.16,47.78 L21.63,47.93 L22.10,48.07 L22.58,48.22 L23.05,48.36 L23.53,48.51 L24.00,48.65 L24.47,48.80 L24.95,48.94 L25.42,49.09 L25.90,49.23 L26.37,49.38 L26.84,49.52 L27.32,49.67 L27.79,49.81 L28.27,49.96 L28.74,50.10 L29.21,50.25 L29.69,50.39 L30.16,50.54 L30.63,50.68 L31.11,50.83 L31.58,50.97 L32.06,51.12 L32.53,51.26 L33.00,51.41 L33.48,51.55 L33.95,51.70 L34.43,51.84 L34.90,51.99 L35.37,52.13 L35.85,52.28 L36.32,52.42 L36.79,52.57 L37.27,52.71 L37.74,52.86 L38.22,53.00 L38.69,53.15 L39.16,53.29 L39.64,53.44 L40.11,53.58 L40.59,53.73 L41.06,53.87 L41.53,54.02 L42.01,54.16 L42.48,54.31 L42.96,54.45 L43.43,54.60 L43.90,54.74 L44.38,54.89 L44.85,55.03 L45.32,55.18 L45.80,55.32 L46.27,55.47 L46.75,55.61 L47.22,55.76 L47.69,55.90 L48.17,56.05 L48.64,56.19 L49.12,56.34 L49.59,56.48 L50.06,56.63 L50.54,56.77 L51.01,56.92 L51.49,57.06 L51.96,57.21 L52.43,57.35 L52.91,57.50 L53.38,57.64 L53.85,57.79 L54.33,57.93 L54.80,58.08 L55.28,58.22 L55.75,58.37 L56.22,58.51 L56.70,58.66 L57.17,58.80 L57.65,58.95 L58.12,59.09 L58.59,59.24 L59.07,59.38 L59.54,59.53 L60.01,59.67 L60.49,59.82 L60.96,59.96 L61.44,60.11 L61.91,60.25 L62.38,60.40 L62.86,60.54 L63.33,60.69 L63.81,60.83 L64.28,60.98 L64.75,61.12 L65.23,61.27 L65.70,61.41 L66.18,61.56 L66.65,61.70 L67.12,61.85 L67.60,61.99 L68.07,62.14 L68.54,62.28 L69.02,62.43 L69.49,62.57 L69.97,62.72 L70.44,62.86 L70.91,63.00 L71.39,63.15 L71.86,63.29 L72.34,63.44 L72.81,63.58 L73.28,63.73 L73.76,63.87 L74.23,64.02 L74.70,64.16 L75.18,64.31 L75.65,64.45 L76.13,64.60 L76.60,64.74 L77.07,64.89 L77.55,65.03 L78.02,65.18 L78.50,65.32 L78.97,65.47 L79.44,65.61 L79.92,65.76 L80.39,65.90 L80.87,66.05 L81.34,66.19 L81.81,66.34 L82.29,66.48 L82.76,66.63 L83.23,66.77 L83.71,66.92 L84.18,67.06 L84.66,67.21 L85.13,67.35 L85.60,67.50 L86.08,67.64 L86.55,67.79 L87.03,67.93 L87.50,68.08 L87.97,68.22 L88.45,68.37 L88.92,68.51 L89.40,68.66 L89.87,68.80 L90.34,68.95 L90.82,69.09 L91.29,69.24 L91.76,69.38 L92.24,69.53 L92.71,69.67 L93.19,69.82 L93.66,69.96 L94.13,70.11 L94.61,70.25 L95.08,70.40 L95.56,70.54 L96.03,70.69 L96.50,70.83 L96.98,70.98 L97.45,71.12 L97.92,71.27 L98.40,71.41 L98.87,71.56 L99.35,71.70 L99.82,71.85 L100.29,71.99 L100.77,72.14 L101.24,72.28 L101.72,72.43 L102.19,72.57 L102.66,72.72 L103.14,72.86 L103.61,73.01 L104.09,73.15 L104.56,73.30 L105.03,73.44 L105.51,73.59 L105.98,73.73 L106.45,73.88 L106.93,74.02 L107.40,74.17 L107.88,74.31 L108.35,74.46 L108.82,74.60 L109.30,74.75 L109.77,74.89 L110.25,75.04 L110.72,75.18 L111.19,75.33 L111.67,75.47 L112.14,75.62 L112.61,75.76" fill="none" stroke="#347afd" stroke-opacity="1" stroke-width="1.3"/>
<path d="M14.50,39.78 L14.91,41.39 L15.33,43.01 L15.75,44.63 L16.17,46.26 L16.59,47.88 L17.00,49.51 L17.42,51.13 L17.84,52.73" fill="none" stroke="#3c74f4" stroke-opacity="0.1064" stroke-width="1.5" stroke-linecap="round" filter="url(#b05)"/>
<path d="M15.25,42.68 L15.55,43.87 L15.86,45.06 L16.17,46.26 L16.47,47.45 L16.78,48.64 L17.09,49.83" fill="none" stroke="#3c84f8" stroke-opacity="0.152" stroke-width="1.2" stroke-linecap="round" filter="url(#b05)"/>
<path d="M14.50,51.71 L14.91,50.36 L15.33,49.00 L15.75,47.63 L16.17,46.26 L16.59,44.89 L17.00,43.52 L17.42,42.15 L17.84,40.80" fill="none" stroke="#3c74f4" stroke-opacity="0.1064" stroke-width="1.5" stroke-linecap="round" filter="url(#b05)"/>
<path d="M15.25,49.27 L15.55,48.27 L15.86,47.26 L16.17,46.26 L16.47,45.25 L16.78,44.25 L17.09,43.24" fill="none" stroke="#3c84f8" stroke-opacity="0.152" stroke-width="1.2" stroke-linecap="round" filter="url(#b05)"/>
<ellipse cx="16.17" cy="46.26" rx="1.7" ry="2.6" fill="#3890f4" fill-opacity="0.152" filter="url(#b1)"/>
<path d="M41.70,62.37 L42.29,60.51 L42.87,58.61 L43.46,56.70 L44.04,54.78 L44.63,52.86 L45.21,50.95 L45.80,49.06 L46.38,47.20" fill="none" stroke="#3c74f4" stroke-opacity="0.28" stroke-width="1.5" stroke-linecap="round" filter="url(#b05)"/>
<path d="M42.75,59.00 L43.18,57.60 L43.61,56.19 L44.04,54.78 L44.47,53.38 L44.90,51.97 L45.33,50.57" fill="none" stroke="#3c84f8" stroke-opacity="0.4" stroke-width="1.2" stroke-linecap="round" filter="url(#b05)"/>
<path d="M41.70,45.76 L42.29,47.99 L42.87,50.24 L43.46,52.51 L44.04,54.78 L44.63,57.06 L45.21,59.33 L45.80,61.58 L46.38,63.80" fill="none" stroke="#3c74f4" stroke-opacity="0.28" stroke-width="1.5" stroke-linecap="round" filter="url(#b05)"/>
<path d="M42.75,49.79 L43.18,51.45 L43.61,53.11 L44.04,54.78 L44.47,56.46 L44.90,58.12 L45.33,59.78" fill="none" stroke="#3c84f8" stroke-opacity="0.4" stroke-width="1.2" stroke-linecap="round" filter="url(#b05)"/>
<ellipse cx="44.04" cy="54.78" rx="1.7" ry="2.6" fill="#3890f4" fill-opacity="0.4" filter="url(#b1)"/>
<circle cx="44.04" cy="54.78" r="0.9" fill="#2cb0e8" filter="url(#b03)"/>
<path d="M70.25,56.83 L70.66,58.44 L71.08,60.06 L71.50,61.68 L71.92,63.31 L72.34,64.94 L72.75,66.56 L73.17,68.18 L73.59,69.79" fill="none" stroke="#3c74f4" stroke-opacity="0.1064" stroke-width="1.5" stroke-linecap="round" filter="url(#b05)"/>
<path d="M71.00,59.74 L71.30,60.93 L71.61,62.12 L71.92,63.31 L72.22,64.51 L72.53,65.70 L72.84,66.89" fill="none" stroke="#3c84f8" stroke-opacity="0.152" stroke-width="1.2" stroke-linecap="round" filter="url(#b05)"/>
<path d="M70.25,68.77 L70.66,67.41 L71.08,66.05 L71.50,64.68 L71.92,63.31 L72.34,61.94 L72.75,60.57 L73.17,59.21 L73.59,57.86" fill="none" stroke="#3c74f4" stroke-opacity="0.1064" stroke-width="1.5" stroke-linecap="round" filter="url(#b05)"/>
<path d="M71.00,66.33 L71.30,65.32 L71.61,64.32 L71.92,63.31 L72.22,62.31 L72.53,61.30 L72.84,60.30" fill="none" stroke="#3c84f8" stroke-opacity="0.152" stroke-width="1.2" stroke-linecap="round" filter="url(#b05)"/>
<ellipse cx="71.92" cy="63.31" rx="1.7" ry="2.6" fill="#3890f4" fill-opacity="0.152" filter="url(#b1)"/>
<path d="M97.45,79.43 L98.04,77.56 L98.62,75.67 L99.21,73.76 L99.79,71.84 L100.38,69.92 L100.96,68.01 L101.55,66.12 L102.13,64.25" fill="none" stroke="#3c74f4" stroke-opacity="0.28" stroke-width="1.5" stroke-linecap="round" filter="url(#b05)"/>
<path d="M98.50,76.05 L98.93,74.65 L99.36,73.25 L99.79,71.84 L100.22,70.43 L100.65,69.03 L101.08,67.63" fill="none" stroke="#3c84f8" stroke-opacity="0.4" stroke-width="1.2" stroke-linecap="round" filter="url(#b05)"/>
<path d="M97.45,62.82 L98.04,65.04 L98.62,67.29 L99.21,69.56 L99.79,71.84 L100.38,74.12 L100.96,76.39 L101.55,78.64 L102.13,80.86" fill="none" stroke="#3c74f4" stroke-opacity="0.28" stroke-width="1.5" stroke-linecap="round" filter="url(#b05)"/>
<path d="M98.50,66.84 L98.93,68.50 L99.36,70.17 L99.79,71.84 L100.22,73.51 L100.65,75.18 L101.08,76.84" fill="none" stroke="#3c84f8" stroke-opacity="0.4" stroke-width="1.2" stroke-linecap="round" filter="url(#b05)"/>
<ellipse cx="99.79" cy="71.84" rx="1.7" ry="2.6" fill="#3890f4" fill-opacity="0.4" filter="url(#b1)"/>
<circle cx="99.79" cy="71.84" r="0.9" fill="#2cb0e8" filter="url(#b03)"/>
</g>
<rect x="341.6" y="182" width="6" height="113.7" fill="url(#cb)" stroke="#333" stroke-opacity="0.45" stroke-width="0.35"/>
<path d="M347.6,210.43 h-1.2" stroke="#333" stroke-width="0.5"/>
<path d="M347.6,238.85 h-1.2" stroke="#333" stroke-width="0.5"/>
<path d="M347.6,267.27 h-1.2" stroke="#333" stroke-width="0.5"/>
<text class="cbt" x="350.1" y="185.10">0</text>
<text class="cbt" x="350.1" y="213.53">-10</text>
<text class="cbt" x="350.1" y="241.95">-20</text>
<text class="cbt" x="350.1" y="270.38">-30</text>
<text class="cbt" x="350.1" y="298.80">-40</text>
<text class="tk" text-anchor="end" x="222" y="204.35">500</text>
<text class="tk" text-anchor="end" x="222" y="242.25">0</text>
<text class="tk" text-anchor="end" x="222" y="280.15">-500</text>
<text class="tk" text-anchor="middle" x="225.00" y="307.20">0</text>
<text class="tk" text-anchor="middle" x="280.75" y="307.20">0.5</text>
<text class="tk" text-anchor="middle" x="336.50" y="307.20">1</text>
<text class="ax" text-anchor="middle" x="280.75" y="318.90">Time (s)</text>
<text class="ax" text-anchor="middle" transform="translate(200.80,238.85) rotate(-90)">Frequency (Hz)</text>
<text class="sub" x="188.9" y="339.4">(<tspan>e</tspan>)</text>
<g transform="translate(410,182)" clip-path="url(#cp12)">
<rect width="111" height="113.7" fill="#3e26a8"/>
<path d="M12.33,31.95 L12.69,33.24 L13.04,34.53 L13.40,35.85 L13.75,37.18 L14.10,38.53 L14.46,39.89 L14.81,41.25 L15.17,42.63 L15.52,44.01 L15.87,45.39 L16.23,46.77 L16.58,48.16 L16.93,49.54 L17.29,50.91 L17.64,52.28 L18.00,53.64 L18.35,54.99 L18.70,56.32 L19.06,57.64 L19.41,58.95 L19.76,60.23 L20.12,61.50 L20.47,62.74 M39.93,67.23 L40.29,66.17 L40.64,65.10 L40.99,64.01 L41.35,62.90 L41.70,61.78 L42.06,60.64 L42.41,59.50 L42.76,58.34 L43.12,57.18 L43.47,56.02 L43.82,54.85 L44.18,53.69 L44.53,52.52 L44.89,51.36 L45.24,50.21 L45.59,49.06 L45.95,47.93 L46.30,46.80 L46.65,45.69 L47.01,44.60 L47.36,43.52 L47.72,42.46 L48.07,41.43 M67.53,47.92 L67.88,49.18 L68.24,50.47 L68.59,51.77 L68.94,53.09 L69.30,54.42 L69.65,55.77 L70.01,57.13 L70.36,58.50 L70.71,59.87 L71.07,61.25 L71.42,62.63 L71.78,64.02 L72.13,65.40 L72.48,66.78 L72.84,68.15 L73.19,69.52 L73.54,70.88 L73.90,72.23 L74.25,73.56 L74.61,74.88 L74.96,76.18 L75.31,77.46 L75.67,78.73 M95.48,84.14 L95.83,83.08 L96.19,82.01 L96.54,80.91 L96.90,79.80 L97.25,78.68 L97.60,77.54 L97.96,76.39 L98.31,75.24 L98.67,74.08 L99.02,72.91 L99.37,71.75 L99.73,70.58 L100.08,69.42 L100.43,68.26 L100.79,67.11 L101.14,65.96 L101.50,64.83 L101.85,63.70 L102.20,62.59 L102.56,61.50 L102.91,60.43 L103.26,59.38 L103.62,58.34" fill="none" stroke="#402bb8" stroke-width="1"/>
<path d="M10.57,25.91 L10.92,27.06 L11.27,28.25 L11.63,29.46 L11.98,30.70 L12.33,31.95 M20.47,62.74 L20.83,63.96 L21.18,65.15 L21.53,66.32 L21.89,67.45 M38.52,71.21 L38.87,70.25 L39.22,69.27 L39.58,68.26 L39.93,67.23 M48.07,41.43 L48.42,40.42 L48.78,39.43 L49.13,38.47 L49.49,37.54 M66.11,43.12 L66.47,44.28 L66.82,45.47 L67.18,46.68 L67.53,47.92 M75.67,78.73 L76.02,79.97 L76.37,81.18 L76.73,82.37 L77.08,83.53 L77.44,84.66 M94.07,88.13 L94.42,87.17 L94.77,86.19 L95.13,85.17 L95.48,84.14 M103.62,58.34 L103.97,57.34 L104.33,56.35 L104.68,55.40 L105.03,54.47" fill="none" stroke="#4332ca" stroke-width="1"/>
<path d="M9.50,22.62 L9.86,23.68 L10.21,24.78 L10.57,25.91 M21.89,67.45 L22.24,68.55 L22.60,69.63 L22.95,70.66 L23.30,71.66 M37.10,74.72 L37.46,73.89 L37.81,73.03 L38.16,72.13 L38.52,71.21 M49.49,37.54 L49.84,36.64 L50.19,35.78 L50.55,34.94 L50.90,34.14 M65.05,39.82 L65.41,40.89 L65.76,41.99 L66.11,43.12 M77.44,84.66 L77.79,85.76 L78.14,86.82 L78.50,87.86 M92.65,91.67 L93.00,90.83 L93.36,89.96 L93.71,89.06 L94.07,88.13 M105.03,54.47 L105.39,53.58 L105.74,52.71 L106.10,51.88 L106.45,51.09" fill="none" stroke="#4639da" stroke-width="1"/>
<path d="M8.09,18.73 L8.44,19.65 L8.80,20.60 L9.15,21.59 L9.50,22.62 M23.30,71.66 L23.66,72.63 L24.01,73.55 L24.36,74.44 M36.04,77.00 L36.39,76.28 L36.75,75.52 L37.10,74.72 M50.90,34.14 L51.25,33.38 L51.61,32.66 L51.96,31.97 M63.64,35.91 L63.99,36.83 L64.35,37.79 L64.70,38.79 L65.05,39.82 M78.50,87.86 L78.85,88.85 L79.21,89.81 L79.56,90.73 L79.91,91.61 M91.59,93.95 L91.94,93.23 L92.30,92.47 L92.65,91.67 M106.45,51.09 L106.80,50.33 L107.16,49.61 L107.51,48.94" fill="none" stroke="#4742e6" stroke-width="1"/>
<path d="M7.03,16.23 L7.38,17.03 L7.74,17.86 L8.09,18.73 M24.36,74.44 L24.72,75.28 L25.07,76.08 L25.43,76.84 M34.63,79.47 L34.98,78.91 L35.33,78.32 L35.69,77.68 L36.04,77.00 M51.96,31.97 L52.32,31.33 L52.67,30.72 L53.02,30.16 L53.38,29.65 M62.58,33.40 L62.93,34.19 L63.28,35.03 L63.64,35.91 M79.91,91.61 L80.27,92.45 L80.62,93.24 L80.97,94.00 M90.17,96.45 L90.53,95.89 L90.88,95.29 L91.24,94.64 L91.59,93.95 M107.51,48.94 L107.86,48.30 L108.22,47.70 L108.57,47.15 L108.93,46.64" fill="none" stroke="#484bef" stroke-width="1"/>
<path d="M-1.11,11.37 L-0.76,11.03 M5.61,13.52 L5.97,14.13 L6.32,14.79 L6.67,15.49 L7.03,16.23 M25.43,76.84 L25.78,77.55 L26.13,78.22 L26.49,78.84 L26.84,79.42 M33.21,81.23 L33.56,80.86 L33.92,80.44 L34.27,79.98 L34.63,79.47 M53.38,29.65 L53.73,29.18 L54.08,28.75 L54.44,28.38 L54.79,28.05 M61.16,30.65 L61.51,31.27 L61.87,31.93 L62.22,32.64 L62.58,33.40 M80.97,94.00 L81.33,94.70 L81.68,95.37 L82.04,95.98 L82.39,96.55 M88.76,98.24 L89.11,97.86 L89.47,97.44 L89.82,96.97 L90.17,96.45 M108.93,46.64 L109.28,46.17 L109.63,45.75 L109.99,45.38 L110.34,45.06" fill="none" stroke="#4854f6" stroke-width="1"/>
<path d="M-0.76,11.03 L-0.40,10.74 L-0.05,10.50 L0.31,10.31 L0.66,10.17 L1.01,10.08 L1.37,10.04 L1.72,10.05 L2.07,10.12 L2.43,10.23 L2.78,10.39 L3.14,10.61 L3.49,10.88 L3.84,11.19 L4.20,11.56 L4.55,11.98 L4.90,12.44 L5.26,12.96 L5.61,13.52 M26.84,79.42 L27.20,79.95 L27.55,80.42 L27.90,80.85 L28.26,81.23 L28.61,81.56 L28.96,81.84 L29.32,82.07 L29.67,82.25 L30.03,82.37 L30.38,82.45 L30.73,82.47 L31.09,82.45 L31.44,82.37 L31.79,82.24 L32.15,82.06 L32.50,81.84 L32.86,81.56 L33.21,81.23 M54.79,28.05 L55.15,27.76 L55.50,27.53 L55.85,27.35 L56.21,27.21 L56.56,27.13 L56.92,27.10 L57.27,27.12 L57.62,27.18 L57.98,27.30 L58.33,27.48 L58.68,27.70 L59.04,27.97 L59.39,28.29 L59.75,28.67 L60.10,29.09 L60.45,29.56 L60.81,30.09 L61.16,30.65 M82.39,96.55 L82.74,97.07 L83.10,97.54 L83.45,97.96 L83.81,98.34 L84.16,98.66 L84.51,98.93 L84.87,99.15 L85.22,99.32 L85.57,99.44 L85.93,99.51 L86.28,99.53 L86.64,99.49 L86.99,99.41 L87.34,99.27 L87.70,99.09 L88.05,98.86 L88.40,98.57 L88.76,98.24 M110.34,45.06 L110.69,44.78 L111.05,44.56 L111.40,44.38 L111.76,44.25 L112.11,44.18" fill="none" stroke="#465efb" stroke-width="1"/>
<path d="M12.33,58.25 L12.69,57.19 L13.04,56.10 L13.40,55.00 L13.75,53.89 L14.10,52.76 L14.46,51.62 L14.81,50.47 L15.17,49.32 L15.52,48.15 L15.87,46.99 L16.23,45.82 L16.58,44.66 L16.93,43.49 L17.29,42.34 L17.64,41.18 L18.00,40.04 L18.35,38.91 L18.70,37.79 L19.06,36.69 L19.41,35.60 L19.76,34.53 L20.12,33.49 L20.47,32.46 M39.93,39.94 L40.29,41.21 L40.64,42.50 L40.99,43.81 L41.35,45.14 L41.70,46.48 L42.06,47.83 L42.41,49.19 L42.76,50.56 L43.12,51.94 L43.47,53.32 L43.82,54.70 L44.18,56.09 L44.53,57.47 L44.89,58.85 L45.24,60.22 L45.59,61.58 L45.95,62.94 L46.30,64.28 L46.65,65.60 L47.01,66.92 L47.36,68.21 L47.72,69.48 L48.07,70.74 M67.53,76.20 L67.88,75.16 L68.24,74.09 L68.59,73.01 L68.94,71.91 L69.30,70.79 L69.65,69.66 L70.01,68.52 L70.36,67.37 L70.71,66.21 L71.07,65.05 L71.42,63.88 L71.78,62.72 L72.13,61.55 L72.48,60.39 L72.84,59.23 L73.19,58.08 L73.54,56.94 L73.90,55.81 L74.25,54.70 L74.61,53.59 L74.96,52.51 L75.31,51.44 L75.67,50.40 M95.48,57.16 L95.83,58.44 L96.19,59.73 L96.54,61.05 L96.90,62.37 L97.25,63.72 L97.60,65.07 L97.96,66.43 L98.31,67.80 L98.67,69.18 L99.02,70.56 L99.37,71.95 L99.73,73.33 L100.08,74.71 L100.43,76.09 L100.79,77.46 L101.14,78.82 L101.50,80.18 L101.85,81.52 L102.20,82.84 L102.56,84.15 L102.91,85.44 L103.26,86.71 L103.62,87.96" fill="none" stroke="#402bb8" stroke-width="1"/>
<path d="M10.57,63.21 L10.92,62.27 L11.27,61.30 L11.63,60.31 L11.98,59.29 L12.33,58.25 M20.47,32.46 L20.83,31.46 L21.18,30.49 L21.53,29.54 L21.89,28.62 M38.52,35.09 L38.87,36.26 L39.22,37.46 L39.58,38.69 L39.93,39.94 M48.07,70.74 L48.42,71.96 L48.78,73.17 L49.13,74.34 L49.49,75.49 M66.11,80.14 L66.47,79.19 L66.82,78.22 L67.18,77.23 L67.53,76.20 M75.67,50.40 L76.02,49.38 L76.37,48.38 L76.73,47.41 L77.08,46.47 L77.44,45.55 M94.07,52.30 L94.42,53.48 L94.77,54.68 L95.13,55.91 L95.48,57.16 M103.62,87.96 L103.97,89.19 L104.33,90.39 L104.68,91.56 L105.03,92.70" fill="none" stroke="#4332ca" stroke-width="1"/>
<path d="M9.50,65.84 L9.86,65.00 L10.21,64.12 L10.57,63.21 M21.89,28.62 L22.24,27.74 L22.60,26.88 L22.95,26.06 L23.30,25.28 M37.10,30.70 L37.46,31.75 L37.81,32.83 L38.16,33.94 L38.52,35.09 M49.49,75.49 L49.84,76.61 L50.19,77.69 L50.55,78.75 L50.90,79.76 M65.05,82.78 L65.41,81.93 L65.76,81.05 L66.11,80.14 M77.44,45.55 L77.79,44.67 L78.14,43.82 L78.50,43.01 M92.65,47.90 L93.00,48.95 L93.36,50.04 L93.71,51.15 L94.07,52.30 M105.03,92.70 L105.39,93.82 L105.74,94.90 L106.10,95.94 L106.45,96.95" fill="none" stroke="#4639da" stroke-width="1"/>
<path d="M8.09,68.86 L8.44,68.16 L8.80,67.43 L9.15,66.65 L9.50,65.84 M23.30,25.28 L23.66,24.54 L24.01,23.83 L24.36,23.16 M36.04,27.78 L36.39,28.71 L36.75,29.69 L37.10,30.70 M50.90,79.76 L51.25,80.74 L51.61,81.68 L51.96,82.59 M63.64,85.82 L63.99,85.12 L64.35,84.38 L64.70,83.60 L65.05,82.78 M78.50,43.01 L78.85,42.23 L79.21,41.49 L79.56,40.79 L79.91,40.13 M91.59,44.96 L91.94,45.90 L92.30,46.88 L92.65,47.90 M106.45,96.95 L106.80,97.93 L107.16,98.87 L107.51,99.76" fill="none" stroke="#4742e6" stroke-width="1"/>
<path d="M7.03,70.71 L7.38,70.13 L7.74,69.52 L8.09,68.86 M24.36,23.16 L24.72,22.53 L25.07,21.95 L25.43,21.41 M34.63,24.43 L34.98,25.21 L35.33,26.02 L35.69,26.88 L36.04,27.78 M51.96,82.59 L52.32,83.45 L52.67,84.27 L53.02,85.05 L53.38,85.78 M62.58,87.69 L62.93,87.11 L63.28,86.48 L63.64,85.82 M79.91,40.13 L80.27,39.51 L80.62,38.93 L80.97,38.39 M90.17,41.59 L90.53,42.37 L90.88,43.19 L91.24,44.05 L91.59,44.96 M107.51,99.76 L107.86,100.62 L108.22,101.43 L108.57,102.20 L108.93,102.93" fill="none" stroke="#484bef" stroke-width="1"/>
<path d="M-1.11,70.57 L-0.76,71.12 M5.61,72.55 L5.97,72.16 L6.32,71.72 L6.67,71.24 L7.03,70.71 M25.43,21.41 L25.78,20.91 L26.13,20.46 L26.49,20.06 L26.84,19.70 M33.21,21.80 L33.56,22.39 L33.92,23.02 L34.27,23.71 L34.63,24.43 M53.38,85.78 L53.73,86.47 L54.08,87.11 L54.44,87.70 L54.79,88.25 M61.16,89.56 L61.51,89.16 L61.87,88.71 L62.22,88.22 L62.58,87.69 M80.97,38.39 L81.33,37.90 L81.68,37.46 L82.04,37.06 L82.39,36.71 M88.76,38.93 L89.11,39.53 L89.47,40.17 L89.82,40.86 L90.17,41.59 M108.93,102.93 L109.28,103.61 L109.63,104.25 L109.99,104.84 L110.34,105.38" fill="none" stroke="#4854f6" stroke-width="1"/>
<path d="M-0.76,71.12 L-0.40,71.63 L-0.05,72.09 L0.31,72.50 L0.66,72.85 L1.01,73.16 L1.37,73.42 L1.72,73.62 L2.07,73.78 L2.43,73.88 L2.78,73.94 L3.14,73.94 L3.49,73.89 L3.84,73.79 L4.20,73.64 L4.55,73.44 L4.90,73.19 L5.26,72.90 L5.61,72.55 M26.84,19.70 L27.20,19.39 L27.55,19.13 L27.90,18.92 L28.26,18.76 L28.61,18.64 L28.96,18.58 L29.32,18.57 L29.67,18.61 L30.03,18.70 L30.38,18.84 L30.73,19.04 L31.09,19.28 L31.44,19.58 L31.79,19.92 L32.15,20.32 L32.50,20.76 L32.86,21.26 L33.21,21.80 M54.79,88.25 L55.15,88.75 L55.50,89.20 L55.85,89.60 L56.21,89.95 L56.56,90.25 L56.92,90.50 L57.27,90.70 L57.62,90.85 L57.98,90.95 L58.33,91.00 L58.68,90.99 L59.04,90.94 L59.39,90.83 L59.75,90.67 L60.10,90.47 L60.45,90.21 L60.81,89.91 L61.16,89.56 M82.39,36.71 L82.74,36.41 L83.10,36.15 L83.45,35.95 L83.81,35.79 L84.16,35.69 L84.51,35.63 L84.87,35.63 L85.22,35.68 L85.57,35.77 L85.93,35.92 L86.28,36.12 L86.64,36.37 L86.99,36.68 L87.34,37.03 L87.70,37.43 L88.05,37.88 L88.40,38.38 L88.76,38.93 M110.34,105.38 L110.69,105.87 L111.05,106.31 L111.40,106.71 L111.76,107.05 L112.11,107.35" fill="none" stroke="#465efb" stroke-width="1"/>
<path d="M-1.11,40.97 L-0.64,41.11 L-0.17,41.26 L0.31,41.40 L0.78,41.55 L1.25,41.69 L1.72,41.84 L2.19,41.98 L2.66,42.13 L3.14,42.27 L3.61,42.42 L4.08,42.56 L4.55,42.71 L5.02,42.85 L5.49,43.00 L5.97,43.14 L6.44,43.29 L6.91,43.43 L7.38,43.58 L7.85,43.72 L8.32,43.87 L8.80,44.01 L9.27,44.16 L9.74,44.30 L10.21,44.45 L10.68,44.59 L11.16,44.74 L11.63,44.88 L12.10,45.03 L12.57,45.17 L13.04,45.32 L13.51,45.46 L13.99,45.61 L14.46,45.75 L14.93,45.90 L15.40,46.04 L15.87,46.19 L16.34,46.33 L16.82,46.48 L17.29,46.62 L17.76,46.77 L18.23,46.91 L18.70,47.06 L19.18,47.20 L19.65,47.35 L20.12,47.49 L20.59,47.64 L21.06,47.78 L21.53,47.93 L22.01,48.07 L22.48,48.22 L22.95,48.36 L23.42,48.51 L23.89,48.65 L24.36,48.80 L24.84,48.94 L25.31,49.09 L25.78,49.23 L26.25,49.38 L26.72,49.52 L27.20,49.67 L27.67,49.81 L28.14,49.96 L28.61,50.10 L29.08,50.25 L29.55,50.39 L30.03,50.54 L30.50,50.68 L30.97,50.83 L31.44,50.97 L31.91,51.12 L32.38,51.26 L32.86,51.41 L33.33,51.55 L33.80,51.70 L34.27,51.84 L34.74,51.99 L35.21,52.13 L35.69,52.28 L36.16,52.42 L36.63,52.57 L37.10,52.71 L37.57,52.86 L38.05,53.00 L38.52,53.15 L38.99,53.29 L39.46,53.44 L39.93,53.58 L40.40,53.73 L40.88,53.87 L41.35,54.02 L41.82,54.16 L42.29,54.31 L42.76,54.45 L43.23,54.60 L43.71,54.74 L44.18,54.89 L44.65,55.03 L45.12,55.18 L45.59,55.32 L46.06,55.47 L46.54,55.61 L47.01,55.76 L47.48,55.90 L47.95,56.05 L48.42,56.19 L48.90,56.34 L49.37,56.48 L49.84,56.63 L50.31,56.77 L50.78,56.92 L51.25,57.06 L51.73,57.21 L52.20,57.35 L52.67,57.50 L53.14,57.64 L53.61,57.79 L54.08,57.93 L54.56,58.08 L55.03,58.22 L55.50,58.37 L55.97,58.51 L56.44,58.66 L56.92,58.80 L57.39,58.95 L57.86,59.09 L58.33,59.24 L58.80,59.38 L59.27,59.53 L59.75,59.67 L60.22,59.82 L60.69,59.96 L61.16,60.11 L61.63,60.25 L62.10,60.40 L62.58,60.54 L63.05,60.69 L63.52,60.83 L63.99,60.98 L64.46,61.12 L64.94,61.27 L65.41,61.41 L65.88,61.56 L66.35,61.70 L66.82,61.85 L67.29,61.99 L67.77,62.14 L68.24,62.28 L68.71,62.43 L69.18,62.57 L69.65,62.72 L70.12,62.86 L70.60,63.00 L71.07,63.15 L71.54,63.29 L72.01,63.44 L72.48,63.58 L72.95,63.73 L73.43,63.87 L73.90,64.02 L74.37,64.16 L74.84,64.31 L75.31,64.45 L75.79,64.60 L76.26,64.74 L76.73,64.89 L77.20,65.03 L77.67,65.18 L78.14,65.32 L78.62,65.47 L79.09,65.61 L79.56,65.76 L80.03,65.90 L80.50,66.05 L80.97,66.19 L81.45,66.34 L81.92,66.48 L82.39,66.63 L82.86,66.77 L83.33,66.92 L83.81,67.06 L84.28,67.21 L84.75,67.35 L85.22,67.50 L85.69,67.64 L86.16,67.79 L86.64,67.93 L87.11,68.08 L87.58,68.22 L88.05,68.37 L88.52,68.51 L88.99,68.66 L89.47,68.80 L89.94,68.95 L90.41,69.09 L90.88,69.24 L91.35,69.38 L91.82,69.53 L92.30,69.67 L92.77,69.82 L93.24,69.96 L93.71,70.11 L94.18,70.25 L94.66,70.40 L95.13,70.54 L95.60,70.69 L96.07,70.83 L96.54,70.98 L97.01,71.12 L97.49,71.27 L97.96,71.41 L98.43,71.56 L98.90,71.70 L99.37,71.85 L99.84,71.99 L100.32,72.14 L100.79,72.28 L101.26,72.43 L101.73,72.57 L102.20,72.72 L102.68,72.86 L103.15,73.01 L103.62,73.15 L104.09,73.30 L104.56,73.44 L105.03,73.59 L105.51,73.73 L105.98,73.88 L106.45,74.02 L106.92,74.17 L107.39,74.31 L107.86,74.46 L108.34,74.60 L108.81,74.75 L109.28,74.89 L109.75,75.04 L110.22,75.18 L110.69,75.33 L111.17,75.47 L111.64,75.62 L112.11,75.76" fill="none" stroke="#3474e6" stroke-opacity="0.36" stroke-width="1.8" filter="url(#b05)"/>
<path d="M-1.11,40.97 L-0.64,41.11 L-0.17,41.26 L0.31,41.40 L0.78,41.55 L1.25,41.69 L1.72,41.84 L2.19,41.98 L2.66,42.13 L3.14,42.27 L3.61,42.42 L4.08,42.56 L4.55,42.71 L5.02,42.85 L5.49,43.00 L5.97,43.14 L6.44,43.29 L6.91,43.43 L7.38,43.58 L7.85,43.72 L8.32,43.87 L8.80,44.01 L9.27,44.16 L9.74,44.30 L10.21,44.45 L10.68,44.59 L11.16,44.74 L11.63,44.88 L12.10,45.03 L12.57,45.17 L13.04,45.32 L13.51,45.46 L13.99,45.61 L14.46,45.75 L14.93,45.90 L15.40,46.04 L15.87,46.19 L16.34,46.33 L16.82,46.48 L17.29,46.62 L17.76,46.77 L18.23,46.91 L18.70,47.06 L19.18,47.20 L19.65,47.35 L20.12,47.49 L20.59,47.64 L21.06,47.78 L21.53,47.93 L22.01,48.07 L22.48,48.22 L22.95,48.36 L23.42,48.51 L23.89,48.65 L24.36,48.80 L24.84,48.94 L25.31,49.09 L25.78,49.23 L26.25,49.38 L26.72,49.52 L27.20,49.67 L27.67,49.81 L28.14,49.96 L28.61,50.10 L29.08,50.25 L29.55,50.39 L30.03,50.54 L30.50,50.68 L30.97,50.83 L31.44,50.97 L31.91,51.12 L32.38,51.26 L32.86,51.41 L33.33,51.55 L33.80,51.70 L34.27,51.84 L34.74,51.99 L35.21,52.13 L35.69,52.28 L36.16,52.42 L36.63,52.57 L37.10,52.71 L37.57,52.86 L38.05,53.00 L38.52,53.15 L38.99,53.29 L39.46,53.44 L39.93,53.58 L40.40,53.73 L40.88,53.87 L41.35,54.02 L41.82,54.16 L42.29,54.31 L42.76,54.45 L43.23,54.60 L43.71,54.74 L44.18,54.89 L44.65,55.03 L45.12,55.18 L45.59,55.32 L46.06,55.47 L46.54,55.61 L47.01,55.76 L47.48,55.90 L47.95,56.05 L48.42,56.19 L48.90,56.34 L49.37,56.48 L49.84,56.63 L50.31,56.77 L50.78,56.92 L51.25,57.06 L51.73,57.21 L52.20,57.35 L52.67,57.50 L53.14,57.64 L53.61,57.79 L54.08,57.93 L54.56,58.08 L55.03,58.22 L55.50,58.37 L55.97,58.51 L56.44,58.66 L56.92,58.80 L57.39,58.95 L57.86,59.09 L58.33,59.24 L58.80,59.38 L59.27,59.53 L59.75,59.67 L60.22,59.82 L60.69,59.96 L61.16,60.11 L61.63,60.25 L62.10,60.40 L62.58,60.54 L63.05,60.69 L63.52,60.83 L63.99,60.98 L64.46,61.12 L64.94,61.27 L65.41,61.41 L65.88,61.56 L66.35,61.70 L66.82,61.85 L67.29,61.99 L67.77,62.14 L68.24,62.28 L68.71,62.43 L69.18,62.57 L69.65,62.72 L70.12,62.86 L70.60,63.00 L71.07,63.15 L71.54,63.29 L72.01,63.44 L72.48,63.58 L72.95,63.73 L73.43,63.87 L73.90,64.02 L74.37,64.16 L74.84,64.31 L75.31,64.45 L75.79,64.60 L76.26,64.74 L76.73,64.89 L77.20,65.03 L77.67,65.18 L78.14,65.32 L78.62,65.47 L79.09,65.61 L79.56,65.76 L80.03,65.90 L80.50,66.05 L80.97,66.19 L81.45,66.34 L81.92,66.48 L82.39,66.63 L82.86,66.77 L83.33,66.92 L83.81,67.06 L84.28,67.21 L84.75,67.35 L85.22,67.50 L85.69,67.64 L86.16,67.79 L86.64,67.93 L87.11,68.08 L87.58,68.22 L88.05,68.37 L88.52,68.51 L88.99,68.66 L89.47,68.80 L89.94,68.95 L90.41,69.09 L90.88,69.24 L91.35,69.38 L91.82,69.53 L92.30,69.67 L92.77,69.82 L93.24,69.96 L93.71,70.11 L94.18,70.25 L94.66,70.40 L95.13,70.54 L95.60,70.69 L96.07,70.83 L96.54,70.98 L97.01,71.12 L97.49,71.27 L97.96,71.41 L98.43,71.56 L98.90,71.70 L99.37,71.85 L99.84,71.99 L100.32,72.14 L100.79,72.28 L101.26,72.43 L101.73,72.57 L102.20,72.72 L102.68,72.86 L103.15,73.01 L103.62,73.15 L104.09,73.30 L104.56,73.44 L105.03,73.59 L105.51,73.73 L105.98,73.88 L106.45,74.02 L106.92,74.17 L107.39,74.31 L107.86,74.46 L108.34,74.60 L108.81,74.75 L109.28,74.89 L109.75,75.04 L110.22,75.18 L110.69,75.33 L111.17,75.47 L111.64,75.62 L112.11,75.76" fill="none" stroke="#8cbca0" stroke-opacity="0.6" stroke-width="0.6"/>
<path d="M14.43,39.78 L14.85,41.39 L15.26,43.01 L15.68,44.63 L16.09,46.26 L16.51,47.88 L16.93,49.51 L17.34,51.13 L17.76,52.73" fill="none" stroke="#3c74f4" stroke-opacity="0.16492" stroke-width="1.5" stroke-linecap="round" filter="url(#b05)"/>
<path d="M15.18,42.68 L15.48,43.87 L15.79,45.06 L16.09,46.26 L16.40,47.45 L16.71,48.64 L17.01,49.83" fill="none" stroke="#3c84f8" stroke-opacity="0.2356" stroke-width="1.2" stroke-linecap="round" filter="url(#b05)"/>
<path d="M14.43,51.71 L14.85,50.36 L15.26,49.00 L15.68,47.63 L16.09,46.26 L16.51,44.89 L16.93,43.52 L17.34,42.15 L17.76,40.80" fill="none" stroke="#3c74f4" stroke-opacity="0.16492" stroke-width="1.5" stroke-linecap="round" filter="url(#b05)"/>
<path d="M15.18,49.27 L15.48,48.27 L15.79,47.26 L16.09,46.26 L16.40,45.25 L16.71,44.25 L17.01,43.24" fill="none" stroke="#3c84f8" stroke-opacity="0.2356" stroke-width="1.2" stroke-linecap="round" filter="url(#b05)"/>
<ellipse cx="16.09" cy="46.26" rx="1.7" ry="2.6" fill="#3890f4" fill-opacity="0.2356" filter="url(#b1)"/>
<path d="M41.51,62.37 L42.10,60.51 L42.68,58.61 L43.26,56.70 L43.84,54.78 L44.43,52.86 L45.01,50.95 L45.59,49.06 L46.18,47.20" fill="none" stroke="#3c74f4" stroke-opacity="0.434" stroke-width="1.5" stroke-linecap="round" filter="url(#b05)"/>
<path d="M42.56,59.00 L42.99,57.60 L43.42,56.19 L43.84,54.78 L44.27,53.38 L44.70,51.97 L45.13,50.57" fill="none" stroke="#3c84f8" stroke-opacity="0.62" stroke-width="1.2" stroke-linecap="round" filter="url(#b05)"/>
<path d="M41.51,45.76 L42.10,47.99 L42.68,50.24 L43.26,52.51 L43.84,54.78 L44.43,57.06 L45.01,59.33 L45.59,61.58 L46.18,63.80" fill="none" stroke="#3c74f4" stroke-opacity="0.434" stroke-width="1.5" stroke-linecap="round" filter="url(#b05)"/>
<path d="M42.56,49.79 L42.99,51.45 L43.42,53.11 L43.84,54.78 L44.27,56.46 L44.70,58.12 L45.13,59.78" fill="none" stroke="#3c84f8" stroke-opacity="0.62" stroke-width="1.2" stroke-linecap="round" filter="url(#b05)"/>
<ellipse cx="43.84" cy="54.78" rx="1.7" ry="2.6" fill="#3890f4" fill-opacity="0.62" filter="url(#b1)"/>
<circle cx="43.84" cy="54.78" r="0.75" fill="#a8bc78" filter="url(#b03)"/>
<path d="M69.93,56.83 L70.35,58.44 L70.76,60.06 L71.18,61.68 L71.59,63.31 L72.01,64.94 L72.43,66.56 L72.84,68.18 L73.26,69.79" fill="none" stroke="#3c74f4" stroke-opacity="0.16492" stroke-width="1.5" stroke-linecap="round" filter="url(#b05)"/>
<path d="M70.68,59.74 L70.98,60.93 L71.29,62.12 L71.59,63.31 L71.90,64.51 L72.21,65.70 L72.51,66.89" fill="none" stroke="#3c84f8" stroke-opacity="0.2356" stroke-width="1.2" stroke-linecap="round" filter="url(#b05)"/>
<path d="M69.93,68.77 L70.35,67.41 L70.76,66.05 L71.18,64.68 L71.59,63.31 L72.01,61.94 L72.43,60.57 L72.84,59.21 L73.26,57.86" fill="none" stroke="#3c74f4" stroke-opacity="0.16492" stroke-width="1.5" stroke-linecap="round" filter="url(#b05)"/>
<path d="M70.68,66.33 L70.98,65.32 L71.29,64.32 L71.59,63.31 L71.90,62.31 L72.21,61.30 L72.51,60.30" fill="none" stroke="#3c84f8" stroke-opacity="0.2356" stroke-width="1.2" stroke-linecap="round" filter="url(#b05)"/>
<ellipse cx="71.59" cy="63.31" rx="1.7" ry="2.6" fill="#3890f4" fill-opacity="0.2356" filter="url(#b1)"/>
<path d="M97.01,79.43 L97.60,77.56 L98.18,75.67 L98.76,73.76 L99.34,71.84 L99.93,69.92 L100.51,68.01 L101.09,66.12 L101.68,64.25" fill="none" stroke="#3c74f4" stroke-opacity="0.434" stroke-width="1.5" stroke-linecap="round" filter="url(#b05)"/>
<path d="M98.06,76.05 L98.49,74.65 L98.92,73.25 L99.34,71.84 L99.77,70.43 L100.20,69.03 L100.63,67.63" fill="none" stroke="#3c84f8" stroke-opacity="0.62" stroke-width="1.2" stroke-linecap="round" filter="url(#b05)"/>
<path d="M97.01,62.82 L97.60,65.04 L98.18,67.29 L98.76,69.56 L99.34,71.84 L99.93,74.12 L100.51,76.39 L101.09,78.64 L101.68,80.86" fill="none" stroke="#3c74f4" stroke-opacity="0.434" stroke-width="1.5" stroke-linecap="round" filter="url(#b05)"/>
<path d="M98.06,66.84 L98.49,68.50 L98.92,70.17 L99.34,71.84 L99.77,73.51 L100.20,75.18 L100.63,76.84" fill="none" stroke="#3c84f8" stroke-opacity="0.62" stroke-width="1.2" stroke-linecap="round" filter="url(#b05)"/>
<ellipse cx="99.34" cy="71.84" rx="1.7" ry="2.6" fill="#3890f4" fill-opacity="0.62" filter="url(#b1)"/>
<circle cx="99.34" cy="71.84" r="0.75" fill="#a8bc78" filter="url(#b03)"/>
</g>
<rect x="526.2" y="182" width="6" height="113.7" fill="url(#cb)" stroke="#333" stroke-opacity="0.45" stroke-width="0.35"/>
<path d="M532.2,210.43 h-1.2" stroke="#333" stroke-width="0.5"/>
<path d="M532.2,238.85 h-1.2" stroke="#333" stroke-width="0.5"/>
<path d="M532.2,267.27 h-1.2" stroke="#333" stroke-width="0.5"/>
<text class="cbt" x="534.7" y="185.10">0</text>
<text class="cbt" x="534.7" y="213.53">-10</text>
<text class="cbt" x="534.7" y="241.95">-20</text>
<text class="cbt" x="534.7" y="270.38">-30</text>
<text class="cbt" x="534.7" y="298.80">-40</text>
<text class="tk" text-anchor="end" x="407" y="204.35">500</text>
<text class="tk" text-anchor="end" x="407" y="242.25">0</text>
<text class="tk" text-anchor="end" x="407" y="280.15">-500</text>
<text class="tk" text-anchor="middle" x="410.00" y="307.20">0</text>
<text class="tk" text-anchor="middle" x="465.50" y="307.20">0.5</text>
<text class="tk" text-anchor="middle" x="521.00" y="307.20">1</text>
<text class="ax" text-anchor="middle" x="465.50" y="318.90">Time (s)</text>
<text class="ax" text-anchor="middle" transform="translate(385.80,238.85) rotate(-90)">Frequency (Hz)</text>
<text class="sub" x="373.8" y="339.4">(<tspan>f</tspan>)</text>
</svg>
</body></html>
